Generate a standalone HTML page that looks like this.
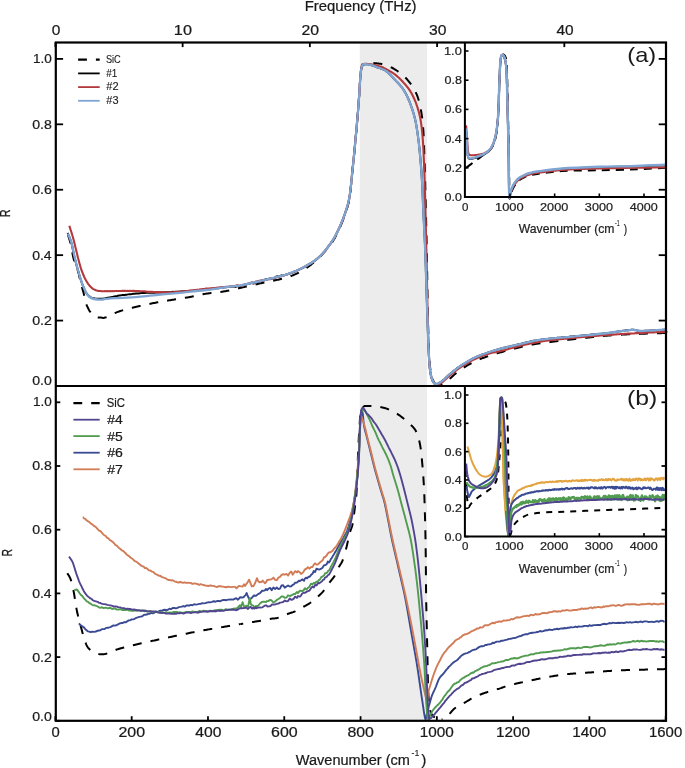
<!DOCTYPE html>
<html><head><meta charset="utf-8"><title>Reflectance</title>
<style>html,body{margin:0;padding:0;background:#fff;} svg{display:block;}</style>
</head><body>
<svg width="685" height="768" viewBox="0 0 685 768">
<rect x="0" y="0" width="685" height="768" fill="#ffffff"/>
<rect x="359.8" y="42.5" width="67.19999999999999" height="343.5" fill="#ececec"/>
<rect x="359.8" y="386.0" width="67.19999999999999" height="334.79999999999995" fill="#ececec"/>
<path d="M68.00,235.00 L68.18,235.58 L68.41,236.30 L68.69,237.15 L69.00,238.10 L69.34,239.14 L69.68,240.25 L70.03,241.41 L70.38,242.60 L70.70,243.81 L71.00,245.00 L71.21,245.93 L71.40,246.90 L71.58,247.90 L71.75,248.92 L71.92,249.97 L72.09,251.04 L72.26,252.12 L72.44,253.22 L72.64,254.32 L72.84,255.42 L73.07,256.52 L73.32,257.62 L73.60,258.70 L73.87,259.65 L74.17,260.63 L74.50,261.62 L74.85,262.63 L75.22,263.66 L75.60,264.68 L75.98,265.70 L76.36,266.71 L76.74,267.70 L77.10,268.68 L77.46,269.62 L77.79,270.53 L78.09,271.40 L78.36,272.23 L78.60,273.00 L78.94,274.27 L79.17,275.35 L79.33,276.29 L79.44,277.14 L79.54,277.98 L79.67,278.87 L79.84,279.85 L80.10,281.00 L80.33,281.87 L80.59,282.80 L80.87,283.79 L81.18,284.81 L81.50,285.87 L81.83,286.94 L82.15,288.01 L82.48,289.07 L82.79,290.12 L83.09,291.13 L83.36,292.09 L83.60,293.00 L83.88,294.15 L84.12,295.26 L84.33,296.33 L84.52,297.37 L84.70,298.37 L84.88,299.33 L85.07,300.26 L85.27,301.15 L85.50,302.00 L85.89,303.20 L86.30,304.31 L86.74,305.33 L87.17,306.28 L87.60,307.17 L88.00,308.00 L88.52,309.08 L88.99,309.99 L89.49,310.82 L90.10,311.70 L90.70,312.49 L91.39,313.31 L92.11,314.13 L92.82,314.87 L93.50,315.50 L94.47,316.27 L95.40,316.81 L96.50,317.20 L97.51,317.41 L98.62,317.53 L99.80,317.58 L101.00,317.60 L101.80,317.69 L102.45,317.84 L103.21,317.91 L104.31,317.78 L106.00,317.30 L106.62,317.07 L107.25,316.81 L107.91,316.51 L108.60,316.18 L109.31,315.83 L110.06,315.45 L110.85,315.05 L111.68,314.63 L112.56,314.19 L113.48,313.75 L114.46,313.30 L115.50,312.84 L116.60,312.38 L117.77,311.92 L119.00,311.47 L120.31,311.03 L121.70,310.60 L122.45,310.38 L123.23,310.16 L124.04,309.93 L124.87,309.70 L125.74,309.47 L126.62,309.23 L127.53,308.99 L128.46,308.75 L129.41,308.51 L130.38,308.27 L131.36,308.03 L132.36,307.78 L133.38,307.54 L134.41,307.29 L135.45,307.04 L136.50,306.80 L137.56,306.55 L138.62,306.31 L139.69,306.06 L140.77,305.82 L141.85,305.58 L142.93,305.34 L144.01,305.10 L145.08,304.87 L146.16,304.64 L147.23,304.41 L148.30,304.18 L149.36,303.96 L150.41,303.74 L151.45,303.52 L152.48,303.31 L153.50,303.10 L154.50,302.90 L155.50,302.70 L156.52,302.50 L157.54,302.31 L158.58,302.12 L159.62,301.93 L160.67,301.74 L161.73,301.56 L162.79,301.37 L163.85,301.19 L164.92,301.01 L165.99,300.84 L167.06,300.66 L168.13,300.49 L169.19,300.32 L170.25,300.15 L171.31,299.98 L172.36,299.82 L173.41,299.65 L174.44,299.49 L175.47,299.33 L176.49,299.17 L177.49,299.02 L178.48,298.86 L179.46,298.71 L180.42,298.56 L181.36,298.41 L182.29,298.26 L183.19,298.11 L184.08,297.97 L184.95,297.82 L185.79,297.68 L186.61,297.54 L187.40,297.40 L188.79,297.15 L190.09,296.90 L191.33,296.66 L192.49,296.43 L193.60,296.21 L194.65,295.99 L195.66,295.77 L196.64,295.56 L197.58,295.36 L198.50,295.16 L199.41,294.96 L200.31,294.77 L201.22,294.58 L202.13,294.40 L203.05,294.22 L204.00,294.04 L204.98,293.87 L206.00,293.70 L207.01,293.54 L207.98,293.41 L208.91,293.29 L209.81,293.19 L210.70,293.10 L211.57,293.02 L212.45,292.94 L213.33,292.87 L214.24,292.79 L215.17,292.70 L216.14,292.60 L217.16,292.49 L218.24,292.36 L219.38,292.20 L220.60,292.03 L221.90,291.82 L223.30,291.58 L224.80,291.30 L225.55,291.15 L226.34,291.00 L227.16,290.83 L228.00,290.66 L228.87,290.48 L229.77,290.29 L230.70,290.10 L231.64,289.89 L232.60,289.68 L233.59,289.47 L234.59,289.25 L235.61,289.02 L236.64,288.79 L237.68,288.56 L238.73,288.32 L239.80,288.08 L240.87,287.84 L241.94,287.60 L243.02,287.35 L244.10,287.10 L245.18,286.85 L246.26,286.61 L247.34,286.36 L248.41,286.11 L249.48,285.87 L250.53,285.62 L251.58,285.38 L252.62,285.14 L253.64,284.91 L254.65,284.67 L255.65,284.45 L256.62,284.22 L257.58,284.00 L258.51,283.79 L259.42,283.58 L260.31,283.38 L261.17,283.19 L262.00,283.00 L263.23,282.73 L264.43,282.47 L265.61,282.22 L266.76,281.98 L267.89,281.74 L268.99,281.52 L270.08,281.30 L271.14,281.09 L272.19,280.88 L273.21,280.68 L274.22,280.47 L275.21,280.27 L276.18,280.08 L277.14,279.88 L278.08,279.68 L279.01,279.47 L279.92,279.27 L280.83,279.06 L281.72,278.84 L282.60,278.62 L283.48,278.40 L284.34,278.16 L285.20,277.92 L286.05,277.66 L286.90,277.40 L287.99,277.04 L289.05,276.69 L290.08,276.32 L291.08,275.96 L292.06,275.59 L293.01,275.22 L293.94,274.83 L294.84,274.45 L295.74,274.05 L296.61,273.65 L297.48,273.23 L298.33,272.81 L299.17,272.38 L300.01,271.93 L300.85,271.47 L301.68,271.00 L302.52,270.52 L303.36,270.02 L304.20,269.50 L305.04,268.97 L305.88,268.42 L306.71,267.86 L307.54,267.28 L308.36,266.69 L309.17,266.09 L309.97,265.48 L310.77,264.85 L311.56,264.22 L312.35,263.58 L313.13,262.93 L313.90,262.27 L314.66,261.60 L315.42,260.93 L316.17,260.25 L316.91,259.57 L317.65,258.88 L318.38,258.19 L319.10,257.50 L319.86,256.76 L320.61,256.01 L321.37,255.24 L322.12,254.47 L322.86,253.68 L323.60,252.88 L324.33,252.08 L325.05,251.27 L325.76,250.46 L326.46,249.64 L327.15,248.82 L327.82,248.01 L328.48,247.19 L329.12,246.38 L329.75,245.58 L330.35,244.78 L330.94,243.98 L331.50,243.20 L332.14,242.27 L332.76,241.36 L333.33,240.45 L333.89,239.55 L334.41,238.66 L334.92,237.76 L335.40,236.87 L335.87,235.98 L336.33,235.08 L336.78,234.18 L337.22,233.27 L337.66,232.35 L338.10,231.41 L338.55,230.46 L339.00,229.50 L339.43,228.58 L339.85,227.65 L340.27,226.71 L340.69,225.76 L341.10,224.81 L341.50,223.84 L341.90,222.87 L342.30,221.89 L342.69,220.91 L343.07,219.93 L343.45,218.94 L343.81,217.95 L344.17,216.96 L344.52,215.97 L344.87,214.99 L345.20,214.00 L345.52,213.04 L345.84,212.11 L346.14,211.20 L346.44,210.32 L346.73,209.44 L347.01,208.56 L347.28,207.68 L347.55,206.78 L347.81,205.86 L348.07,204.90 L348.32,203.90 L348.56,202.86 L348.80,201.75 L349.04,200.58 L349.27,199.33 L349.50,198.00 L349.63,197.20 L349.76,196.36 L349.88,195.50 L350.00,194.60 L350.12,193.68 L350.24,192.74 L350.35,191.77 L350.47,190.79 L350.58,189.78 L350.69,188.76 L350.80,187.73 L350.90,186.68 L351.01,185.63 L351.11,184.56 L351.22,183.49 L351.32,182.42 L351.42,181.35 L351.52,180.27 L351.62,179.20 L351.72,178.13 L351.82,177.07 L351.91,176.02 L352.01,174.98 L352.11,173.95 L352.21,172.93 L352.30,171.94 L352.40,170.96 L352.50,170.00 L352.61,168.95 L352.71,167.93 L352.82,166.94 L352.92,165.96 L353.02,165.00 L353.12,164.05 L353.21,163.12 L353.31,162.20 L353.40,161.28 L353.50,160.36 L353.59,159.44 L353.68,158.52 L353.78,157.60 L353.87,156.67 L353.97,155.72 L354.06,154.76 L354.16,153.78 L354.26,152.79 L354.36,151.77 L354.46,150.72 L354.56,149.65 L354.67,148.54 L354.77,147.40 L354.89,146.22 L355.00,145.00 L355.08,144.15 L355.16,143.28 L355.24,142.39 L355.33,141.48 L355.42,140.55 L355.50,139.61 L355.59,138.64 L355.68,137.67 L355.78,136.68 L355.87,135.68 L355.96,134.66 L356.06,133.64 L356.15,132.61 L356.25,131.57 L356.34,130.52 L356.44,129.46 L356.54,128.41 L356.63,127.34 L356.73,126.28 L356.83,125.21 L356.92,124.15 L357.02,123.08 L357.11,122.02 L357.20,120.96 L357.30,119.91 L357.39,118.86 L357.48,117.82 L357.57,116.78 L357.66,115.75 L357.74,114.74 L357.83,113.73 L357.91,112.74 L357.99,111.76 L358.07,110.80 L358.15,109.85 L358.23,108.91 L358.30,108.00 L358.39,106.88 L358.47,105.76 L358.55,104.63 L358.64,103.50 L358.71,102.38 L358.79,101.25 L358.87,100.12 L358.94,99.00 L359.01,97.89 L359.08,96.78 L359.15,95.68 L359.22,94.58 L359.28,93.50 L359.35,92.43 L359.41,91.38 L359.48,90.33 L359.54,89.31 L359.60,88.30 L359.66,87.30 L359.72,86.33 L359.78,85.38 L359.84,84.46 L359.89,83.55 L359.95,82.67 L360.01,81.82" fill="none" stroke="#000" stroke-width="2.0" stroke-linejoin="round" stroke-dasharray="9 9" stroke-dashoffset="0.00"/>
<path d="M360.01,81.82 L360.07,80.99 L360.13,80.20 L360.18,79.43 L360.24,78.70 L360.30,78.00 L360.45,76.26 L360.57,74.74 L360.67,73.42 L360.77,72.28 L360.86,71.29 L360.96,70.42 L361.08,69.64 L361.21,68.94 L361.37,68.28 L361.56,67.64 L361.80,67.00 L362.40,65.79 L363.07,64.95 L363.87,64.38 L364.83,63.97 L366.00,63.60 L366.86,63.39 L367.80,63.24 L368.83,63.13 L369.92,63.07 L371.07,63.06 L372.26,63.08 L373.47,63.12 L374.70,63.20 L375.61,63.27 L376.56,63.34 L377.54,63.43 L378.53,63.54 L379.55,63.66 L380.58,63.81 L381.61,63.98 L382.65,64.18 L383.67,64.42 L384.70,64.69 L385.70,65.00 L386.61,65.32 L387.52,65.66 L388.43,66.03 L389.34,66.42 L390.25,66.84 L391.16,67.28 L392.06,67.75 L392.97,68.25 L393.88,68.77 L394.78,69.32 L395.69,69.90 L396.60,70.50 L397.38,71.04 L398.18,71.59 L398.97,72.16 L399.78,72.75 L400.58,73.36 L401.38,73.99 L402.18,74.64 L402.98,75.31 L403.76,76.00 L404.54,76.71 L405.30,77.45 L406.05,78.21 L406.79,78.99 L407.50,79.80 L408.12,80.53 L408.73,81.28 L409.34,82.06 L409.95,82.85 L410.55,83.66 L411.14,84.49 L411.72,85.34 L412.29,86.20 L412.85,87.08 L413.40,87.96 L413.93,88.86 L414.44,89.78 L414.94,90.70 L415.42,91.62 L415.87,92.56 L416.30,93.50 L416.68,94.39 L417.05,95.29 L417.39,96.20 L417.72,97.12 L418.03,98.04 L418.32,98.98 L418.60,99.92 L418.87,100.87 L419.13,101.84 L419.37,102.82 L419.61,103.81 L419.84,104.81 L420.06,105.82 L420.27,106.84 L420.49,107.88 L420.69,108.93 L420.90,110.00 L421.07,110.91 L421.23,111.80 L421.39,112.69 L421.54,113.58 L421.68,114.46 L421.82,115.35 L421.95,116.25 L422.07,117.15 L422.19,118.07 L422.31,119.01 L422.42,119.96 L422.52,120.94 L422.63,121.94 L422.73,122.98 L422.83,124.05 L422.93,125.15 L423.02,126.29 L423.11,127.48 L423.21,128.72 L423.30,130.00 L423.36,130.83 L423.41,131.68 L423.47,132.56 L423.52,133.45 L423.57,134.37 L423.62,135.30 L423.67,136.25 L423.71,137.22 L423.76,138.20 L423.80,139.20 L423.84,140.20 L423.89,141.22 L423.93,142.25 L423.97,143.30 L424.01,144.34 L424.04,145.40 L424.08,146.46 L424.12,147.53 L424.15,148.60 L424.19,149.68 L424.23,150.75 L424.26,151.83 L424.29,152.91 L424.33,153.98 L424.36,155.05 L424.40,156.12 L424.43,157.19 L424.46,158.25 L424.50,159.30 L424.53,160.34 L424.57,161.38 L424.60,162.40 L424.63,163.41 L424.67,164.40 L424.70,165.37 L424.73,166.33 L424.76,167.28 L424.79,168.21 L424.82,169.14 L424.84,170.06 L424.87,170.97 L424.90,171.88 L424.92,172.79 L424.95,173.70 L424.97,174.62 L425.00,175.54 L425.02,176.46 L425.05,177.40 L425.08,178.35 L425.10,179.31 L425.13,180.28 L425.15,181.27 L425.18,182.28 L425.20,183.31 L425.23,184.37 L425.26,185.44 L425.28,186.55 L425.31,187.68 L425.34,188.85 L425.37,190.04 L425.40,191.28 L425.43,192.55 L425.47,193.85 L425.50,195.20 L425.52,196.02 L425.54,196.84 L425.56,197.68 L425.58,198.52 L425.61,199.38 L425.63,200.24 L425.65,201.11 L425.67,201.99 L425.69,202.88 L425.72,203.78 L425.74,204.69 L425.76,205.61 L425.79,206.53 L425.81,207.46 L425.83,208.40 L425.86,209.35 L425.88,210.31 L425.91,211.27 L425.93,212.25 L425.96,213.22 L425.98,214.21 L426.01,215.20 L426.03,216.21 L426.06,217.21 L426.08,218.23 L426.11,219.25 L426.13,220.27 L426.16,221.31 L426.18,222.35 L426.21,223.39 L426.23,224.45 L426.26,225.50 L426.28,226.57 L426.31,227.64 L426.33,228.71 L426.36,229.79 L426.38,230.88 L426.41,231.97 L426.43,233.06 L426.46,234.16 L426.49,235.27 L426.51,236.38 L426.54,237.49 L426.56,238.61 L426.58,239.73 L426.61,240.86 L426.63,241.99 L426.66,243.12 L426.68,244.26 L426.71,245.40 L426.73,246.55 L426.75,247.69 L426.78,248.85 L426.80,250.00 L426.82,250.90 L426.84,251.81 L426.85,252.73 L426.87,253.66 L426.89,254.60 L426.91,255.56 L426.92,256.52 L426.94,257.49 L426.96,258.47 L426.97,259.46 L426.99,260.46 L427.01,261.47 L427.02,262.49 L427.04,263.51 L427.06,264.54 L427.08,265.57 L427.09,266.61 L427.11,267.66 L427.12,268.71 L427.14,269.77 L427.16,270.83 L427.17,271.89 L427.19,272.96 L427.21,274.03 L427.22,275.11 L427.24,276.19 L427.26,277.26 L427.27,278.35 L427.29,279.43 L427.31,280.51 L427.32,281.59 L427.34,282.68 L427.35,283.76 L427.37,284.84 L427.39,285.93 L427.40,287.00 L427.42,288.08 L427.44,289.16 L427.45,290.23 L427.47,291.30 L427.49,292.37 L427.50,293.43 L427.52,294.49 L427.54,295.54 L427.55,296.59 L427.57,297.63 L427.59,298.67 L427.60,299.70 L427.62,300.73 L427.64,301.74 L427.66,302.75 L427.67,303.76 L427.69,304.75 L427.71,305.73 L427.72,306.71 L427.74,307.68 L427.76,308.63 L427.78,309.58 L427.80,310.52 L427.81,311.44 L427.83,312.36 L427.85,313.26 L427.87,314.15 L427.89,315.02 L427.91,315.89 L427.92,316.74 L427.94,317.58 L427.96,318.40 L427.98,319.21 L428.00,320.00 L428.03,321.36 L428.07,322.71 L428.10,324.03 L428.14,325.33 L428.17,326.61 L428.20,327.86 L428.24,329.10 L428.27,330.32 L428.31,331.52 L428.34,332.70 L428.38,333.85 L428.41,334.99 L428.45,336.11 L428.48,337.21 L428.52,338.30 L428.55,339.36 L428.59,340.41 L428.63,341.43 L428.66,342.44 L428.70,343.44 L428.74,344.41 L428.77,345.37 L428.81,346.31 L428.85,347.24 L428.89,348.15 L428.93,349.04 L428.96,349.92 L429.00,350.78 L429.04,351.63 L429.08,352.46 L429.12,353.28 L429.16,354.08 L429.20,354.87 L429.25,355.64 L429.29,356.40 L429.33,357.15 L429.37,357.88 L429.41,358.60 L429.46,359.31 L429.50,360.00 L429.62,361.74 L429.73,363.31 L429.85,364.71 L429.97,365.98 L430.09,367.11 L430.22,368.14 L430.34,369.07 L430.47,369.92 L430.60,370.70 L430.74,371.44 L430.88,372.15 L431.03,372.85 L431.18,373.54 L431.34,374.26 L431.50,375.00 L431.82,376.37 L432.16,377.62 L432.51,378.75 L432.88,379.77 L433.26,380.70 L433.66,381.54 L434.07,382.31 L434.50,383.00 L435.28,384.24 L436.04,385.19 L437.03,385.70" fill="none" stroke="#000" stroke-width="2.0" stroke-linejoin="round" stroke-dasharray="9 9" stroke-dashoffset="7.92"/>
<path d="M437.03,385.70 L438.50,385.60 L439.14,385.40 L439.87,385.09 L440.67,384.70 L441.53,384.23 L442.43,383.70 L443.36,383.12 L444.30,382.51 L445.25,381.88 L446.19,381.24 L447.10,380.60 L447.98,379.99 L448.80,379.40 L449.65,378.77 L450.48,378.11 L451.29,377.43 L452.08,376.73 L452.86,376.03 L453.63,375.33 L454.40,374.63 L455.16,373.94 L455.93,373.27 L456.71,372.62 L457.50,372.00 L458.38,371.34 L459.26,370.71 L460.14,370.09 L461.02,369.48 L461.90,368.89 L462.78,368.31 L463.66,367.74 L464.54,367.19 L465.42,366.64 L466.30,366.10 L467.27,365.51 L468.24,364.94 L469.20,364.37 L470.17,363.83 L471.13,363.29 L472.10,362.77 L473.06,362.26 L474.03,361.77 L475.00,361.30 L475.97,360.84 L476.95,360.41 L477.93,359.99 L478.91,359.58 L479.89,359.19 L480.87,358.80 L481.85,358.43 L482.83,358.06 L483.80,357.70 L484.78,357.34 L485.78,356.99 L486.79,356.65 L487.79,356.31 L488.79,355.99 L489.77,355.67 L490.72,355.37 L491.63,355.08 L492.50,354.80 L493.54,354.46 L494.29,354.20 L494.98,353.97 L495.84,353.70 L497.10,353.33 L499.00,352.80 L499.69,352.61 L500.44,352.40 L501.24,352.17 L502.10,351.93 L503.00,351.68 L503.95,351.41 L504.94,351.14 L505.96,350.85 L507.00,350.56 L508.07,350.27 L509.16,349.97 L510.26,349.67 L511.37,349.37 L512.49,349.07 L513.60,348.78 L514.71,348.49 L515.81,348.21 L516.89,347.94 L517.95,347.68 L518.99,347.43 L520.00,347.20 L520.94,346.98 L521.79,346.78 L522.57,346.59 L523.28,346.41 L523.95,346.24 L524.58,346.07 L525.20,345.91 L525.82,345.76 L526.45,345.61 L527.12,345.46 L527.82,345.30 L528.59,345.15 L529.43,344.99 L530.37,344.82 L531.41,344.64 L532.56,344.45 L533.86,344.26 L535.31,344.04 L536.92,343.81 L538.71,343.57 L540.70,343.30 L541.37,343.21 L542.06,343.12 L542.77,343.03 L543.50,342.93 L544.26,342.83 L545.03,342.73 L545.82,342.63 L546.63,342.52 L547.47,342.42 L548.31,342.31 L549.18,342.20 L550.06,342.08 L550.96,341.97 L551.88,341.85 L552.81,341.73 L553.75,341.61 L554.71,341.49 L555.68,341.37 L556.66,341.25 L557.66,341.12 L558.67,341.00 L559.69,340.87 L560.72,340.74 L561.76,340.61 L562.81,340.48 L563.86,340.35 L564.93,340.22 L566.00,340.09 L567.09,339.96 L568.17,339.83 L569.27,339.70 L570.37,339.57 L571.47,339.43 L572.58,339.30 L573.69,339.17 L574.81,339.04 L575.93,338.91 L577.05,338.78 L578.17,338.65 L579.29,338.52 L580.41,338.39 L581.54,338.27 L582.66,338.14 L583.78,338.01 L584.90,337.89 L586.02,337.76 L587.13,337.64 L588.24,337.52 L589.34,337.40 L590.45,337.28 L591.54,337.17 L592.63,337.05 L593.72,336.94 L594.79,336.83 L595.86,336.72 L596.92,336.61 L597.98,336.51 L599.02,336.41 L600.05,336.31 L601.07,336.21 L602.09,336.11 L603.09,336.02 L604.08,335.93 L605.05,335.84 L606.02,335.76 L606.97,335.68 L607.90,335.60 L609.00,335.51 L610.10,335.42 L611.22,335.34 L612.34,335.26 L613.48,335.18 L614.62,335.10 L615.77,335.02 L616.92,334.95 L618.08,334.88 L619.24,334.81 L620.41,334.74 L621.58,334.67 L622.76,334.61 L623.93,334.55 L625.10,334.49 L626.28,334.43 L627.45,334.37 L628.63,334.31 L629.80,334.26 L630.96,334.21 L632.13,334.16 L633.29,334.11 L634.44,334.06 L635.59,334.01 L636.73,333.97 L637.86,333.92 L638.98,333.88 L640.10,333.84 L641.20,333.80 L642.30,333.76 L643.38,333.72 L644.45,333.69 L645.51,333.65 L646.55,333.61 L647.58,333.58 L648.59,333.55 L649.59,333.52 L650.57,333.49 L651.53,333.45 L652.48,333.43 L653.40,333.40 L654.31,333.37 L655.20,333.34 L656.06,333.31 L656.90,333.29 L657.72,333.26 L658.52,333.24 L659.29,333.21 L660.03,333.19 L660.75,333.16 L661.45,333.14 L662.11,333.12 L662.75,333.09 L663.36,333.07 L663.94,333.05 L664.48,333.02 L665.00,333.00" fill="none" stroke="#000" stroke-width="2.0" stroke-linejoin="round" stroke-dasharray="9 9" stroke-dashoffset="3.42"/>
<path d="M67.60,233.00 L67.89,233.71 L68.29,234.63 L68.76,235.71 L69.27,236.94 L69.82,238.26 L70.35,239.66 L70.86,241.08 L71.30,242.50 L71.59,243.56 L71.86,244.67 L72.13,245.83 L72.38,247.03 L72.63,248.26 L72.87,249.50 L73.11,250.74 L73.35,251.97 L73.60,253.18 L73.85,254.36 L74.10,255.50 L74.42,256.85 L74.74,258.19 L75.06,259.50 L75.38,260.80 L75.71,262.07 L76.03,263.33 L76.35,264.57 L76.68,265.80 L77.00,267.00 L77.36,268.32 L77.71,269.61 L78.06,270.86 L78.41,272.09 L78.77,273.32 L79.13,274.54 L79.51,275.76 L79.90,277.00 L80.31,278.27 L80.73,279.57 L81.16,280.88 L81.61,282.19 L82.05,283.47 L82.50,284.71 L82.95,285.89 L83.40,287.00 L83.99,288.38 L84.57,289.69 L85.15,290.91 L85.74,292.06 L86.36,293.11 L87.00,293.96 L87.99,295.12 L89.02,296.16 L90.11,296.87 L91.30,297.60 L92.62,298.02 L94.04,298.29 L95.52,298.63 L97.00,298.86 L98.15,298.84 L99.30,298.78 L100.46,298.77 L101.69,298.81 L103.00,298.68 L104.15,298.40 L105.32,298.21 L106.54,297.96 L107.83,297.71 L109.21,297.60 L110.70,297.24 L111.72,297.10 L112.71,296.88 L113.72,296.59 L114.76,296.46 L115.88,296.12 L117.10,295.95 L118.46,295.61 L119.98,295.40 L121.70,295.13 L122.65,295.01 L123.65,295.03 L124.72,294.91 L125.83,294.67 L126.99,294.63 L128.19,294.38 L129.43,294.25 L130.69,294.21 L131.97,294.06 L133.27,293.81 L134.58,293.83 L135.90,293.59 L137.21,293.44 L138.52,293.43 L139.82,293.26 L141.11,293.13 L142.37,292.98 L143.60,292.88 L144.82,292.91 L146.04,292.80 L147.27,292.80 L148.49,292.73 L149.72,292.69 L150.95,292.76 L152.18,292.66 L153.41,292.63 L154.64,292.67 L155.86,292.51 L157.08,292.45 L158.30,292.57 L159.52,292.57 L160.73,292.43 L161.93,292.35 L163.13,292.42 L164.32,292.45 L165.50,292.27 L166.74,292.33 L167.98,292.30 L169.21,292.19 L170.43,292.08 L171.65,291.94 L172.86,291.84 L174.07,291.97 L175.27,291.81 L176.47,291.81 L177.66,291.67 L178.86,291.70 L180.05,291.62 L181.24,291.48 L182.43,291.36 L183.62,291.38 L184.81,291.20 L186.00,291.12 L187.27,291.10 L188.53,291.09 L189.80,290.97 L191.06,290.80 L192.33,290.81 L193.59,290.59 L194.85,290.41 L196.11,290.34 L197.36,290.27 L198.61,290.10 L199.86,289.99 L201.10,289.92 L202.33,289.86 L203.56,289.66 L204.78,289.57 L206.00,289.57 L207.30,289.49 L208.60,289.30 L209.90,289.14 L211.20,288.97 L212.50,288.72 L213.79,288.51 L215.08,288.34 L216.36,288.37 L217.62,288.22 L218.87,288.13 L220.10,287.80 L221.31,287.72 L222.50,287.57 L223.66,287.48 L224.80,287.28 L226.15,287.25 L227.42,286.97 L228.63,286.91 L229.78,286.87 L230.91,286.82 L232.03,286.70 L233.16,286.58 L234.33,286.47 L235.55,287.06 L236.83,286.09 L238.21,286.15 L239.70,286.30 L240.70,286.20 L241.72,285.33 L242.78,285.49 L243.86,285.49 L244.97,284.87 L246.11,284.60 L247.26,283.96 L248.43,283.89 L249.62,283.72 L250.83,282.65 L252.05,283.00 L253.28,283.44 L254.51,283.20 L255.76,282.68 L257.01,281.80 L258.26,281.86 L259.51,281.43 L260.76,280.87 L262.00,281.11 L263.14,279.85 L264.30,280.30 L265.49,279.14 L266.69,279.47 L267.91,279.19 L269.15,278.52 L270.39,278.84 L271.64,278.43 L272.89,278.28 L274.14,278.50 L275.38,277.34 L276.62,276.40 L277.85,276.36 L279.07,276.71 L280.26,275.87 L281.44,275.35 L282.59,275.73 L283.72,275.41 L284.81,275.05 L285.88,274.81 L286.90,274.39 L288.28,273.98 L289.61,273.44 L290.88,273.01 L292.12,272.63 L293.32,272.22 L294.48,271.76 L295.62,271.18 L296.73,270.71 L297.82,270.17 L298.89,269.61 L299.96,269.16 L301.02,268.72 L302.07,268.21 L303.13,267.64 L304.20,267.12 L305.34,266.37 L306.48,265.69 L307.60,265.10 L308.70,264.44 L309.80,263.78 L310.88,263.15 L311.96,262.53 L313.02,261.83 L314.06,261.07 L315.10,260.42 L316.12,259.70 L317.12,258.82 L318.12,257.90 L319.10,257.00 L319.95,256.33 L320.80,255.41 L321.65,254.61 L322.49,253.71 L323.32,252.75 L324.15,251.86 L324.96,250.81 L325.76,249.83 L326.55,248.88 L327.32,247.86 L328.07,246.95 L328.80,245.94 L329.51,244.95 L330.20,243.98 L330.86,243.10 L331.50,242.19 L332.24,241.12 L332.94,240.06 L333.59,239.02 L334.21,237.99 L334.80,236.95 L335.36,235.89 L335.91,234.87 L336.43,233.83 L336.95,232.79 L337.46,231.75 L337.97,230.70 L338.48,229.60 L339.00,228.49 L339.52,227.36 L340.04,226.22 L340.56,225.06 L341.07,223.88 L341.57,222.70 L342.06,221.50 L342.54,220.29 L343.01,219.08 L343.48,217.86 L343.93,216.65 L344.36,215.43 L344.79,214.21 L345.20,213.00 L345.60,211.82 L345.98,210.68 L346.35,209.57 L346.71,208.47 L347.05,207.38 L347.39,206.28 L347.71,205.15 L348.03,203.98 L348.34,202.75 L348.64,201.45 L348.93,200.07 L349.22,198.59 L349.50,197.00 L349.66,196.00 L349.82,194.95 L349.98,193.86 L350.13,192.73 L350.28,191.57 L350.43,190.38 L350.57,189.16 L350.71,187.91 L350.84,186.65 L350.98,185.36 L351.11,184.07 L351.24,182.76 L351.37,181.45 L351.50,180.14 L351.63,178.83 L351.75,177.52 L351.88,176.23 L352.00,174.94 L352.13,173.67 L352.25,172.42 L352.38,171.20 L352.50,170.00 L352.63,168.78 L352.75,167.59 L352.88,166.42 L353.00,165.28 L353.11,164.15 L353.23,163.04 L353.34,161.94 L353.45,160.84 L353.56,159.74 L353.68,158.64 L353.79,157.53 L353.90,156.40 L354.01,155.26 L354.13,154.09 L354.24,152.90 L354.36,151.67 L354.48,150.41 L354.61,149.10 L354.73,147.75 L354.86,146.35 L355.00,144.90 L355.10,143.88 L355.19,142.83 L355.29,141.75 L355.40,140.64 L355.50,139.50 L355.61,138.35 L355.72,137.17 L355.83,135.97 L355.94,134.76 L356.05,133.53 L356.16,132.29 L356.28,131.04 L356.39,129.77 L356.51,128.50 L356.62,127.23 L356.74,125.95 L356.85,124.67 L356.97,123.39 L357.08,122.11 L357.19,120.84 L357.30,119.57 L357.41,118.31 L357.52,117.07 L357.63,115.83 L357.73,114.61 L357.83,113.41 L357.93,112.22 L358.03,111.06 L358.12,109.91 L358.21,108.79 L358.30,107.70 L358.41,106.30 L358.51,104.90 L358.62,103.50 L358.72,102.09 L358.81,100.69 L358.91,99.30 L359.00,97.91 L359.09,96.53 L359.18,95.17 L359.26,93.82 L359.34,92.49 L359.43,91.18 L359.50,89.89 L359.58,88.63 L359.66,87.40 L359.73,86.20 L359.81,85.03 L359.88,83.90 L359.95,82.81 L360.02,81.75 L360.09,80.74 L360.16,79.78 L360.23,78.86 L360.30,78.00 L360.49,75.72 L360.65,73.86 L360.80,72.34 L360.94,71.10 L361.08,70.07 L361.23,69.17 L361.40,68.34 L361.60,67.50 L362.11,65.72 L362.71,64.78 L363.80,64.28 L364.82,64.15 L366.09,64.07 L367.49,64.20 L368.92,64.58 L370.30,64.76 L371.58,65.24 L372.83,65.68 L374.10,66.02 L375.44,66.55 L376.90,67.23 L378.04,67.57 L379.26,67.90 L380.52,68.45 L381.82,68.85 L383.13,69.45 L384.43,69.96 L385.70,70.76 L386.57,71.46 L387.44,72.07 L388.31,72.84 L389.18,73.74 L390.05,74.66 L390.92,75.57 L391.79,76.37 L392.66,77.33 L393.53,78.30 L394.40,79.21 L395.20,80.07 L396.03,80.86 L396.85,81.68 L397.69,82.55 L398.52,83.43 L399.35,84.41 L400.17,85.35 L400.96,86.30 L401.74,87.23 L402.49,88.23 L403.20,89.26 L403.83,90.28 L404.43,91.27 L405.01,92.26 L405.57,93.21 L406.12,94.21 L406.66,95.29 L407.18,96.35 L407.69,97.46 L408.20,98.58 L408.70,99.74 L409.20,100.95 L409.70,102.20 L410.10,103.23 L410.50,104.29 L410.90,105.37 L411.30,106.48 L411.69,107.60 L412.08,108.75 L412.46,109.92 L412.84,111.11 L413.21,112.31 L413.57,113.53 L413.92,114.76 L414.26,116.01 L414.58,117.26 L414.90,118.53 L415.20,119.80 L415.45,120.93 L415.70,122.09 L415.93,123.25 L416.15,124.43 L416.37,125.62 L416.57,126.83 L416.77,128.04 L416.96,129.27 L417.15,130.50 L417.33,131.74 L417.51,132.98 L417.68,134.23 L417.85,135.48 L418.01,136.74 L418.18,137.99 L418.34,139.25 L418.50,140.50 L418.65,141.69 L418.80,142.88 L418.94,144.08 L419.08,145.29 L419.21,146.50 L419.34,147.71 L419.47,148.93 L419.59,150.15 L419.71,151.38 L419.83,152.60 L419.95,153.83 L420.06,155.06 L420.17,156.28 L420.28,157.51 L420.39,158.74 L420.49,159.96 L420.60,161.18 L420.70,162.40 L420.80,163.61 L420.90,164.81 L421.00,166.01 L421.09,167.19 L421.18,168.38 L421.27,169.56 L421.35,170.74 L421.44,171.92 L421.52,173.11 L421.60,174.31 L421.68,175.51 L421.76,176.72 L421.83,177.94 L421.91,179.18 L421.98,180.43 L422.05,181.70 L422.13,182.99 L422.20,184.30 L422.26,185.43 L422.32,186.54 L422.37,187.65 L422.42,188.75 L422.47,189.85 L422.52,190.95 L422.57,192.06 L422.61,193.17 L422.66,194.30 L422.70,195.44 L422.75,196.60 L422.79,197.79 L422.84,199.00 L422.89,200.23 L422.94,201.50 L422.99,202.81 L423.05,204.16 L423.10,205.54 L423.17,206.98 L423.23,208.46 L423.30,210.00 L423.35,211.00 L423.39,212.03 L423.44,213.07 L423.49,214.12 L423.55,215.19 L423.60,216.28 L423.66,217.38 L423.71,218.50 L423.77,219.63 L423.83,220.78 L423.89,221.94 L423.94,223.11 L424.00,224.30 L424.07,225.50 L424.13,226.71 L424.19,227.93 L424.25,229.16 L424.31,230.40 L424.37,231.66 L424.44,232.92 L424.50,234.19 L424.56,235.47 L424.62,236.76 L424.68,238.05 L424.74,239.36 L424.80,240.67 L424.86,241.99 L424.92,243.31 L424.98,244.64 L425.04,245.97 L425.09,247.31 L425.15,248.65 L425.20,250.00 L425.24,251.12 L425.29,252.25 L425.33,253.39 L425.37,254.55 L425.41,255.71 L425.46,256.89 L425.50,258.08 L425.54,259.27 L425.58,260.48 L425.62,261.69 L425.66,262.91 L425.70,264.13 L425.74,265.37 L425.78,266.60 L425.82,267.85 L425.86,269.10 L425.90,270.35 L425.94,271.60 L425.98,272.86 L426.02,274.12 L426.06,275.39 L426.10,276.65 L426.14,277.92 L426.17,279.18 L426.21,280.45 L426.25,281.71 L426.29,282.98 L426.33,284.24 L426.37,285.50 L426.41,286.75 L426.45,288.00 L426.48,289.25 L426.52,290.49 L426.56,291.73 L426.60,292.96 L426.64,294.18 L426.68,295.40 L426.72,296.61 L426.76,297.81 L426.80,299.00 L426.84,300.26 L426.88,301.52 L426.93,302.79 L426.97,304.07 L427.01,305.36 L427.05,306.65 L427.09,307.95 L427.14,309.25 L427.18,310.55 L427.22,311.86 L427.26,313.16 L427.31,314.46 L427.35,315.77 L427.39,317.07 L427.43,318.37 L427.47,319.66 L427.52,320.95 L427.56,322.23 L427.60,323.50 L427.64,324.77 L427.68,326.02 L427.73,327.27 L427.77,328.50 L427.81,329.72 L427.85,330.93 L427.89,332.13 L427.94,333.31 L427.98,334.47 L428.02,335.62 L428.06,336.75 L428.11,337.86 L428.15,338.94 L428.19,340.01 L428.23,341.06 L428.27,342.08 L428.32,343.08 L428.36,344.05 L428.40,345.00 L428.48,346.74 L428.55,348.41 L428.63,350.02 L428.70,351.56 L428.77,353.05 L428.84,354.48 L428.91,355.85 L428.98,357.17 L429.05,358.44 L429.12,359.67 L429.20,360.85 L429.27,361.99 L429.35,363.10 L429.43,364.17 L429.52,365.21 L429.60,366.21 L429.69,367.19 L429.79,368.15 L429.89,369.08 L430.00,370.00 L430.25,371.90 L430.52,373.60 L430.81,375.10 L431.11,376.43 L431.42,377.62 L431.75,378.68 L432.09,379.63 L432.44,380.49 L432.80,381.29 L433.90,383.04 L435.12,383.80 L436.60,383.99 L437.69,383.81 L438.92,383.21 L440.22,382.49 L441.53,381.55 L442.80,380.55 L443.78,379.84 L444.71,379.02 L445.64,378.01 L446.61,376.98 L447.65,376.02 L448.80,375.00 L449.65,374.29 L450.55,373.60 L451.50,372.77 L452.48,371.98 L453.48,371.04 L454.49,370.28 L455.51,369.55 L456.51,368.67 L457.50,367.90 L458.60,367.24 L459.70,366.55 L460.80,365.67 L461.90,365.02 L463.00,364.24 L464.10,363.66 L465.20,363.00 L466.30,362.26 L467.39,361.58 L468.48,361.04 L469.57,360.39 L470.65,359.82 L471.73,359.16 L472.82,358.55 L473.91,358.12 L475.00,357.56 L476.25,356.94 L477.51,356.40 L478.77,355.93 L480.03,355.46 L481.29,355.03 L482.55,354.48 L483.80,354.07 L485.06,353.59 L486.33,353.17 L487.60,352.73 L488.86,352.30 L490.10,351.90 L491.32,351.51 L492.50,351.07 L493.82,350.61 L495.10,350.24 L496.34,349.90 L497.57,349.47 L498.78,349.11 L500.00,348.72 L501.11,348.54 L502.07,348.39 L503.02,348.07 L504.10,347.75 L505.45,347.43 L507.20,347.06 L508.10,346.83 L509.10,346.73 L510.17,346.32 L511.30,346.05 L512.50,345.72 L513.73,345.52 L515.01,345.26 L516.30,344.84 L517.61,344.47 L518.93,344.23 L520.23,343.96 L521.52,343.75 L522.78,343.30 L524.00,343.00 L525.16,342.74 L526.24,342.49 L527.28,342.25 L528.29,342.11 L529.28,341.87 L530.28,341.55 L531.30,341.28 L532.37,341.06 L533.49,340.80 L534.70,340.68 L536.01,340.39 L537.43,340.18 L538.99,340.01 L540.70,339.72 L541.62,339.53 L542.58,339.52 L543.58,339.44 L544.61,339.21 L545.68,339.10 L546.78,339.07 L547.91,338.87 L549.07,338.67 L550.25,338.49 L551.45,338.54 L552.68,338.44 L553.92,338.24 L555.17,338.12 L556.44,338.00 L557.72,337.83 L559.01,337.84 L560.31,337.69 L561.61,337.47 L562.91,337.27 L564.21,337.22 L565.50,337.10 L566.80,337.07 L568.08,336.96 L569.35,336.82 L570.61,336.60 L571.86,336.45 L573.09,336.36 L574.30,336.23 L575.51,336.24 L576.72,336.08 L577.95,335.98 L579.19,335.94 L580.43,335.69 L581.68,335.59 L582.94,335.39 L584.19,335.38 L585.45,335.13 L586.71,335.15 L587.97,335.08 L589.23,334.97 L590.48,334.70 L591.73,334.57 L592.97,334.55 L594.21,334.33 L595.43,334.26 L596.65,334.15 L597.85,334.14 L599.04,333.98 L600.21,333.90 L601.37,333.68 L602.51,333.64 L603.63,333.46 L604.73,333.44 L605.81,333.17 L606.87,333.17 L607.90,332.95 L609.39,332.82 L610.87,332.64 L612.32,332.37 L613.74,332.29 L615.15,332.01 L616.52,331.78 L617.87,331.52 L619.20,331.35 L620.49,331.19 L621.74,331.06 L622.97,330.81 L624.16,330.69 L625.31,330.41 L626.43,330.28 L627.51,330.16 L628.55,330.15 L629.54,330.05 L630.49,329.93 L631.40,329.72 L633.21,329.71 L634.55,329.88 L635.58,330.00 L636.45,330.29 L637.32,330.54 L638.35,330.67 L639.69,331.02 L641.50,331.08 L642.45,330.95 L643.53,330.97 L644.71,330.87 L645.98,330.81 L647.33,330.78 L648.73,330.66 L650.18,330.57 L651.66,330.49 L653.14,330.45 L654.62,330.28 L656.08,330.15 L657.49,330.15 L658.86,330.00 L660.15,330.02 L661.36,329.89 L662.46,329.83 L663.45,329.68 L664.30,329.71 L665.00,329.60" fill="none" stroke="#000" stroke-width="2.0" stroke-linejoin="round"/>
<path d="M69.30,225.70 L69.52,226.38 L69.80,227.26 L70.14,228.30 L70.51,229.47 L70.92,230.73 L71.34,232.05 L71.76,233.39 L72.17,234.72 L72.55,236.00 L72.90,237.20 L73.25,238.48 L73.59,239.76 L73.92,241.04 L74.24,242.32 L74.56,243.60 L74.87,244.87 L75.18,246.15 L75.49,247.43 L75.80,248.70 L76.11,249.98 L76.43,251.27 L76.74,252.56 L77.05,253.85 L77.35,255.13 L77.66,256.41 L77.97,257.66 L78.29,258.90 L78.60,260.10 L78.95,261.43 L79.30,262.73 L79.65,264.01 L80.00,265.27 L80.36,266.51 L80.72,267.73 L81.10,268.93 L81.50,270.10 L81.98,271.43 L82.48,272.74 L82.99,274.03 L83.52,275.28 L84.05,276.49 L84.58,277.63 L85.10,278.70 L85.81,280.06 L86.51,281.26 L87.21,282.43 L87.94,283.53 L88.70,284.57 L89.49,285.53 L90.30,286.43 L91.15,287.29 L92.04,288.13 L93.00,288.84 L93.95,289.32 L94.88,289.81 L95.90,290.24 L97.13,290.62 L98.70,290.96 L99.60,291.02 L100.54,290.99 L101.53,291.18 L102.57,291.18 L103.69,291.20 L104.88,291.15 L106.17,291.18 L107.57,291.17 L109.07,291.25 L110.70,291.13 L111.67,291.19 L112.70,291.11 L113.78,291.19 L114.90,291.06 L116.07,291.05 L117.27,291.04 L118.50,291.07 L119.75,290.94 L121.03,290.96 L122.32,290.90 L123.63,290.88 L124.93,290.89 L126.24,290.99 L127.54,290.91 L128.84,290.98 L130.11,290.84 L131.37,290.96 L132.60,290.89 L133.82,290.86 L135.03,291.00 L136.25,291.11 L137.47,291.00 L138.68,291.06 L139.90,291.24 L141.12,291.25 L142.33,291.29 L143.55,291.31 L144.77,291.38 L145.98,291.57 L147.20,291.76 L148.42,291.87 L149.63,291.84 L150.85,291.78 L152.07,291.85 L153.28,292.01 L154.50,292.08 L155.71,292.09 L156.89,292.03 L158.06,292.10 L159.22,292.13 L160.37,292.20 L161.51,292.16 L162.66,292.31 L163.81,292.36 L164.97,292.24 L166.14,292.23 L167.32,292.35 L168.53,292.26 L169.76,292.35 L171.02,292.27 L172.30,292.25 L173.63,292.21 L174.99,292.04 L176.40,291.94 L177.49,291.86 L178.63,291.85 L179.81,291.78 L181.01,291.56 L182.25,291.56 L183.51,291.37 L184.80,291.18 L186.10,291.06 L187.41,291.03 L188.73,290.82 L190.06,290.66 L191.39,290.56 L192.72,290.42 L194.04,290.22 L195.35,289.98 L196.65,289.83 L197.92,289.74 L199.18,289.58 L200.41,289.38 L201.60,289.18 L202.76,289.03 L203.89,288.97 L204.97,288.83 L206.00,288.61 L207.58,288.56 L209.08,288.48 L210.51,288.34 L211.89,288.23 L213.21,288.12 L214.48,287.93 L215.72,287.86 L216.91,287.68 L218.08,287.50 L219.22,287.43 L220.35,287.33 L221.46,287.37 L222.57,287.26 L223.68,287.13 L224.80,287.03 L226.15,286.82 L227.42,286.78 L228.63,286.75 L229.78,286.63 L230.91,286.52 L232.03,286.47 L233.16,286.38 L234.33,286.35 L235.55,285.79 L236.83,285.40 L238.21,285.41 L239.70,285.72 L240.70,285.79 L241.72,285.54 L242.78,285.67 L243.86,284.83 L244.97,283.99 L246.11,284.14 L247.26,283.95 L248.43,283.37 L249.62,283.62 L250.83,283.08 L252.05,282.59 L253.28,282.35 L254.51,282.85 L255.76,281.61 L257.01,281.47 L258.26,281.12 L259.51,280.71 L260.76,280.66 L262.00,280.18 L263.14,280.73 L264.30,280.18 L265.49,280.07 L266.69,279.17 L267.91,279.09 L269.15,279.04 L270.39,279.13 L271.64,278.20 L272.89,277.99 L274.14,278.21 L275.38,278.04 L276.62,277.02 L277.85,276.90 L279.07,276.93 L280.26,276.26 L281.44,276.19 L282.59,275.72 L283.72,275.47 L284.81,275.09 L285.88,274.77 L286.90,274.38 L288.28,273.99 L289.61,273.47 L290.88,273.03 L292.12,272.55 L293.32,272.06 L294.48,271.55 L295.62,271.09 L296.73,270.67 L297.82,270.14 L298.89,269.58 L299.96,269.21 L301.02,268.62 L302.07,268.20 L303.13,267.61 L304.20,266.99 L305.34,266.46 L306.48,265.87 L307.60,265.13 L308.70,264.42 L309.80,263.86 L310.88,263.27 L311.96,262.56 L313.02,261.89 L314.06,261.11 L315.10,260.39 L316.12,259.56 L317.12,258.77 L318.12,257.94 L319.10,257.07 L319.95,256.28 L320.80,255.51 L321.65,254.56 L322.49,253.65 L323.32,252.73 L324.15,251.87 L324.96,250.88 L325.76,249.84 L326.55,248.93 L327.32,247.97 L328.07,246.98 L328.80,245.96 L329.51,245.01 L330.20,244.03 L330.86,243.07 L331.50,242.22 L332.24,241.15 L332.94,240.03 L333.59,239.02 L334.21,237.93 L334.80,236.91 L335.36,235.87 L335.91,234.85 L336.43,233.83 L336.95,232.81 L337.46,231.75 L337.97,230.68 L338.48,229.60 L339.00,228.49 L339.52,227.38 L340.04,226.22 L340.56,225.05 L341.07,223.88 L341.57,222.69 L342.06,221.49 L342.54,220.29 L343.01,219.08 L343.48,217.87 L343.93,216.65 L344.36,215.43 L344.79,214.21 L345.20,213.00 L345.60,211.82 L345.98,210.68 L346.35,209.57 L346.71,208.47 L347.05,207.38 L347.39,206.28 L347.71,205.15 L348.03,203.98 L348.34,202.75 L348.64,201.45 L348.93,200.07 L349.22,198.59 L349.50,197.00 L349.66,196.00 L349.82,194.95 L349.98,193.86 L350.13,192.73 L350.28,191.57 L350.43,190.38 L350.57,189.16 L350.71,187.91 L350.84,186.65 L350.98,185.36 L351.11,184.07 L351.24,182.76 L351.37,181.45 L351.50,180.14 L351.63,178.83 L351.75,177.52 L351.88,176.23 L352.00,174.94 L352.13,173.67 L352.25,172.42 L352.38,171.20 L352.50,170.00 L352.63,168.78 L352.75,167.59 L352.88,166.42 L353.00,165.28 L353.11,164.15 L353.23,163.04 L353.34,161.94 L353.45,160.84 L353.56,159.74 L353.68,158.64 L353.79,157.53 L353.90,156.40 L354.01,155.26 L354.13,154.09 L354.24,152.90 L354.36,151.67 L354.48,150.41 L354.61,149.10 L354.73,147.75 L354.86,146.35 L355.00,144.90 L355.10,143.88 L355.19,142.83 L355.29,141.75 L355.40,140.64 L355.50,139.50 L355.61,138.35 L355.72,137.17 L355.83,135.97 L355.94,134.76 L356.05,133.53 L356.16,132.29 L356.28,131.04 L356.39,129.77 L356.51,128.50 L356.62,127.23 L356.74,125.95 L356.85,124.67 L356.97,123.39 L357.08,122.11 L357.19,120.84 L357.30,119.57 L357.41,118.31 L357.52,117.07 L357.63,115.83 L357.73,114.61 L357.83,113.41 L357.93,112.22 L358.03,111.06 L358.12,109.91 L358.21,108.79 L358.30,107.70 L358.41,106.30 L358.51,104.90 L358.62,103.50 L358.72,102.09 L358.81,100.69 L358.91,99.30 L359.00,97.91 L359.09,96.53 L359.18,95.17 L359.26,93.82 L359.34,92.49 L359.43,91.18 L359.50,89.89 L359.58,88.63 L359.66,87.40 L359.73,86.20 L359.81,85.03 L359.88,83.90 L359.95,82.81 L360.02,81.75 L360.09,80.74 L360.16,79.78 L360.23,78.86 L360.30,78.00 L360.49,75.72 L360.65,73.86 L360.80,72.35 L360.94,71.12 L361.08,70.09 L361.23,69.19 L361.40,68.35 L361.60,67.50 L361.78,65.57 L362.06,64.43 L363.80,64.00 L364.62,63.87 L365.62,63.88 L366.76,63.91 L368.01,64.08 L369.36,64.25 L370.77,64.33 L372.22,64.58 L373.68,64.88 L375.12,65.13 L376.53,65.46 L377.86,65.78 L379.10,66.16 L380.28,66.47 L381.43,66.85 L382.58,67.24 L383.71,67.88 L384.82,68.42 L385.92,68.89 L387.00,69.55 L388.07,70.16 L389.12,70.62 L390.16,71.35 L391.19,71.94 L392.20,72.56 L393.20,73.23 L394.18,73.96 L395.15,74.64 L396.11,75.38 L397.05,76.17 L397.97,77.01 L398.89,77.81 L399.78,78.64 L400.66,79.60 L401.52,80.43 L402.37,81.31 L403.20,82.21 L404.01,83.15 L404.81,83.95 L405.59,84.84 L406.35,85.82 L407.09,86.76 L407.82,87.71 L408.54,88.64 L409.24,89.61 L409.93,90.62 L410.60,91.74 L411.26,92.86 L411.90,94.01 L412.41,94.98 L412.91,95.96 L413.40,96.99 L413.89,98.06 L414.37,99.12 L414.84,100.22 L415.30,101.34 L415.75,102.48 L416.18,103.63 L416.61,104.80 L417.02,105.98 L417.41,107.17 L417.79,108.38 L418.15,109.59 L418.50,110.80 L418.81,111.93 L419.10,113.04 L419.37,114.14 L419.63,115.24 L419.87,116.33 L420.11,117.44 L420.33,118.56 L420.54,119.71 L420.74,120.88 L420.93,122.09 L421.12,123.35 L421.30,124.65 L421.48,126.01 L421.66,127.43 L421.83,128.93 L422.00,130.50 L422.10,131.50 L422.20,132.51 L422.30,133.54 L422.40,134.58 L422.49,135.63 L422.58,136.71 L422.66,137.80 L422.75,138.90 L422.83,140.02 L422.91,141.17 L422.98,142.33 L423.06,143.51 L423.13,144.71 L423.20,145.93 L423.27,147.17 L423.34,148.43 L423.41,149.72 L423.48,151.03 L423.54,152.36 L423.61,153.72 L423.68,155.10 L423.74,156.51 L423.81,157.94 L423.87,159.40 L423.93,160.89 L424.00,162.40 L424.04,163.43 L424.09,164.48 L424.13,165.54 L424.17,166.62 L424.21,167.72 L424.25,168.83 L424.29,169.96 L424.33,171.11 L424.37,172.26 L424.41,173.43 L424.44,174.62 L424.48,175.81 L424.52,177.01 L424.56,178.23 L424.59,179.46 L424.63,180.69 L424.66,181.93 L424.70,183.18 L424.73,184.44 L424.77,185.70 L424.80,186.97 L424.84,188.24 L424.87,189.52 L424.90,190.80 L424.94,192.09 L424.97,193.37 L425.00,194.66 L425.04,195.95 L425.07,197.24 L425.10,198.53 L425.14,199.82 L425.17,201.10 L425.20,202.39 L425.23,203.67 L425.27,204.94 L425.30,206.22 L425.33,207.48 L425.37,208.75 L425.40,210.00 L425.43,211.19 L425.46,212.37 L425.49,213.56 L425.53,214.74 L425.56,215.92 L425.59,217.10 L425.62,218.27 L425.65,219.45 L425.68,220.63 L425.71,221.80 L425.74,222.98 L425.77,224.16 L425.80,225.33 L425.82,226.51 L425.85,227.69 L425.88,228.87 L425.91,230.06 L425.94,231.24 L425.97,232.43 L426.00,233.63 L426.03,234.82 L426.06,236.02 L426.08,237.23 L426.11,238.44 L426.14,239.65 L426.17,240.87 L426.20,242.09 L426.23,243.32 L426.25,244.56 L426.28,245.80 L426.31,247.05 L426.34,248.31 L426.37,249.58 L426.40,250.85 L426.43,252.13 L426.45,253.42 L426.48,254.71 L426.51,256.02 L426.54,257.34 L426.57,258.66 L426.60,260.00 L426.62,261.11 L426.65,262.23 L426.67,263.37 L426.70,264.52 L426.72,265.69 L426.74,266.86 L426.77,268.05 L426.79,269.25 L426.81,270.46 L426.84,271.68 L426.86,272.91 L426.88,274.14 L426.91,275.39 L426.93,276.64 L426.95,277.89 L426.98,279.16 L427.00,280.42 L427.02,281.69 L427.05,282.96 L427.07,284.24 L427.09,285.52 L427.12,286.79 L427.14,288.07 L427.16,289.35 L427.19,290.62 L427.21,291.90 L427.23,293.17 L427.26,294.44 L427.28,295.70 L427.31,296.96 L427.33,298.21 L427.35,299.46 L427.38,300.70 L427.40,301.93 L427.43,303.15 L427.45,304.37 L427.47,305.57 L427.50,306.77 L427.52,307.95 L427.55,309.12 L427.57,310.28 L427.60,311.42 L427.62,312.55 L427.65,313.67 L427.67,314.76 L427.70,315.85 L427.72,316.91 L427.75,317.96 L427.77,318.99 L427.80,320.00 L427.84,321.51 L427.88,323.00 L427.92,324.47 L427.95,325.93 L427.99,327.38 L428.03,328.80 L428.07,330.21 L428.11,331.60 L428.14,332.97 L428.18,334.33 L428.22,335.67 L428.26,336.99 L428.29,338.29 L428.33,339.57 L428.37,340.83 L428.41,342.07 L428.45,343.30 L428.49,344.50 L428.53,345.68 L428.57,346.85 L428.62,347.99 L428.66,349.11 L428.70,350.21 L428.75,351.29 L428.79,352.35 L428.84,353.38 L428.89,354.40 L428.94,355.39 L428.99,356.36 L429.04,357.30 L429.09,358.23 L429.14,359.12 L429.20,360.00 L429.33,361.95 L429.47,363.72 L429.60,365.34 L429.74,366.81 L429.89,368.16 L430.03,369.39 L430.19,370.53 L430.35,371.59 L430.52,372.57 L430.69,373.51 L430.88,374.40 L431.07,375.27 L431.28,376.13 L431.50,377.00 L431.97,378.64 L432.49,380.08 L433.04,381.33 L433.63,382.40 L434.23,383.22 L434.86,384.00 L435.50,384.45 L436.60,384.96 L437.73,384.94 L438.99,384.43 L440.50,383.59 L441.28,382.97 L442.11,382.31 L443.01,381.64 L443.94,380.73 L444.90,379.98 L445.88,379.04 L446.87,378.15 L447.84,377.27 L448.80,376.53 L449.75,375.67 L450.70,374.84 L451.67,374.02 L452.63,373.22 L453.60,372.52 L454.58,371.82 L455.55,370.90 L456.53,370.19 L457.50,369.46 L458.60,368.67 L459.70,367.92 L460.80,367.13 L461.90,366.47 L463.00,365.75 L464.10,365.02 L465.20,364.35 L466.30,363.86 L467.39,363.21 L468.48,362.63 L469.57,361.98 L470.65,361.34 L471.73,360.63 L472.82,360.00 L473.91,359.61 L475.00,359.06 L476.25,358.49 L477.51,357.83 L478.77,357.42 L480.03,356.91 L481.29,356.34 L482.55,355.87 L483.80,355.57 L485.07,355.09 L486.36,354.50 L487.65,354.01 L488.93,353.71 L490.18,353.25 L491.37,352.90 L492.50,352.52 L493.38,352.31 L493.57,352.42 L493.97,352.46 L495.48,352.18 L499.00,351.40 L499.71,351.29 L500.45,351.06 L501.23,350.84 L502.04,350.70 L502.89,350.41 L503.77,350.30 L504.68,350.09 L505.62,349.83 L506.60,349.61 L507.61,349.18 L508.64,348.90 L509.71,348.60 L510.80,348.23 L511.92,348.06 L513.07,347.62 L514.25,347.46 L515.45,347.12 L516.67,346.85 L517.92,346.35 L519.20,346.14 L520.49,345.86 L521.81,345.51 L523.16,345.13 L524.52,344.81 L525.90,344.45 L527.30,344.20 L528.72,343.86 L530.16,343.53 L531.62,343.20 L533.10,342.94 L534.59,342.66 L536.09,342.46 L537.62,342.18 L539.15,341.83 L540.70,341.64 L541.68,341.41 L542.68,341.29 L543.71,341.16 L544.75,341.07 L545.80,340.80 L546.88,340.64 L547.97,340.50 L549.08,340.45 L550.20,340.24 L551.34,340.17 L552.49,340.12 L553.66,339.91 L554.83,339.71 L556.02,339.64 L557.22,339.48 L558.43,339.35 L559.66,339.16 L560.89,339.12 L562.12,338.95 L563.37,338.95 L564.63,338.75 L565.89,338.65 L567.15,338.58 L568.42,338.48 L569.70,338.17 L570.98,338.18 L572.26,337.93 L573.55,337.94 L574.84,337.83 L576.13,337.61 L577.42,337.56 L578.71,337.43 L580.00,337.29 L581.28,337.20 L582.57,337.06 L583.85,336.99 L585.13,336.90 L586.41,336.65 L587.68,336.64 L588.94,336.57 L590.20,336.51 L591.45,336.35 L592.70,336.24 L593.93,336.05 L595.16,335.93 L596.38,335.98 L597.59,335.75 L598.79,335.79 L599.97,335.57 L601.15,335.49 L602.31,335.46 L603.46,335.26 L604.59,335.22 L605.71,335.22 L606.81,335.08 L607.90,334.93 L609.28,334.78 L610.67,334.85 L612.07,334.62 L613.48,334.60 L614.89,334.52 L616.31,334.35 L617.74,334.29 L619.17,334.24 L620.59,334.06 L622.02,333.95 L623.45,334.00 L624.88,333.81 L626.30,333.75 L627.72,333.67 L629.13,333.66 L630.54,333.62 L631.93,333.53 L633.32,333.43 L634.69,333.33 L636.06,333.16 L637.40,333.16 L638.74,333.08 L640.05,333.08 L641.35,332.96 L642.63,332.83 L643.89,332.80 L645.13,332.85 L646.34,332.75 L647.53,332.72 L648.70,332.54 L649.84,332.49 L650.95,332.44 L652.03,332.44 L653.08,332.33 L654.10,332.44 L655.08,332.31 L656.03,332.17 L656.94,332.15 L657.82,332.17 L658.66,332.17 L659.46,332.18 L660.21,332.01 L660.93,332.12 L661.60,332.10 L666.66,331.75 L665.00,331.80" fill="none" stroke="#b4393c" stroke-width="2.1" stroke-linejoin="round"/>
<path d="M67.90,233.60 C68.50,235.15 70.43,239.20 71.50,242.90 C72.57,246.60 73.35,251.73 74.30,255.80 C75.25,259.87 76.23,263.72 77.20,267.30 C78.17,270.88 79.03,273.97 80.10,277.30 C81.17,280.63 82.42,284.43 83.60,287.30 C84.78,290.17 85.88,292.70 87.20,294.50 C88.52,296.30 89.83,297.27 91.50,298.10 C93.17,298.93 95.28,299.27 97.20,299.50 C99.12,299.73 100.75,299.70 103.00,299.50 C105.25,299.30 107.58,298.57 110.70,298.30 C113.82,298.03 116.22,298.23 121.70,297.90 C127.18,297.57 136.30,296.92 143.60,296.30 C150.90,295.68 158.43,294.88 165.50,294.20 C172.57,293.52 179.25,292.90 186.00,292.20 C192.75,291.50 199.53,290.82 206.00,290.00 C212.47,289.18 219.18,288.03 224.80,287.30 C230.42,286.57 233.50,286.72 239.70,285.60 C245.90,284.48 254.13,282.47 262.00,280.60 C269.87,278.73 279.87,276.67 286.90,274.40 C293.93,272.13 298.83,269.88 304.20,267.00 C309.57,264.12 314.55,261.23 319.10,257.10 C323.65,252.97 328.18,246.97 331.50,242.20 C334.82,237.43 336.72,233.37 339.00,228.50 C341.28,223.63 343.45,218.25 345.20,213.00 C346.95,207.75 348.28,204.17 349.50,197.00 C350.72,189.83 351.58,178.68 352.50,170.00 C353.42,161.32 354.03,155.28 355.00,144.90 C355.97,134.52 357.42,118.85 358.30,107.70 C359.18,96.55 359.75,84.70 360.30,78.00 C360.85,71.30 361.02,69.80 361.60,67.50 C362.18,65.20 362.35,64.65 363.80,64.20 C365.25,63.75 368.12,64.30 370.30,64.80 C372.48,65.30 374.33,66.20 376.90,67.20 C379.47,68.20 382.78,68.80 385.70,70.80 C388.62,72.80 391.48,76.12 394.40,79.20 C397.32,82.28 400.65,85.47 403.20,89.30 C405.75,93.13 407.70,97.12 409.70,102.20 C411.70,107.28 413.73,113.42 415.20,119.80 C416.67,126.18 417.58,133.40 418.50,140.50 C419.42,147.60 420.08,155.10 420.70,162.40 C421.32,169.70 421.77,176.37 422.20,184.30 C422.63,192.23 422.80,199.05 423.30,210.00 C423.80,220.95 424.62,235.17 425.20,250.00 C425.78,264.83 426.27,283.17 426.80,299.00 C427.33,314.83 427.87,333.17 428.40,345.00 C428.93,356.83 429.27,363.95 430.00,370.00 C430.73,376.05 431.70,378.97 432.80,381.30 C433.90,383.63 434.93,384.12 436.60,384.00 C438.27,383.88 440.77,382.10 442.80,380.60 C444.83,379.10 446.35,377.10 448.80,375.00 C451.25,372.90 454.58,370.12 457.50,368.00 C460.42,365.88 463.38,364.05 466.30,362.30 C469.22,360.55 472.08,358.88 475.00,357.50 C477.92,356.12 480.88,355.08 483.80,354.00 C486.72,352.92 489.80,351.87 492.50,351.00 C495.20,350.13 497.55,349.45 500.00,348.80 C502.45,348.15 503.20,348.05 507.20,347.10 C511.20,346.15 518.42,344.33 524.00,343.10 C529.58,341.87 532.32,340.83 540.70,339.70 C549.08,338.57 563.10,337.42 574.30,336.30 C585.50,335.18 598.38,334.08 607.90,333.00 C617.42,331.92 625.80,330.13 631.40,329.80 C637.00,329.47 635.90,331.03 641.50,331.00 C647.10,330.97 661.08,329.83 665.00,329.60" fill="none" stroke="#7fa5d3" stroke-width="2.3" stroke-linejoin="round" stroke-linecap="butt"/>
<path d="M66.40,571.90 L66.73,572.43 L67.18,573.09 L67.72,573.87 L68.31,574.77 L68.92,575.76 L69.53,576.84 L70.10,577.99 L70.60,579.20 L70.90,580.04 L71.18,580.91 L71.45,581.81 L71.71,582.75 L71.97,583.73 L72.22,584.74 L72.46,585.79 L72.71,586.88 L72.95,588.02 L73.20,589.20 L73.45,590.42 L73.70,591.70 L73.87,592.59 L74.04,593.52 L74.20,594.48 L74.37,595.48 L74.53,596.50 L74.69,597.55 L74.85,598.61 L75.02,599.70 L75.18,600.79 L75.35,601.89 L75.51,602.99 L75.69,604.09 L75.86,605.18 L76.04,606.26 L76.22,607.33 L76.41,608.38 L76.60,609.40 L76.80,610.40 L77.02,611.44 L77.24,612.47 L77.48,613.49 L77.71,614.51 L77.95,615.52 L78.20,616.53 L78.45,617.52 L78.70,618.51 L78.96,619.50 L79.22,620.47 L79.47,621.44 L79.73,622.40 L79.99,623.36 L80.24,624.30 L80.50,625.24 L80.75,626.18 L81.00,627.10 L81.28,628.15 L81.56,629.21 L81.84,630.27 L82.12,631.33 L82.40,632.39 L82.68,633.44 L82.97,634.48 L83.25,635.49 L83.53,636.49 L83.81,637.45 L84.09,638.38 L84.37,639.28 L84.65,640.14 L84.92,640.94 L85.20,641.70 L85.69,642.98 L86.13,644.10 L86.56,645.08 L86.99,645.97 L87.45,646.77 L87.97,647.53 L88.58,648.26 L89.30,649.00 L90.05,649.67 L90.88,650.32 L91.79,650.95 L92.74,651.55 L93.74,652.10 L94.75,652.61 L95.76,653.06 L96.75,653.44 L97.70,653.75 L98.71,654.01 L99.68,654.20 L100.64,654.31 L101.59,654.34 L102.58,654.31 L103.63,654.20 L104.76,654.01 L106.00,653.75 L106.80,653.54 L107.61,653.29 L108.43,652.99 L109.26,652.66 L110.12,652.29 L111.01,651.90 L111.93,651.50 L112.90,651.08 L113.90,650.65 L114.96,650.23 L116.08,649.81 L117.25,649.39 L118.50,649.00 L119.31,648.76 L120.16,648.52 L121.03,648.27 L121.94,648.02 L122.88,647.77 L123.83,647.52 L124.81,647.26 L125.81,647.01 L126.83,646.75 L127.86,646.49 L128.90,646.23 L129.94,645.98 L131.00,645.72 L132.05,645.47 L133.11,645.21 L134.16,644.96 L135.21,644.71 L136.25,644.47 L137.28,644.22 L138.30,643.99 L139.30,643.75 L140.30,643.52 L141.31,643.28 L142.33,643.05 L143.35,642.82 L144.38,642.59 L145.41,642.37 L146.45,642.14 L147.48,641.91 L148.52,641.69 L149.55,641.47 L150.57,641.25 L151.59,641.03 L152.61,640.82 L153.61,640.61 L154.60,640.40 L155.57,640.19 L156.54,639.98 L157.48,639.78 L158.41,639.59 L159.31,639.39 L160.20,639.20 L161.31,638.96 L162.37,638.73 L163.37,638.51 L164.34,638.30 L165.27,638.10 L166.17,637.90 L167.07,637.70 L167.96,637.51 L168.85,637.32 L169.76,637.12 L170.69,636.92 L171.65,636.71 L172.65,636.50 L173.71,636.28 L174.82,636.05 L176.00,635.80 L176.86,635.62 L177.73,635.44 L178.62,635.25 L179.52,635.06 L180.44,634.87 L181.37,634.67 L182.32,634.47 L183.29,634.27 L184.26,634.07 L185.25,633.86 L186.26,633.65 L187.27,633.44 L188.30,633.23 L189.34,633.02 L190.39,632.81 L191.46,632.59 L192.53,632.38 L193.62,632.17 L194.72,631.95 L195.82,631.74 L196.94,631.52 L198.07,631.31 L199.20,631.10 L200.11,630.93 L201.03,630.76 L201.97,630.59 L202.92,630.42 L203.88,630.25 L204.85,630.08 L205.83,629.91 L206.82,629.74 L207.82,629.57 L208.82,629.39 L209.84,629.22 L210.86,629.05 L211.88,628.87 L212.91,628.70 L213.94,628.53 L214.98,628.35 L216.02,628.18 L217.06,628.00 L218.10,627.83 L219.14,627.65 L220.18,627.48 L221.22,627.31 L222.26,627.13 L223.29,626.96 L224.32,626.79 L225.35,626.61 L226.37,626.44 L227.39,626.27 L228.40,626.10 L229.42,625.93 L230.45,625.75 L231.50,625.58 L232.57,625.40 L233.64,625.22 L234.73,625.04 L235.82,624.85 L236.92,624.67 L238.02,624.49 L239.12,624.30 L240.23,624.12" fill="none" stroke="#000" stroke-width="2.0" stroke-linejoin="round" stroke-dasharray="9 9" stroke-dashoffset="16.40"/>
<path d="M240.23,624.12 L241.33,623.93 L242.42,623.75 L243.51,623.57 L244.59,623.39 L245.66,623.21 L246.71,623.04 L247.75,622.86 L248.77,622.69 L249.78,622.53 L250.76,622.36 L251.72,622.20 L252.65,622.04 L253.56,621.89 L254.43,621.74 L255.28,621.60 L256.09,621.46 L256.86,621.33 L257.60,621.20 L259.24,620.91 L260.69,620.65 L261.98,620.41 L263.14,620.20 L264.18,620.00 L265.13,619.81 L266.00,619.64 L266.81,619.48 L267.60,619.33 L268.38,619.18 L269.17,619.04 L270.00,618.90 L271.20,618.72 L272.29,618.60 L273.28,618.51 L274.21,618.43 L275.12,618.34 L276.03,618.22 L276.98,618.05 L278.00,617.80 L278.96,617.51 L279.95,617.15 L280.96,616.76 L281.99,616.33 L283.01,615.89 L284.04,615.44 L285.05,615.00 L286.04,614.58 L287.00,614.20 L288.05,613.81 L289.07,613.46 L290.07,613.12 L291.06,612.79 L292.04,612.46 L293.02,612.11 L294.01,611.72 L295.00,611.30 L295.89,610.88 L296.80,610.43 L297.70,609.96 L298.61,609.47 L299.51,608.97 L300.41,608.46 L301.29,607.96 L302.16,607.47 L303.00,607.00 L303.92,606.50 L304.81,606.03 L305.68,605.57 L306.53,605.11 L307.38,604.63 L308.24,604.13 L309.11,603.59 L310.00,603.00 L310.82,602.42 L311.66,601.80 L312.52,601.15 L313.38,600.47 L314.24,599.78 L315.09,599.07 L315.92,598.37 L316.73,597.68 L317.50,597.00 L318.33,596.26 L319.12,595.54 L319.88,594.83 L320.62,594.11 L321.35,593.38 L322.07,592.63 L322.78,591.84 L323.50,591.00 L324.13,590.21 L324.76,589.37 L325.37,588.50 L325.98,587.61 L326.59,586.71 L327.19,585.81 L327.79,584.91 L328.40,584.04 L329.00,583.20 L329.69,582.29 L330.40,581.41 L331.11,580.55 L331.82,579.69 L332.51,578.84 L333.18,577.98 L333.81,577.10 L334.40,576.20 L334.93,575.27 L335.40,574.33 L335.84,573.38 L336.25,572.42 L336.66,571.45 L337.07,570.47 L337.51,569.49 L338.00,568.50 L338.47,567.64 L338.97,566.81 L339.49,565.99 L340.03,565.16 L340.56,564.32 L341.10,563.43 L341.62,562.50 L342.12,561.49 L342.60,560.40 L342.94,559.52 L343.27,558.61 L343.60,557.65 L343.91,556.67 L344.23,555.65 L344.53,554.61 L344.83,553.54 L345.13,552.46" fill="none" stroke="#000" stroke-width="2.0" stroke-linejoin="round" stroke-dasharray="9 9" stroke-dashoffset="5.99"/>
<path d="M345.13,552.46 L345.42,551.36 L345.72,550.24 L346.01,549.12 L346.30,548.00 L346.55,547.01 L346.80,545.98 L347.04,544.92 L347.28,543.84 L347.52,542.73 L347.76,541.62 L347.99,540.51 L348.23,539.41 L348.46,538.32 L348.69,537.26 L348.92,536.22 L349.15,535.23 L349.37,534.29 L349.60,533.40 L349.95,532.16 L350.30,531.09 L350.65,530.13 L351.00,529.23 L351.34,528.35 L351.67,527.43 L351.99,526.43 L352.30,525.31 L352.60,524.00 L352.76,523.18 L352.92,522.32 L353.07,521.41 L353.22,520.47 L353.36,519.50 L353.50,518.50 L353.64,517.48 L353.78,516.44 L353.91,515.38 L354.04,514.32 L354.17,513.25 L354.30,512.18 L354.42,511.12 L354.55,510.06 L354.67,509.02 L354.80,508.00 L354.92,507.03 L355.05,506.14 L355.17,505.31 L355.28,504.52 L355.40,503.75 L355.51,502.99 L355.63,502.21 L355.74,501.40 L355.85,500.54 L355.96,499.61 L356.07,498.60 L356.17,497.48 L356.28,496.24 L356.39,494.86 L356.49,493.32 L356.60,491.60 L356.64,490.87 L356.68,490.11 L356.72,489.31 L356.76,488.47 L356.81,487.60 L356.85,486.70 L356.89,485.78 L356.93,484.82 L356.97,483.84 L357.01,482.84 L357.05,481.81 L357.09,480.77 L357.13,479.70 L357.17,478.62 L357.21,477.53 L357.25,476.42 L357.29,475.31 L357.33,474.18 L357.37,473.05 L357.41,471.91 L357.44,470.77 L357.48,469.62 L357.52,468.48 L357.56,467.34 L357.60,466.20 L357.64,465.07 L357.68,463.94 L357.71,462.83 L357.75,461.72 L357.79,460.63 L357.83,459.56 L357.87,458.50 L357.90,457.45 L357.94,456.43 L357.98,455.43 L358.02,454.46 L358.05,453.51 L358.09,452.58 L358.13,451.69 L358.16,450.83 L358.20,450.00 L358.26,448.69 L358.32,447.41 L358.38,446.16 L358.44,444.94 L358.50,443.76 L358.55,442.61 L358.61,441.48 L358.67,440.39 L358.73,439.32 L358.78,438.28 L358.84,437.26 L358.90,436.26 L358.95,435.29 L359.01,434.34 L359.06,433.41 L359.12,432.50 L359.17,431.61 L359.23,430.73 L359.28,429.87 L359.34,429.03 L359.39,428.20 L359.44,427.38 L359.50,426.58 L359.55,425.78 L359.60,425.00 L359.69,423.64 L359.77,422.34 L359.84,421.10 L359.91,419.91 L359.98,418.79 L360.05,417.72 L360.12,416.70 L360.19,415.74 L360.27,414.83 L360.35,413.97 L360.45,413.15 L360.55,412.39 L360.67,411.67 L360.80,411.00 L361.37,409.18 L362.06,408.08 L362.79,407.39 L363.50,406.80 L364.45,406.06 L366.20,405.90 L366.92,405.88 L367.75,405.88 L368.68,405.90 L369.68,405.93 L370.75,405.98 L371.87,406.06 L373.01,406.15 L374.16,406.26 L375.30,406.40 L376.24,406.52 L377.22,406.65 L378.22,406.78 L379.25,406.93 L380.29,407.09 L381.34,407.27 L382.40,407.47 L383.46,407.70 L384.52,407.96 L385.56,408.26 L386.60,408.60 L387.54,408.94 L388.48,409.31 L389.43,409.70 L390.37,410.11 L391.31,410.55 L392.25,411.02 L393.19,411.51 L394.13,412.02 L395.07,412.55 L396.02,413.11 L396.96,413.69 L397.90,414.30 L398.72,414.85 L399.55,415.43 L400.40,416.05 L401.26,416.69 L402.12,417.35 L402.98,418.03 L403.83,418.71 L404.67,419.41 L405.50,420.10 L406.30,420.79 L407.08,421.47 L407.82,422.13 L408.53,422.78 L409.20,423.40 L410.07,424.21 L410.89,424.97 L411.66,425.68 L412.37,426.37 L413.05,427.07 L413.69,427.79 L414.30,428.55 L414.88,429.37 L415.45,430.28 L416.00,431.30 L416.38,432.08 L416.74,432.89 L417.09,433.72 L417.42,434.57 L417.74,435.46 L418.04,436.38 L418.33,437.32 L418.61,438.30 L418.88,439.31 L419.14,440.36 L419.39,441.44 L419.63,442.56 L419.87,443.71 L420.10,444.90 L420.26,445.76 L420.41,446.65 L420.55,447.56 L420.69,448.49 L420.82,449.45 L420.94,450.42 L421.07,451.41 L421.18,452.42 L421.30,453.45 L421.41,454.48 L421.51,455.53 L421.62,456.59 L421.72,457.65 L421.82,458.72 L421.92,459.80 L422.01,460.88 L422.11,461.96 L422.21,463.04 L422.30,464.12 L422.40,465.20 L422.49,466.18 L422.57,467.17 L422.66,468.17 L422.74,469.18 L422.83,470.20 L422.91,471.22 L422.99,472.25 L423.07,473.28 L423.14,474.32 L423.22,475.36 L423.29,476.41 L423.37,477.45 L423.44,478.50 L423.51,479.55 L423.57,480.60 L423.64,481.65 L423.70,482.70 L423.77,483.75 L423.83,484.79 L423.89,485.83 L423.94,486.87 L424.00,487.90 L424.05,488.93 L424.10,489.96 L424.15,490.99 L424.20,492.01 L424.24,493.04 L424.28,494.07 L424.32,495.09 L424.36,496.12 L424.39,497.15 L424.43,498.17 L424.46,499.20 L424.49,500.23 L424.53,501.25 L424.56,502.28 L424.59,503.31 L424.62,504.33 L424.65,505.36 L424.68,506.39 L424.71,507.41 L424.74,508.44 L424.77,509.47 L424.80,510.50 L424.83,511.53 L424.86,512.54 L424.89,513.56 L424.92,514.57 L424.95,515.57 L424.98,516.57 L425.01,517.57 L425.04,518.57 L425.07,519.58 L425.10,520.58 L425.12,521.59 L425.15,522.60 L425.18,523.62 L425.20,524.64 L425.23,525.67 L425.26,526.71 L425.28,527.76 L425.31,528.82 L425.33,529.90 L425.35,530.98 L425.38,532.08 L425.40,533.20 L425.42,534.15 L425.44,535.09 L425.46,536.03 L425.47,536.97 L425.49,537.90 L425.51,538.83 L425.52,539.77 L425.54,540.71 L425.55,541.66 L425.57,542.61 L425.58,543.57 L425.60,544.54 L425.61,545.52 L425.63,546.51 L425.64,547.52 L425.66,548.54 L425.67,549.59 L425.68,550.65 L425.70,551.73 L425.71,552.83 L425.73,553.96 L425.74,555.11 L425.76,556.29 L425.77,557.49 L425.78,558.73 L425.80,560.00 L425.81,560.84 L425.82,561.69 L425.83,562.55 L425.84,563.42 L425.85,564.30 L425.85,565.19 L425.86,566.09 L425.87,567.00 L425.88,567.91 L425.88,568.84 L425.89,569.77 L425.90,570.71 L425.91,571.67 L425.91,572.63 L425.92,573.59 L425.93,574.57 L425.93,575.55 L425.94,576.54 L425.95,577.54 L425.96,578.55 L425.96,579.56 L425.97,580.58 L425.98,581.61 L425.99,582.65 L426.00,583.69 L426.01,584.74 L426.02,585.79 L426.03,586.85 L426.04,587.92 L426.05,588.99 L426.06,590.07 L426.08,591.15 L426.09,592.24 L426.10,593.33 L426.12,594.43 L426.13,595.54 L426.15,596.64 L426.16,597.76 L426.18,598.88 L426.20,600.00 L426.22,600.91 L426.23,601.82 L426.25,602.75 L426.26,603.69 L426.28,604.64 L426.30,605.60 L426.32,606.57 L426.34,607.54 L426.36,608.53 L426.38,609.52 L426.40,610.52 L426.42,611.53 L426.44,612.54 L426.46,613.56 L426.48,614.58 L426.51,615.61 L426.53,616.64 L426.55,617.68 L426.58,618.72 L426.60,619.76 L426.62,620.81 L426.65,621.85 L426.67,622.90 L426.69,623.95 L426.72,625.00 L426.74,626.05 L426.77,627.10 L426.79,628.15 L426.82,629.19 L426.84,630.24 L426.87,631.28 L426.89,632.32 L426.91,633.36 L426.94,634.39 L426.96,635.42 L426.99,636.44 L427.01,637.46 L427.03,638.47 L427.06,639.48 L427.08,640.48 L427.10,641.47 L427.13,642.46 L427.15,643.43 L427.17,644.40 L427.19,645.36 L427.22,646.31 L427.24,647.25 L427.26,648.18 L427.28,649.09 L427.30,650.00 L427.32,651.13 L427.35,652.25 L427.37,653.38 L427.40,654.51 L427.42,655.64 L427.44,656.77 L427.46,657.90 L427.49,659.02 L427.51,660.15 L427.53,661.27 L427.55,662.38 L427.57,663.49 L427.59,664.60 L427.61,665.69 L427.63,666.79 L427.66,667.87 L427.68,668.95 L427.70,670.02 L427.72,671.08 L427.74,672.12 L427.76,673.16 L427.78,674.19 L427.80,675.21 L427.82,676.21 L427.84,677.20 L427.86,678.17 L427.89,679.13 L427.91,680.08 L427.93,681.01 L427.95,681.92 L427.97,682.82 L428.00,683.70 L428.02,684.56 L428.05,685.40 L428.07,686.22 L428.09,687.02 L428.12,687.80 L428.15,688.55 L428.17,689.29 L428.20,690.00 L428.27,691.67 L428.34,693.20 L428.41,694.60 L428.48,695.88 L428.55,697.04 L428.63,698.11 L428.70,699.09 L428.78,700.00 L428.86,700.85 L428.94,701.64 L429.03,702.40 L429.12,703.12 L429.21,703.84 L429.30,704.55 L429.40,705.26 L429.50,706.00 L429.71,707.41 L429.92,708.67 L430.13,709.78 L430.36,710.78 L430.61,711.68 L430.88,712.50 L431.17,713.27 L431.50,714.00 L432.19,715.23 L432.96,716.12 L433.86,716.84 L435.00,717.50 L435.97,717.97 L437.12,718.44 L438.36,718.88 L439.60,719.22 L440.74,719.44 L441.70,719.50" fill="none" stroke="#000" stroke-width="2.0" stroke-linejoin="round" stroke-dasharray="9 9" stroke-dashoffset="14.84"/>
<path d="M441.70,719.50 L442.73,719.22 L443.47,718.60 L444.15,717.81 L445.00,717.00 L445.71,716.48 L446.47,715.95 L447.27,715.38 L448.10,714.77 L448.95,714.12 L449.80,713.40 L450.50,712.72 L451.18,711.99 L451.86,711.21 L452.57,710.41 L453.34,709.60 L454.21,708.79 L455.20,708.00 L455.98,707.46 L456.84,706.92 L457.75,706.38 L458.71,705.84 L459.70,705.30 L460.71,704.76 L461.73,704.22 L462.74,703.68 L463.74,703.14 L464.70,702.60 L465.65,702.05 L466.61,701.49 L467.57,700.92 L468.52,700.34 L469.48,699.77 L470.43,699.22 L471.37,698.67 L472.30,698.15 L473.21,697.66 L474.10,697.20 L475.16,696.68 L476.17,696.21 L477.15,695.79 L478.11,695.39 L479.09,695.00 L480.10,694.62 L481.16,694.22 L482.30,693.80 L483.20,693.47 L484.16,693.13 L485.16,692.78 L486.20,692.43 L487.25,692.08 L488.31,691.73 L489.35,691.38 L490.37,691.06 L491.34,690.75 L492.25,690.46 L493.10,690.20 L494.28,689.86 L495.33,689.58 L496.29,689.34 L497.19,689.13 L498.08,688.92 L499.01,688.68 L500.00,688.40 L500.89,688.12 L501.76,687.82 L502.63,687.50 L503.51,687.18 L504.44,686.84 L505.43,686.50 L506.51,686.15 L507.70,685.80 L508.55,685.57 L509.45,685.33 L510.38,685.09 L511.34,684.84 L512.34,684.60 L513.36,684.35 L514.42,684.10 L515.49,683.84 L516.59,683.59 L517.71,683.33 L518.85,683.07 L520.00,682.80 L520.92,682.59 L521.81,682.38 L522.70,682.17 L523.59,681.96 L524.48,681.75 L525.38,681.54 L526.31,681.32 L527.27,681.10 L528.27,680.88 L529.31,680.65 L530.41,680.42 L531.57,680.18 L532.80,679.93 L534.11,679.67 L535.50,679.40 L536.29,679.25 L537.10,679.09 L537.95,678.93 L538.82,678.77 L539.71,678.59 L540.63,678.42 L541.56,678.24 L542.52,678.05 L543.50,677.87 L544.49,677.68 L545.49,677.49 L546.51,677.30 L547.54,677.11 L548.58,676.93 L549.63,676.74 L550.68,676.55 L551.74,676.36 L552.80,676.18 L553.86,676.00 L554.92,675.82 L555.98,675.65 L557.04,675.48 L558.09,675.32 L559.13,675.16 L560.17,675.01 L561.19,674.87 L562.20,674.73 L563.20,674.60 L564.23,674.47 L565.26,674.35 L566.29,674.24 L567.31,674.13 L568.34,674.03 L569.37,673.93 L570.40,673.84 L571.43,673.75 L572.46,673.67 L573.49,673.59 L574.52,673.51 L575.55,673.43 L576.58,673.36 L577.62,673.29 L578.65,673.22 L579.68,673.15 L580.71,673.09 L581.74,673.02 L582.77,672.96 L583.80,672.89 L584.83,672.83 L585.86,672.76 L586.89,672.69 L587.91,672.62 L588.94,672.55 L589.97,672.48 L591.00,672.40 L592.03,672.32 L593.06,672.24 L594.08,672.16 L595.11,672.08 L596.14,672.00 L597.16,671.92 L598.19,671.84 L599.21,671.76 L600.24,671.67 L601.27,671.59 L602.29,671.51 L603.32,671.43 L604.34,671.35 L605.37,671.27 L606.39,671.20 L607.42,671.12 L608.45,671.04 L609.47,670.97 L610.50,670.90 L611.52,670.83 L612.55,670.76 L613.57,670.69 L614.60,670.63 L615.62,670.57 L616.65,670.51 L617.67,670.45 L618.70,670.40 L619.73,670.35 L620.77,670.30 L621.83,670.26 L622.89,670.21 L623.96,670.17 L625.03,670.14 L626.11,670.10 L627.19,670.07 L628.27,670.03 L629.35,670.00 L630.43,669.97 L631.51,669.95 L632.58,669.92 L633.65,669.89 L634.71,669.87 L635.77,669.85 L636.81,669.82 L637.84,669.80 L638.86,669.78 L639.87,669.76 L640.86,669.73 L641.83,669.71 L642.79,669.69 L643.72,669.67 L644.64,669.65 L645.53,669.62 L646.40,669.60 L647.69,669.56 L648.97,669.53 L650.24,669.49 L651.50,669.46 L652.74,669.43 L653.96,669.39 L655.15,669.36 L656.31,669.33 L657.43,669.30 L658.51,669.27 L659.54,669.24 L660.51,669.22 L661.43,669.19 L662.29,669.17 L663.08,669.15 L663.80,669.13 L664.44,669.11 L665.00,669.10" fill="none" stroke="#000" stroke-width="2.0" stroke-linejoin="round" stroke-dasharray="9 9" stroke-dashoffset="8.19"/>
<path d="M78.90,623.30 L79.91,624.54 L81.40,625.65 L83.10,626.89 L84.18,627.62 L85.33,629.24 L86.57,630.20 L87.89,631.40 L89.30,631.59 L90.81,632.19 L92.41,631.63 L94.10,631.90 L95.86,631.50 L97.70,630.73 L99.03,630.50 L100.38,630.27 L101.75,629.31 L103.18,629.16 L104.68,628.94 L106.28,627.84 L108.00,627.81 L109.28,627.33 L110.63,627.08 L112.03,626.13 L113.47,625.38 L114.96,625.66 L116.47,625.27 L118.01,624.42 L119.57,623.50 L121.13,623.06 L122.70,623.01 L124.14,622.18 L125.60,622.31 L127.09,621.42 L128.59,620.39 L130.11,620.24 L131.64,619.36 L133.18,619.36 L134.71,618.81 L136.25,617.82 L137.78,617.37 L139.30,616.93 L140.80,616.57 L142.29,616.31 L143.76,614.86 L145.23,614.70 L146.70,614.57 L148.18,613.87 L149.68,613.75 L151.20,612.85 L152.76,613.26 L154.36,612.56 L156.00,611.69 L157.42,611.90 L158.86,611.24 L160.32,610.76 L161.81,610.73 L163.31,610.06 L164.83,609.79 L166.37,610.18 L167.92,609.75 L169.50,608.69 L171.10,609.12 L172.71,608.05 L174.35,608.00 L176.00,608.31 L177.44,607.79 L178.89,607.13 L180.34,606.89 L181.80,606.61 L183.27,606.04 L184.76,606.66 L186.27,605.43 L187.79,605.45 L189.33,605.53 L190.90,604.91 L192.50,605.22 L194.12,604.20 L195.78,604.64 L197.47,604.34 L199.20,603.83 L200.62,603.83 L202.11,603.16 L203.66,603.32 L205.26,603.11 L206.90,602.59 L208.58,602.30 L210.27,602.34 L211.97,601.83 L213.68,601.25 L215.37,601.72 L217.04,601.07 L218.68,601.07 L220.28,601.22 L221.82,600.41 L223.30,600.00 L224.71,599.92 L226.04,600.26 L227.27,599.91 L228.40,599.62 L231.04,599.45 L233.20,599.65 L234.98,598.69 L236.45,598.26 L237.72,599.75 L238.87,598.74 L240.00,597.22 L242.11,597.51 L243.43,597.37 L244.50,596.11 L245.74,594.81 L246.70,593.04 L247.43,595.12 L248.18,596.94 L249.00,598.82 L250.39,599.01 L252.00,597.70 L253.94,595.45 L256.00,595.84 L258.06,594.12 L260.00,593.16 L261.11,591.98 L262.11,590.71 L263.00,590.88 L265.00,590.31 L265.97,588.91 L267.17,590.13 L268.54,588.53 L270.06,587.92 L271.69,590.14 L273.38,587.57 L275.09,589.08 L276.79,587.55 L278.44,589.10 L280.00,588.63 L281.54,585.44 L283.14,585.32 L284.78,587.77 L286.43,586.56 L288.06,585.51 L289.65,586.45 L291.16,586.39 L292.58,584.96 L293.86,584.44 L295.00,582.75 L297.20,582.48 L298.75,580.80 L299.92,581.01 L301.00,580.42 L302.19,579.34 L304.00,580.84 L304.88,578.62 L305.93,577.72 L307.11,578.29 L308.40,576.77 L309.74,576.74 L311.11,574.87 L312.47,573.82 L313.78,571.00 L315.00,572.06 L316.52,568.69 L318.08,569.25 L319.62,569.51 L321.12,568.71 L322.54,567.80 L323.84,565.38 L325.00,565.25 L326.60,564.43 L327.81,561.50 L328.87,562.50 L330.00,561.14 L330.83,559.12 L331.67,558.05 L332.50,556.63 L333.33,555.21 L334.17,553.97 L335.00,552.36 L335.84,551.12 L336.69,549.65 L337.53,547.89 L338.37,546.47 L339.20,544.73 L340.00,543.51 L340.94,541.76 L341.86,540.58 L342.77,538.98 L343.65,537.69 L344.50,535.89 L345.19,534.57 L345.85,533.43 L346.49,532.06 L347.13,530.58 L347.76,528.92 L348.40,527.00 L348.79,525.70 L349.17,524.30 L349.56,522.81 L349.95,521.25 L350.34,519.62 L350.72,517.95 L351.10,516.24 L351.47,514.50 L351.84,512.75 L352.20,511.00 L352.50,509.52 L352.79,508.02 L353.09,506.48 L353.38,504.93 L353.67,503.35 L353.96,501.75 L354.24,500.14 L354.51,498.52 L354.77,496.89 L355.03,495.26 L355.27,493.63 L355.50,492.00 L355.70,490.50 L355.90,489.00 L356.08,487.49 L356.26,485.99 L356.43,484.47 L356.59,482.95 L356.75,481.42 L356.90,479.88 L357.04,478.33 L357.19,476.77 L357.33,475.20 L357.46,473.61 L357.60,472.00 L357.72,470.50 L357.84,468.99 L357.95,467.47 L358.06,465.95 L358.17,464.41 L358.27,462.87 L358.37,461.31 L358.46,459.74 L358.56,458.16 L358.65,456.56 L358.74,454.95 L358.83,453.32 L358.91,451.67 L359.00,450.00 L359.07,448.50 L359.14,446.95 L359.21,445.35 L359.27,443.71 L359.33,442.05 L359.39,440.38 L359.44,438.70 L359.50,437.02 L359.56,435.37 L359.61,433.73 L359.67,432.13 L359.73,430.57 L359.79,429.07 L359.86,427.64 L359.93,426.28 L360.00,425.00 L360.14,422.85 L360.29,420.77 L360.44,418.81 L360.61,416.98 L360.77,415.30 L360.93,413.80 L361.09,412.50 L361.25,411.43 L361.40,410.22 L362.60,412.56 L362.75,413.51 L362.89,414.78 L363.04,416.25 L363.19,417.87 L363.34,419.57 L363.51,421.29 L363.69,422.98 L363.88,424.57 L364.10,426.00 L364.41,427.66 L364.76,429.22 L365.14,430.71 L365.53,432.16 L365.93,433.59 L366.32,435.03 L366.70,436.50 L367.07,438.00 L367.44,439.50 L367.81,441.00 L368.19,442.50 L368.56,444.00 L368.93,445.50 L369.30,447.00 L369.67,448.50 L370.04,450.00 L370.41,451.51 L370.79,453.01 L371.16,454.51 L371.53,456.01 L371.90,457.50 L372.27,458.99 L372.64,460.49 L373.00,461.98 L373.37,463.47 L373.74,464.95 L374.12,466.43 L374.50,467.90 L374.94,469.55 L375.37,471.14 L375.81,472.72 L376.26,474.35 L376.76,476.09 L377.30,478.00 L377.70,479.41 L378.14,480.94 L378.61,482.54 L379.09,484.20 L379.58,485.87 L380.06,487.53 L380.53,489.14 L380.98,490.67 L381.40,492.10 L381.89,493.72 L382.34,495.13 L382.77,496.44 L383.19,497.74 L383.61,499.12 L384.04,500.67 L384.50,502.50 L384.81,503.82 L385.12,505.23 L385.44,506.72 L385.77,508.28 L386.10,509.89 L386.43,511.54 L386.76,513.23 L387.10,514.93 L387.43,516.63 L387.77,518.33 L388.10,520.00 L388.40,521.53 L388.70,523.07 L389.00,524.63 L389.30,526.20 L389.59,527.78 L389.89,529.37 L390.20,530.96 L390.50,532.57 L390.82,534.17 L391.14,535.78 L391.46,537.39 L391.80,539.00 L392.12,540.49 L392.45,541.98 L392.78,543.48 L393.13,544.99 L393.47,546.50 L393.82,548.01 L394.18,549.53 L394.53,551.04 L394.89,552.56 L395.25,554.07 L395.60,555.58 L395.95,557.09 L396.30,558.60 L396.65,560.10 L396.99,561.58 L397.33,563.06 L397.67,564.53 L398.02,566.00 L398.36,567.47 L398.70,568.95 L399.05,570.43 L399.39,571.93 L399.74,573.44 L400.09,574.97 L400.44,576.52 L400.80,578.10 L401.13,579.57 L401.46,581.01 L401.79,582.44 L402.12,583.87 L402.46,585.31 L402.79,586.76 L403.13,588.24 L403.46,589.75 L403.81,591.30 L404.15,592.90 L404.51,594.56 L404.86,596.29 L405.23,598.10 L405.60,600.00 L405.85,601.32 L406.11,602.68 L406.37,604.09 L406.63,605.53 L406.89,607.01 L407.16,608.51 L407.43,610.05 L407.71,611.61 L407.98,613.19 L408.26,614.78 L408.53,616.39 L408.81,618.02 L409.09,619.64 L409.37,621.27 L409.65,622.91 L409.92,624.53 L410.20,626.15 L410.48,627.76 L410.75,629.36 L411.03,630.94 L411.30,632.50 L411.57,634.05 L411.85,635.59 L412.12,637.14 L412.40,638.69 L412.68,640.24 L412.95,641.78 L413.23,643.33 L413.51,644.88 L413.79,646.42 L414.07,647.97 L414.34,649.52 L414.62,651.06 L414.89,652.61 L415.17,654.16 L415.44,655.71 L415.71,657.25 L415.97,658.80 L416.23,660.35 L416.49,661.90 L416.75,663.45 L417.00,665.00 L417.25,666.56 L417.50,668.15 L417.74,669.75 L417.99,671.37 L418.23,673.00 L418.47,674.64 L418.71,676.28 L418.95,677.92 L419.19,679.56 L419.42,681.19 L419.65,682.81 L419.88,684.41 L420.11,686.00 L420.33,687.57 L420.55,689.11 L420.77,690.62 L420.98,692.09 L421.19,693.53 L421.40,694.94 L421.60,696.29 L421.80,697.60 L422.09,699.54 L422.38,701.48 L422.67,703.41 L422.94,705.32 L423.22,707.18 L423.48,708.97 L423.74,710.69 L423.99,712.30 L424.23,713.80 L424.46,715.16 L424.69,716.37 L424.90,717.41 L425.11,718.26 L425.30,718.96 L425.86,719.08 L426.28,717.53 L426.66,714.85 L427.10,712.50 L427.51,711.03 L427.93,709.50 L428.37,707.90 L428.83,706.27 L429.30,704.60 L429.70,703.16 L430.10,701.67 L430.51,700.16 L430.94,698.64 L431.40,697.14 L431.90,695.70 L432.56,694.06 L433.27,692.47 L434.02,690.91 L434.77,689.34 L435.50,687.70 L436.09,686.23 L436.67,684.66 L437.26,683.08 L437.84,681.54 L438.42,680.12 L439.00,678.90 L440.19,677.03 L441.37,675.64 L442.50,674.82 L443.49,673.38 L444.43,672.51 L445.50,670.81 L446.46,669.67 L447.51,668.59 L448.60,667.08 L449.70,666.11 L451.17,664.69 L452.68,663.08 L454.20,661.89 L455.73,661.01 L457.27,659.96 L458.80,658.42 L459.76,657.55 L460.61,656.37 L461.67,655.45 L463.30,654.36 L464.42,653.85 L465.72,653.43 L467.16,653.06 L468.70,652.25 L470.30,651.58 L471.91,650.40 L473.49,649.91 L475.00,649.54 L476.46,649.13 L477.93,647.83 L479.39,646.90 L480.85,646.31 L482.31,646.23 L483.77,646.11 L485.24,644.85 L486.70,644.97 L488.18,644.43 L489.70,644.24 L491.22,643.91 L492.74,642.70 L494.24,643.01 L495.69,642.04 L497.09,641.65 L498.40,641.65 L500.00,641.44 L501.11,640.82 L502.28,640.81 L504.06,640.35 L507.00,639.57 L508.03,639.25 L509.17,638.85 L510.39,638.70 L511.71,638.46 L513.10,638.17 L514.56,638.05 L516.07,637.54 L517.64,636.94 L519.24,636.28 L520.88,636.10 L522.54,635.20 L524.21,634.66 L525.88,634.12 L527.55,634.26 L529.20,633.32 L530.84,632.94 L532.44,632.69 L533.99,632.58 L535.50,632.36 L537.06,632.00 L538.61,631.70 L540.16,630.99 L541.71,631.46 L543.25,631.10 L544.79,630.50 L546.33,630.23 L547.86,630.21 L549.39,629.53 L550.93,629.86 L552.46,630.00 L553.99,629.27 L555.52,629.18 L557.05,628.75 L558.59,629.26 L560.12,628.57 L561.66,628.32 L563.20,628.51 L564.74,628.00 L566.29,628.37 L567.83,627.72 L569.37,627.69 L570.92,627.24 L572.46,627.36 L574.01,627.11 L575.55,626.55 L577.10,627.21 L578.65,626.36 L580.19,626.59 L581.74,626.59 L583.28,626.23 L584.83,625.91 L586.37,625.89 L587.91,626.34 L589.46,625.18 L591.00,625.87 L592.54,625.49 L594.08,625.17 L595.62,625.16 L597.16,625.01 L598.70,625.04 L600.24,625.04 L601.78,624.39 L603.32,623.99 L604.86,623.81 L606.39,624.23 L607.93,623.66 L609.47,623.02 L611.01,623.38 L612.55,622.78 L614.08,622.84 L615.62,623.07 L617.16,622.94 L618.70,622.75 L620.25,622.97 L621.83,622.68 L623.43,622.97 L625.04,622.78 L626.66,622.12 L628.29,622.57 L629.92,622.12 L631.54,622.68 L633.15,622.35 L634.75,622.07 L636.32,621.76 L637.88,622.43 L639.40,621.94 L640.89,621.50 L642.34,622.28 L643.74,621.47 L645.10,621.40 L646.40,621.34 L648.30,621.93 L650.18,621.83 L652.02,621.67 L653.81,622.07 L655.54,621.54 L657.18,621.13 L658.73,621.88 L660.16,620.94 L661.47,620.72 L662.64,620.84 L663.66,621.62 L664.50,621.10" fill="none" stroke="#394a93" stroke-width="1.9" stroke-linejoin="round"/>
<path d="M82.70,517.30 L83.42,517.46 L84.31,518.69 L85.36,518.92 L86.53,520.28 L87.81,521.13 L89.16,521.84 L90.58,523.41 L92.03,524.09 L93.49,525.64 L94.93,526.45 L96.35,527.59 L97.70,529.07 L98.84,530.49 L100.00,530.80 L101.19,531.86 L102.38,533.32 L103.59,534.75 L104.81,535.48 L106.02,536.35 L107.24,537.99 L108.45,538.19 L109.66,539.98 L110.85,540.54 L112.02,541.38 L113.17,542.34 L114.30,543.51 L115.59,545.17 L116.85,545.68 L118.09,547.12 L119.31,548.29 L120.53,549.09 L121.73,550.29 L122.92,550.85 L124.11,551.81 L125.30,552.96 L126.49,554.46 L127.69,555.22 L128.90,556.04 L130.22,557.35 L131.53,558.25 L132.83,559.05 L134.12,560.56 L135.42,561.46 L136.72,561.87 L138.04,563.13 L139.37,564.02 L140.72,565.36 L142.09,566.13 L143.50,566.47 L144.82,568.11 L146.17,567.94 L147.55,569.05 L148.94,570.34 L150.36,570.44 L151.78,571.60 L153.20,571.87 L154.62,573.38 L156.04,574.32 L157.44,574.81 L158.83,575.85 L160.20,575.81 L161.64,576.88 L163.03,577.41 L164.37,577.96 L165.70,578.35 L167.03,579.33 L168.37,579.99 L169.75,579.88 L171.18,580.50 L172.69,580.18 L174.29,581.31 L176.00,581.71 L177.32,582.41 L178.68,582.49 L180.07,582.02 L181.50,582.29 L182.96,582.86 L184.46,582.27 L185.99,582.92 L187.55,582.77 L189.13,582.84 L190.75,582.92 L192.39,583.97 L194.06,583.42 L195.75,583.67 L197.46,584.04 L199.20,584.85 L200.62,584.08 L202.11,584.62 L203.66,584.96 L205.26,585.58 L206.90,585.73 L208.58,585.98 L210.27,585.44 L211.97,585.73 L213.68,585.85 L215.37,586.69 L217.04,587.03 L218.68,586.19 L220.28,586.28 L221.82,586.48 L223.30,586.62 L224.71,587.04 L226.04,587.30 L227.27,586.97 L228.40,586.65 L231.05,587.11 L233.22,586.91 L235.00,586.85 L236.48,588.24 L237.75,587.00 L238.90,585.93 L240.00,586.08 L242.54,586.66 L244.00,584.31 L245.11,586.02 L246.11,584.34 L247.00,583.13 L248.06,581.49 L249.00,579.71 L249.69,580.95 L250.37,582.82 L251.00,584.50 L251.75,586.42 L252.50,585.92 L253.44,586.17 L254.50,584.22 L255.30,582.73 L256.15,580.40 L257.00,578.14 L258.25,581.31 L259.50,582.26 L262.00,581.79 L262.72,580.52 L265.00,583.29 L266.01,582.26 L267.23,579.95 L268.62,579.70 L270.14,579.58 L271.75,579.14 L273.42,577.63 L275.12,579.83 L276.81,580.12 L278.45,577.57 L280.00,576.94 L281.55,574.86 L283.16,574.26 L284.81,574.67 L286.48,573.94 L288.12,575.64 L289.72,572.73 L291.24,571.49 L292.64,574.69 L293.91,573.04 L295.00,571.13 L297.04,572.50 L297.96,571.06 L300.00,572.42 L301.01,573.96 L302.19,573.15 L303.50,571.82 L304.93,569.30 L306.42,568.75 L307.96,567.16 L309.49,568.63 L311.00,567.07 L312.44,567.15 L313.79,564.67 L315.00,563.35 L316.52,564.62 L317.97,564.46 L319.34,563.03 L320.62,561.83 L321.84,560.90 L322.97,559.73 L324.02,557.10 L325.00,557.18 L326.60,555.48 L327.81,553.40 L328.87,552.52 L330.00,552.30 L331.00,551.87 L332.00,551.18 L333.00,550.29 L334.00,548.74 L335.00,547.80 L336.01,546.56 L337.02,545.19 L338.04,543.43 L339.03,541.85 L340.00,540.28 L340.79,538.87 L341.56,537.38 L342.32,535.89 L343.06,534.32 L343.79,532.67 L344.50,531.00 L345.10,529.61 L345.69,528.17 L346.27,526.68 L346.83,525.25 L347.38,523.82 L347.90,522.43 L348.40,521.10 L349.05,519.36 L349.65,517.73 L350.22,516.15 L350.75,514.58 L351.25,513.00 L351.71,511.51 L352.12,510.13 L352.51,508.70 L352.89,507.05 L353.30,505.00 L353.51,503.81 L353.73,502.53 L353.96,501.17 L354.18,499.74 L354.40,498.25 L354.63,496.70 L354.85,495.09 L355.07,493.43 L355.29,491.73 L355.50,490.00 L355.66,488.63 L355.82,487.20 L355.99,485.73 L356.15,484.21 L356.31,482.67 L356.47,481.10 L356.62,479.52 L356.78,477.92 L356.93,476.32 L357.08,474.72 L357.22,473.13 L357.36,471.55 L357.50,470.00 L357.63,468.46 L357.76,466.92 L357.89,465.38 L358.01,463.85 L358.14,462.31 L358.25,460.77 L358.37,459.23 L358.48,457.69 L358.59,456.15 L358.70,454.62 L358.80,453.08 L358.90,451.54 L359.00,450.00 L359.09,448.45 L359.18,446.86 L359.26,445.26 L359.34,443.65 L359.41,442.03 L359.48,440.43 L359.55,438.83 L359.62,437.26 L359.69,435.71 L359.77,434.21 L359.84,432.75 L359.92,431.34 L360.00,430.00 L360.13,428.09 L360.26,426.18 L360.40,424.30 L360.54,422.49 L360.68,420.80 L360.82,419.27 L360.96,417.93 L361.08,416.82 L361.20,416.05 L362.00,417.91 L362.40,419.12 L362.91,420.67 L363.47,422.45 L364.05,424.34 L364.60,426.25 L364.97,427.63 L365.34,429.08 L365.71,430.58 L366.09,432.11 L366.46,433.66 L366.83,435.19 L367.20,436.70 L367.57,438.19 L367.94,439.68 L368.31,441.16 L368.69,442.65 L369.06,444.13 L369.43,445.61 L369.80,447.10 L370.17,448.59 L370.54,450.07 L370.91,451.56 L371.29,453.04 L371.66,454.53 L372.03,456.01 L372.40,457.50 L372.77,458.99 L373.14,460.48 L373.50,461.97 L373.87,463.46 L374.24,464.95 L374.62,466.43 L375.00,467.90 L375.44,469.55 L375.87,471.14 L376.31,472.72 L376.76,474.35 L377.26,476.09 L377.80,478.00 L378.20,479.41 L378.64,480.94 L379.11,482.54 L379.59,484.20 L380.08,485.87 L380.56,487.53 L381.03,489.14 L381.48,490.67 L381.90,492.10 L382.39,493.72 L382.84,495.13 L383.27,496.44 L383.69,497.74 L384.11,499.12 L384.54,500.67 L385.00,502.50 L385.31,503.82 L385.62,505.23 L385.94,506.72 L386.26,508.28 L386.59,509.89 L386.92,511.54 L387.26,513.23 L387.59,514.93 L387.93,516.63 L388.26,518.33 L388.60,520.00 L388.91,521.53 L389.21,523.07 L389.52,524.63 L389.83,526.20 L390.13,527.78 L390.44,529.37 L390.76,530.96 L391.07,532.57 L391.40,534.17 L391.72,535.78 L392.06,537.39 L392.40,539.00 L392.72,540.49 L393.05,541.98 L393.39,543.48 L393.73,544.99 L394.08,546.50 L394.42,548.01 L394.78,549.53 L395.13,551.04 L395.49,552.56 L395.84,554.07 L396.20,555.58 L396.55,557.09 L396.90,558.60 L397.25,560.10 L397.60,561.58 L397.95,563.06 L398.30,564.53 L398.65,566.00 L399.00,567.47 L399.35,568.95 L399.70,570.43 L400.06,571.93 L400.42,573.44 L400.77,574.97 L401.14,576.52 L401.50,578.10 L401.84,579.57 L402.17,581.01 L402.50,582.44 L402.83,583.87 L403.16,585.31 L403.50,586.76 L403.83,588.24 L404.17,589.75 L404.52,591.30 L404.87,592.90 L405.24,594.56 L405.61,596.29 L406.00,598.10 L406.40,600.00 L406.66,601.25 L406.93,602.54 L407.20,603.87 L407.48,605.22 L407.77,606.60 L408.05,608.01 L408.35,609.44 L408.64,610.90 L408.94,612.38 L409.24,613.87 L409.54,615.38 L409.85,616.91 L410.15,618.44 L410.46,619.99 L410.77,621.55 L411.08,623.11 L411.38,624.68 L411.69,626.25 L412.00,627.82 L412.30,629.38 L412.60,630.94 L412.90,632.50 L413.18,633.95 L413.46,635.44 L413.75,636.97 L414.04,638.54 L414.34,640.13 L414.63,641.75 L414.94,643.38 L415.24,645.03 L415.54,646.68 L415.84,648.33 L416.14,649.97 L416.44,651.61 L416.73,653.22 L417.02,654.82 L417.31,656.39 L417.59,657.92 L417.86,659.41 L418.12,660.86 L418.38,662.26 L418.62,663.60 L418.86,664.88 L419.09,666.10 L419.30,667.24 L419.50,668.30 L420.02,671.04 L420.45,673.23 L420.80,674.98 L421.10,676.42 L421.37,677.67 L421.62,678.85 L421.89,680.09 L422.20,681.50 L422.58,683.28 L422.97,685.06 L423.36,686.81 L423.75,688.51 L424.12,690.13 L424.47,691.63 L424.80,693.00 L425.32,695.11 L425.80,696.92 L426.23,698.39 L426.60,699.50 L427.60,700.72 L427.75,699.25 L427.87,697.70 L427.99,695.86 L428.15,693.96 L428.40,692.20 L428.74,690.62 L429.14,689.07 L429.59,687.52 L430.08,685.91 L430.60,684.20 L431.06,682.67 L431.55,681.06 L432.07,679.41 L432.60,677.74 L433.15,676.09 L433.70,674.50 L434.27,672.93 L434.86,671.34 L435.47,669.78 L436.07,668.27 L436.65,666.87 L437.20,665.60 L438.17,663.60 L439.06,662.00 L440.00,660.30 L440.78,658.72 L441.59,657.05 L442.44,655.48 L443.30,654.19 L444.16,652.67 L445.02,651.81 L445.95,650.90 L447.00,649.33 L447.96,648.12 L448.99,647.02 L450.09,646.03 L451.24,644.97 L452.40,643.74 L453.60,642.70 L454.84,641.07 L456.11,640.06 L457.40,639.20 L458.70,638.86 L459.96,637.54 L461.18,637.04 L462.44,635.62 L463.82,634.84 L465.40,634.25 L466.68,634.10 L468.08,633.45 L469.57,632.69 L471.10,631.43 L472.66,630.91 L474.20,630.14 L475.70,629.45 L477.16,628.37 L478.62,628.67 L480.08,627.28 L481.53,627.60 L482.99,627.07 L484.44,625.37 L485.90,625.29 L487.36,625.30 L488.81,625.07 L490.27,623.99 L491.73,623.27 L493.19,622.76 L494.64,623.29 L496.10,622.09 L497.58,622.11 L498.80,621.33 L500.01,621.52 L501.49,621.82 L503.50,620.45 L506.30,620.66 L507.39,620.12 L508.58,620.32 L509.86,619.86 L511.23,618.96 L512.67,619.43 L514.17,618.67 L515.73,617.71 L517.33,617.28 L518.97,617.54 L520.64,617.20 L522.34,616.66 L524.04,616.09 L525.74,615.98 L527.44,615.63 L529.12,615.96 L530.77,614.66 L532.40,615.20 L533.97,615.11 L535.50,613.97 L537.08,614.64 L538.64,614.21 L540.20,614.20 L541.75,613.22 L543.30,613.03 L544.84,612.85 L546.38,613.41 L547.91,612.77 L549.44,612.25 L550.96,612.11 L552.49,611.74 L554.01,611.26 L555.54,611.12 L557.07,611.87 L558.59,611.09 L560.13,611.68 L561.66,610.71 L563.20,610.48 L564.74,610.61 L566.29,610.06 L567.83,610.09 L569.37,610.68 L570.92,610.50 L572.46,610.25 L574.01,609.86 L575.55,610.04 L577.10,609.95 L578.65,609.32 L580.19,609.33 L581.74,608.36 L583.28,608.99 L584.83,608.56 L586.37,608.77 L587.91,608.52 L589.46,607.90 L591.00,607.41 L592.54,608.32 L594.08,607.27 L595.62,607.45 L597.16,607.16 L598.70,606.92 L600.24,607.31 L601.78,607.50 L603.32,606.47 L604.86,606.72 L606.39,606.15 L607.93,606.28 L609.47,605.95 L611.01,605.50 L612.55,605.32 L614.08,605.24 L615.62,606.00 L617.16,605.45 L618.70,604.95 L620.25,605.67 L621.83,605.78 L623.43,605.02 L625.04,604.48 L626.66,604.42 L628.29,604.22 L629.92,604.46 L631.54,604.11 L633.15,604.21 L634.75,604.20 L636.32,604.54 L637.88,604.93 L639.40,604.76 L640.89,604.28 L642.34,604.20 L643.74,604.29 L645.10,604.08 L646.40,603.98 L648.30,603.58 L650.18,603.77 L652.02,604.64 L653.81,603.64 L655.54,604.01 L657.18,604.19 L658.73,604.50 L660.16,603.71 L661.47,603.70 L662.64,603.66 L663.66,603.85 L664.50,604.00" fill="none" stroke="#d27c57" stroke-width="1.9" stroke-linejoin="round"/>
<path d="M74.30,590.00 L76.80,589.47 L77.63,590.27 L78.54,591.64 L79.62,593.21 L81.00,595.08 L81.97,595.59 L83.07,597.06 L84.27,598.73 L85.52,599.88 L86.80,601.34 L88.07,601.83 L89.30,603.03 L90.67,603.71 L92.02,604.74 L93.38,605.40 L94.76,605.30 L96.19,605.91 L97.70,606.43 L99.18,607.50 L100.60,607.71 L102.07,607.28 L103.71,608.12 L105.65,607.69 L108.00,608.39 L109.26,608.03 L110.63,607.98 L112.10,609.03 L113.65,608.54 L115.27,608.62 L116.94,609.58 L118.65,609.67 L120.38,609.17 L122.13,609.97 L123.86,609.71 L125.58,609.95 L127.26,609.58 L128.90,610.45 L130.49,610.37 L132.06,610.78 L133.60,610.85 L135.14,610.32 L136.68,610.45 L138.22,610.36 L139.77,610.43 L141.34,610.46 L142.94,610.82 L144.57,611.28 L146.25,610.77 L147.97,611.54 L149.75,611.34 L151.11,611.36 L152.43,611.99 L153.72,611.77 L155.00,611.66 L156.28,611.91 L157.56,612.27 L158.87,611.69 L160.21,612.71 L161.61,611.85 L163.06,612.62 L164.59,612.86 L166.20,612.03 L167.91,612.81 L169.73,612.45 L171.68,612.64 L173.77,612.02 L176.00,611.96 L177.20,612.07 L178.47,612.88 L179.82,612.10 L181.23,612.57 L182.70,612.75 L184.23,612.72 L185.81,612.01 L187.44,611.88 L189.10,611.98 L190.80,612.18 L192.53,611.40 L194.29,611.93 L196.06,611.94 L197.85,611.92 L199.64,610.94 L201.44,611.73 L203.24,610.79 L205.03,610.87 L206.81,611.07 L208.57,611.32 L210.31,610.63 L212.01,611.09 L213.69,610.63 L215.33,610.24 L216.92,610.11 L218.46,609.85 L219.95,609.63 L221.38,609.59 L222.74,610.09 L224.04,610.38 L225.25,609.43 L226.39,609.14 L227.44,610.05 L228.40,609.58 L232.55,609.01 L235.01,608.44 L236.29,608.63 L236.87,609.28 L237.28,607.74 L238.00,607.21 L240.00,605.25 L241.00,606.99 L242.60,602.25 L243.43,604.95 L244.50,607.68 L246.26,605.63 L248.00,606.49 L248.55,604.46 L248.96,602.23 L249.31,600.21 L249.70,597.99 L250.08,600.11 L250.42,602.04 L250.86,604.15 L251.50,604.95 L252.82,605.47 L254.44,606.87 L256.00,605.95 L258.06,605.96 L260.00,603.52 L261.84,601.98 L263.50,601.62 L266.00,602.01 L267.05,601.08 L268.32,601.16 L269.78,599.94 L271.38,600.30 L273.08,602.15 L274.83,601.81 L276.60,600.14 L278.34,599.06 L280.00,597.92 L281.50,596.48 L283.10,596.49 L284.74,597.79 L286.41,597.67 L288.06,595.27 L289.67,596.01 L291.20,595.52 L292.62,594.69 L293.90,594.07 L295.00,594.00 L297.04,592.05 L297.96,593.00 L300.00,590.68 L301.01,590.76 L302.19,591.23 L303.50,590.36 L304.93,588.15 L306.42,589.54 L307.96,587.84 L309.49,586.63 L311.00,583.66 L312.44,584.49 L313.79,582.76 L315.00,583.29 L316.36,581.71 L317.65,581.66 L318.89,580.15 L320.06,579.41 L321.17,577.16 L322.22,576.76 L323.21,576.05 L324.14,575.36 L325.00,573.30 L326.32,573.16 L327.36,572.26 L328.24,570.81 L329.08,570.20 L330.00,568.79 L330.83,566.76 L331.67,565.38 L332.50,563.81 L333.33,562.43 L334.17,560.81 L335.00,559.00 L335.63,557.64 L336.26,556.13 L336.90,554.56 L337.53,552.93 L338.16,551.35 L338.79,549.78 L339.40,548.30 L340.00,546.89 L340.79,545.25 L341.56,543.75 L342.32,542.27 L343.06,540.88 L343.79,539.32 L344.50,537.92 L345.19,536.62 L345.85,535.43 L346.49,534.11 L347.13,532.86 L347.76,531.32 L348.40,529.50 L348.79,528.26 L349.17,526.95 L349.56,525.57 L349.95,524.12 L350.34,522.59 L350.72,521.00 L351.10,519.35 L351.47,517.63 L351.84,515.84 L352.20,514.00 L352.45,512.63 L352.71,511.20 L352.96,509.72 L353.21,508.19 L353.46,506.62 L353.70,505.03 L353.94,503.41 L354.18,501.77 L354.42,500.12 L354.64,498.48 L354.87,496.83 L355.09,495.20 L355.30,493.59 L355.50,492.00 L355.70,490.42 L355.89,488.84 L356.08,487.25 L356.26,485.66 L356.43,484.06 L356.60,482.47 L356.77,480.88 L356.93,479.29 L357.09,477.71 L357.24,476.14 L357.38,474.58 L357.53,473.04 L357.67,471.51 L357.80,470.00 L357.94,468.41 L358.07,466.86 L358.19,465.35 L358.31,463.86 L358.42,462.39 L358.53,460.92 L358.63,459.45 L358.73,457.97 L358.83,456.46 L358.92,454.92 L359.02,453.33 L359.11,451.70 L359.20,450.00 L359.27,448.55 L359.34,447.04 L359.41,445.46 L359.47,443.83 L359.53,442.17 L359.59,440.49 L359.65,438.79 L359.71,437.09 L359.76,435.41 L359.82,433.75 L359.88,432.13 L359.94,430.56 L360.00,429.05 L360.06,427.61 L360.13,426.26 L360.20,425.00 L360.32,422.93 L360.43,420.99 L360.54,419.18 L360.66,417.52 L360.78,416.00 L360.92,414.64 L361.08,413.43 L361.27,412.38 L361.50,411.68 L362.94,410.23 L364.60,410.37 L365.40,411.37 L366.21,412.78 L367.00,414.53 L367.70,415.76 L368.46,417.22 L369.10,418.48 L369.80,420.02 L370.40,421.43 L371.04,423.01 L371.70,424.61 L372.40,426.28 L373.15,427.78 L373.95,429.38 L374.75,430.90 L375.50,432.47 L376.17,434.06 L376.80,435.62 L377.42,437.18 L378.10,438.78 L378.85,440.34 L379.64,441.77 L380.45,443.37 L381.25,444.98 L382.04,446.65 L382.83,448.22 L383.62,449.71 L384.40,451.14 L385.18,452.82 L385.95,454.24 L386.73,455.81 L387.50,457.52 L388.13,459.02 L388.76,460.63 L389.40,462.32 L390.01,464.05 L390.60,465.80 L391.06,467.28 L391.50,468.81 L391.92,470.36 L392.34,471.91 L392.76,473.47 L393.20,475.00 L393.66,476.52 L394.13,478.03 L394.61,479.54 L395.08,481.04 L395.55,482.53 L396.00,484.00 L396.52,485.71 L397.02,487.36 L397.51,489.02 L398.00,490.71 L398.50,492.50 L398.90,493.99 L399.28,495.44 L399.66,496.94 L400.07,498.56 L400.54,500.38 L401.10,502.50 L401.42,503.69 L401.76,504.97 L402.12,506.31 L402.51,507.72 L402.90,509.18 L403.31,510.69 L403.73,512.22 L404.15,513.78 L404.57,515.34 L404.99,516.91 L405.40,518.47 L405.80,520.00 L406.17,521.41 L406.55,522.83 L406.93,524.27 L407.32,525.72 L407.71,527.17 L408.10,528.63 L408.49,530.10 L408.87,531.58 L409.24,533.06 L409.60,534.54 L409.95,536.03 L410.28,537.51 L410.60,539.00 L410.90,540.49 L411.19,541.98 L411.46,543.48 L411.72,544.99 L411.97,546.50 L412.22,548.01 L412.45,549.53 L412.69,551.04 L412.91,552.56 L413.14,554.07 L413.36,555.58 L413.58,557.09 L413.80,558.60 L414.02,560.10 L414.24,561.58 L414.45,563.06 L414.65,564.53 L414.85,566.00 L415.05,567.47 L415.25,568.95 L415.44,570.43 L415.63,571.93 L415.83,573.44 L416.02,574.97 L416.21,576.52 L416.40,578.10 L416.58,579.57 L416.75,581.01 L416.92,582.44 L417.08,583.87 L417.25,585.31 L417.41,586.76 L417.57,588.24 L417.74,589.75 L417.91,591.30 L418.08,592.90 L418.25,594.56 L418.43,596.29 L418.61,598.10 L418.80,600.00 L418.93,601.32 L419.06,602.68 L419.20,604.09 L419.34,605.53 L419.48,607.01 L419.63,608.51 L419.77,610.05 L419.92,611.61 L420.07,613.19 L420.22,614.78 L420.37,616.39 L420.52,618.02 L420.67,619.64 L420.81,621.27 L420.96,622.91 L421.11,624.53 L421.25,626.15 L421.39,627.76 L421.53,629.36 L421.67,630.94 L421.80,632.50 L421.93,634.05 L422.06,635.59 L422.19,637.14 L422.32,638.69 L422.45,640.24 L422.58,641.78 L422.70,643.33 L422.83,644.88 L422.95,646.42 L423.08,647.97 L423.20,649.52 L423.32,651.06 L423.44,652.61 L423.55,654.16 L423.67,655.71 L423.78,657.25 L423.89,658.80 L423.99,660.35 L424.10,661.90 L424.20,663.45 L424.30,665.00 L424.40,666.56 L424.49,668.16 L424.58,669.77 L424.66,671.40 L424.74,673.04 L424.82,674.69 L424.90,676.35 L424.98,678.00 L425.05,679.66 L425.12,681.30 L425.19,682.93 L425.26,684.55 L425.33,686.14 L425.40,687.71 L425.47,689.24 L425.54,690.75 L425.61,692.21 L425.68,693.63 L425.75,695.01 L425.82,696.33 L425.90,697.60 L426.04,699.73 L426.18,701.80 L426.32,703.79 L426.47,705.69 L426.61,707.50 L426.76,709.21 L426.90,710.82 L427.03,712.31 L427.16,713.68 L427.29,714.93 L427.40,716.03 L427.50,717.00 L428.20,719.50 L429.80,716.48 L430.56,714.62 L431.50,712.50 L432.38,711.06 L433.42,709.58 L434.60,708.10 L435.63,707.00 L436.77,705.91 L437.93,704.81 L439.00,703.70 L440.25,702.32 L441.40,700.67 L442.50,699.43 L443.49,697.55 L444.43,696.09 L445.50,694.92 L446.46,693.54 L447.51,692.03 L448.60,691.02 L449.70,689.99 L450.80,688.33 L451.92,686.72 L453.06,685.11 L454.20,683.78 L455.73,683.49 L457.27,682.36 L458.80,681.97 L460.04,680.21 L461.27,679.35 L463.30,677.79 L464.28,677.53 L465.42,676.52 L466.67,675.95 L468.01,675.34 L469.40,674.43 L470.83,673.32 L472.26,672.46 L473.66,672.69 L475.00,671.20 L476.46,670.69 L477.93,669.82 L479.39,669.17 L480.85,667.95 L482.31,667.42 L483.77,666.52 L485.24,666.31 L486.70,666.16 L488.16,665.30 L489.63,665.05 L491.09,663.92 L492.56,663.22 L494.02,663.36 L495.48,662.96 L496.94,662.67 L498.40,662.07 L500.08,661.87 L501.77,661.55 L503.46,661.33 L505.15,660.27 L506.81,659.96 L508.43,660.00 L510.00,659.04 L511.70,658.52 L513.25,658.44 L514.76,657.98 L516.32,658.45 L518.03,658.27 L520.00,657.33 L521.27,656.79 L522.55,656.40 L523.86,656.22 L525.22,655.70 L526.64,655.67 L528.16,655.48 L529.78,654.74 L531.53,654.10 L533.43,654.37 L535.50,653.33 L536.74,653.21 L538.04,653.08 L539.41,652.95 L540.83,652.42 L542.31,652.50 L543.83,652.17 L545.38,652.38 L546.97,651.97 L548.58,652.07 L550.21,651.60 L551.86,651.45 L553.51,651.02 L555.16,650.62 L556.80,650.78 L558.44,650.42 L560.05,650.51 L561.64,650.09 L563.20,649.85 L564.74,649.19 L566.29,649.55 L567.83,648.98 L569.37,648.50 L570.92,648.25 L572.46,648.21 L574.01,648.18 L575.55,648.50 L577.10,647.98 L578.65,647.57 L580.19,648.17 L581.74,647.88 L583.28,647.16 L584.83,646.98 L586.37,646.92 L587.91,647.02 L589.46,647.43 L591.00,647.42 L592.56,646.90 L594.14,646.27 L595.75,646.26 L597.38,646.01 L599.01,645.77 L600.65,645.23 L602.29,645.61 L603.93,645.73 L605.55,645.45 L607.16,644.56 L608.74,644.76 L610.29,644.21 L611.81,644.57 L613.29,644.15 L614.73,644.48 L616.11,644.19 L617.44,643.28 L618.70,643.26 L620.58,643.67 L622.22,642.99 L623.69,642.67 L625.02,642.44 L626.29,642.56 L627.53,642.56 L628.80,641.95 L630.16,642.20 L631.67,641.69 L633.36,640.99 L635.30,641.60 L636.58,641.20 L637.99,640.74 L639.51,641.68 L641.13,640.75 L642.83,641.25 L644.59,641.20 L646.38,641.65 L648.20,641.19 L650.03,640.98 L651.84,641.06 L653.62,641.02 L655.35,641.44 L657.01,641.29 L658.58,641.73 L660.05,641.26 L661.39,641.36 L662.59,641.28 L663.64,642.08 L664.50,641.60" fill="none" stroke="#529c50" stroke-width="1.9" stroke-linejoin="round"/>
<path d="M68.90,556.70 L69.58,557.40 L70.54,558.76 L71.64,560.35 L72.70,562.44 L73.20,563.76 L73.70,565.20 L74.21,566.79 L74.72,568.46 L75.24,570.17 L75.76,571.87 L76.28,573.49 L76.80,575.00 L77.38,576.60 L77.93,578.12 L78.49,579.61 L79.05,581.07 L79.65,582.52 L80.29,583.97 L81.00,585.36 L81.65,586.70 L82.32,588.11 L83.01,589.53 L83.73,590.94 L84.51,592.32 L85.34,593.36 L86.25,594.73 L87.25,595.90 L88.28,596.80 L89.32,597.44 L90.41,598.43 L91.57,598.88 L92.84,600.24 L94.26,600.94 L95.87,601.37 L97.70,601.85 L98.87,602.73 L100.13,602.91 L101.47,603.55 L102.89,603.96 L104.36,604.09 L105.89,604.38 L107.45,604.92 L109.04,605.18 L110.65,605.33 L112.26,605.79 L113.86,606.56 L115.44,606.32 L116.99,606.59 L118.50,607.36 L120.00,607.42 L121.51,607.88 L123.03,608.12 L124.56,608.26 L126.10,609.02 L127.63,608.66 L129.16,609.00 L130.67,609.05 L132.17,609.58 L133.66,609.52 L135.11,609.75 L136.54,610.25 L137.94,610.11 L139.30,610.43 L140.96,610.93 L142.54,610.48 L144.06,610.54 L145.54,610.80 L146.98,611.37 L148.42,611.41 L149.86,611.21 L151.32,611.37 L152.82,611.37 L154.37,611.71 L156.00,611.52 L157.34,612.16 L158.57,612.52 L159.73,612.77 L160.85,612.78 L161.98,613.13 L163.15,612.57 L164.41,612.88 L165.80,613.60 L167.35,613.63 L169.10,613.42 L171.11,613.88 L173.39,613.67 L176.00,613.77 L177.07,613.33 L178.21,613.17 L179.41,613.31 L180.67,613.03 L181.99,613.15 L183.36,613.57 L184.78,613.03 L186.24,612.65 L187.75,612.56 L189.29,612.57 L190.86,612.98 L192.46,612.59 L194.09,612.40 L195.74,612.13 L197.41,612.72 L199.09,612.23 L200.78,611.90 L202.47,611.64 L204.17,611.51 L205.87,611.48 L207.56,611.78 L209.23,611.27 L210.90,611.02 L212.55,611.25 L214.17,610.97 L215.78,611.44 L217.35,610.68 L218.89,610.82 L220.39,610.94 L221.85,610.55 L223.26,610.88 L224.63,610.41 L225.95,610.08 L227.20,610.10 L228.40,609.72 L230.51,609.83 L232.56,609.55 L234.54,609.89 L236.45,610.22 L238.30,609.33 L240.08,608.08 L241.80,608.28 L243.45,608.12 L245.04,607.88 L246.57,607.76 L248.03,608.99 L249.44,607.40 L250.78,606.91 L252.07,608.63 L253.29,607.89 L254.45,608.62 L255.56,607.32 L256.61,608.16 L257.60,607.62 L260.80,607.57 L262.19,607.40 L263.13,606.73 L265.00,605.43 L266.19,605.33 L267.51,606.48 L268.94,606.34 L270.45,606.05 L272.02,604.40 L273.64,604.55 L275.26,604.49 L276.88,603.75 L278.47,603.66 L280.00,602.63 L281.55,602.39 L283.16,601.98 L284.81,600.56 L286.48,601.34 L288.12,601.00 L289.72,598.58 L291.24,599.82 L292.64,599.50 L293.91,598.45 L295.00,596.66 L297.04,597.81 L297.96,596.08 L300.00,596.64 L301.01,595.55 L302.19,593.47 L303.50,592.74 L304.93,592.85 L306.42,591.84 L307.96,591.21 L309.49,590.60 L311.00,588.16 L312.44,586.60 L313.79,587.50 L315.00,585.00 L316.52,585.46 L317.97,583.05 L319.34,583.21 L320.62,582.25 L321.84,581.44 L322.97,579.91 L324.02,579.53 L325.00,577.55 L326.60,576.84 L327.81,575.23 L328.87,574.71 L330.00,572.99 L330.71,571.57 L331.43,570.34 L332.14,568.92 L332.86,567.51 L333.57,566.12 L334.29,564.58 L335.00,563.03 L335.56,561.72 L336.12,560.32 L336.69,558.89 L337.25,557.43 L337.81,555.94 L338.37,554.46 L338.92,553.05 L339.47,551.69 L340.00,550.37 L340.79,548.65 L341.56,547.01 L342.32,545.54 L343.06,543.98 L343.79,542.49 L344.50,541.00 L345.19,539.57 L345.85,538.09 L346.49,536.70 L347.13,535.27 L347.76,533.62 L348.40,531.70 L348.79,530.40 L349.18,529.02 L349.57,527.56 L349.96,526.04 L350.35,524.46 L350.74,522.82 L351.11,521.15 L351.49,519.45 L351.85,517.73 L352.20,516.00 L352.48,514.55 L352.76,513.08 L353.04,511.60 L353.30,510.10 L353.57,508.58 L353.83,507.02 L354.08,505.45 L354.33,503.83 L354.58,502.19 L354.82,500.50 L355.06,498.77 L355.30,497.00 L355.48,495.63 L355.66,494.21 L355.84,492.75 L356.02,491.26 L356.19,489.74 L356.37,488.20 L356.54,486.64 L356.71,485.07 L356.88,483.50 L357.04,481.93 L357.20,480.37 L357.35,478.82 L357.50,477.29 L357.64,475.79 L357.77,474.33 L357.90,472.90 L358.04,471.20 L358.18,469.57 L358.30,467.98 L358.41,466.43 L358.52,464.91 L358.62,463.39 L358.71,461.87 L358.80,460.34 L358.88,458.78 L358.96,457.17 L359.04,455.52 L359.12,453.80 L359.20,452.00 L359.26,450.63 L359.31,449.20 L359.36,447.71 L359.40,446.17 L359.45,444.60 L359.49,442.99 L359.53,441.37 L359.57,439.74 L359.60,438.11 L359.64,436.48 L359.68,434.88 L359.72,433.31 L359.76,431.77 L359.80,430.28 L359.85,428.85 L359.89,427.49 L359.95,426.20 L360.00,425.00 L360.11,422.76 L360.23,420.68 L360.35,418.75 L360.47,416.97 L360.60,415.35 L360.74,413.88 L360.90,412.57 L361.06,411.41 L361.25,410.40 L362.27,407.94 L363.50,408.40 L364.40,409.43 L365.38,411.27 L366.50,413.06 L367.51,414.31 L368.64,415.11 L369.77,416.53 L370.80,417.38 L371.96,418.97 L372.99,420.62 L374.00,422.09 L374.97,423.27 L375.91,424.52 L377.00,426.19 L377.77,427.54 L378.61,429.06 L379.50,430.56 L380.39,431.99 L381.25,433.47 L382.09,435.02 L382.91,436.32 L383.74,437.77 L384.57,439.16 L385.40,440.73 L386.10,442.14 L386.80,443.55 L387.50,444.96 L388.20,446.35 L388.90,447.86 L389.60,449.23 L390.30,450.53 L391.00,451.87 L391.70,453.38 L392.40,454.77 L393.08,456.14 L393.75,457.52 L394.41,458.94 L395.06,460.40 L395.70,461.91 L396.32,463.42 L396.92,464.97 L397.50,466.50 L398.04,468.04 L398.56,469.57 L399.05,471.12 L399.53,472.70 L400.01,474.32 L400.50,476.00 L400.93,477.50 L401.37,479.06 L401.81,480.66 L402.25,482.28 L402.68,483.89 L403.10,485.47 L403.50,487.00 L403.95,488.72 L404.37,490.41 L404.78,492.06 L405.19,493.70 L405.59,495.34 L406.00,497.00 L406.41,498.63 L406.81,500.22 L407.21,501.81 L407.62,503.44 L408.05,505.16 L408.50,507.00 L408.86,508.44 L409.22,509.90 L409.60,511.39 L409.99,512.94 L410.38,514.55 L410.78,516.26 L411.19,518.07 L411.60,520.00 L411.88,521.37 L412.17,522.81 L412.47,524.31 L412.77,525.87 L413.08,527.46 L413.38,529.09 L413.69,530.74 L413.99,532.40 L414.28,534.07 L414.56,535.73 L414.84,537.38 L415.10,539.00 L415.33,540.49 L415.56,541.98 L415.77,543.48 L415.99,544.99 L416.19,546.50 L416.39,548.01 L416.59,549.53 L416.78,551.04 L416.97,552.56 L417.16,554.07 L417.34,555.58 L417.52,557.09 L417.70,558.60 L417.87,560.10 L418.04,561.58 L418.20,563.06 L418.36,564.53 L418.51,566.00 L418.66,567.47 L418.81,568.95 L418.96,570.43 L419.10,571.93 L419.25,573.44 L419.40,574.97 L419.55,576.52 L419.70,578.10 L419.84,579.57 L419.98,581.01 L420.12,582.44 L420.25,583.87 L420.39,585.31 L420.53,586.76 L420.66,588.24 L420.80,589.75 L420.94,591.30 L421.08,592.90 L421.23,594.56 L421.38,596.29 L421.54,598.10 L421.70,600.00 L421.81,601.32 L421.93,602.68 L422.05,604.09 L422.17,605.53 L422.29,607.01 L422.42,608.51 L422.55,610.05 L422.68,611.61 L422.81,613.19 L422.94,614.78 L423.07,616.39 L423.20,618.02 L423.33,619.64 L423.46,621.27 L423.59,622.91 L423.72,624.53 L423.84,626.15 L423.96,627.76 L424.08,629.36 L424.19,630.94 L424.30,632.50 L424.41,634.05 L424.51,635.59 L424.61,637.14 L424.71,638.69 L424.81,640.24 L424.91,641.78 L425.01,643.33 L425.10,644.88 L425.19,646.42 L425.29,647.97 L425.38,649.52 L425.46,651.06 L425.55,652.61 L425.64,654.16 L425.72,655.71 L425.80,657.25 L425.89,658.80 L425.97,660.35 L426.05,661.90 L426.12,663.45 L426.20,665.00 L426.27,666.56 L426.35,668.15 L426.41,669.75 L426.48,671.37 L426.54,673.00 L426.60,674.63 L426.66,676.27 L426.72,677.91 L426.77,679.55 L426.83,681.18 L426.88,682.80 L426.94,684.41 L427.00,685.99 L427.05,687.56 L427.11,689.10 L427.17,690.61 L427.23,692.09 L427.29,693.53 L427.36,694.93 L427.43,696.29 L427.50,697.60 L427.61,699.53 L427.73,701.44 L427.85,703.33 L427.98,705.18 L428.11,706.99 L428.24,708.73 L428.38,710.40 L428.51,711.98 L428.64,713.47 L428.78,714.84 L428.91,716.10 L429.04,717.22 L429.17,718.19 L429.30,719.03 L431.00,718.00 L432.18,716.87 L433.70,715.20 L434.68,714.05 L435.79,712.71 L436.96,711.28 L438.10,709.90 L439.23,708.54 L440.39,707.36 L441.50,705.75 L442.50,704.62 L443.56,703.33 L444.46,702.27 L445.50,700.62 L446.46,699.81 L447.51,698.30 L448.60,697.30 L449.70,695.76 L450.80,694.96 L451.92,693.51 L453.06,692.37 L454.20,691.18 L455.73,690.05 L457.27,688.86 L458.80,688.12 L460.04,686.81 L461.27,685.55 L463.30,684.57 L464.28,683.35 L465.42,682.61 L466.67,682.44 L468.01,681.68 L469.40,680.64 L470.83,680.04 L472.26,678.51 L473.66,678.38 L475.00,677.60 L476.46,676.86 L477.93,676.34 L479.39,675.14 L480.85,674.57 L482.31,673.96 L483.77,673.69 L485.24,673.25 L486.70,672.74 L488.16,672.09 L489.63,671.91 L491.09,671.57 L492.56,671.08 L494.02,670.07 L495.48,669.69 L496.94,669.34 L498.40,668.96 L500.08,668.78 L501.77,668.07 L503.46,667.96 L505.15,667.35 L506.81,666.95 L508.43,666.83 L510.00,666.68 L511.70,665.68 L513.25,665.38 L514.76,665.55 L516.32,664.62 L518.03,664.03 L520.00,663.71 L521.27,663.95 L522.55,663.63 L523.86,663.48 L525.22,662.83 L526.64,662.09 L528.16,661.93 L529.78,661.94 L531.53,661.36 L533.43,660.77 L535.50,660.57 L536.74,660.45 L538.04,660.15 L539.41,659.99 L540.83,659.52 L542.31,659.17 L543.83,659.53 L545.38,659.31 L546.97,658.82 L548.58,658.30 L550.21,658.18 L551.86,658.16 L553.51,658.22 L555.16,657.68 L556.80,657.82 L558.44,657.28 L560.05,656.75 L561.64,656.86 L563.20,656.69 L564.74,656.50 L566.29,656.42 L567.83,655.68 L569.37,655.79 L570.92,655.95 L572.46,655.28 L574.01,654.99 L575.55,654.94 L577.10,654.88 L578.65,654.86 L580.19,654.63 L581.74,654.73 L583.28,654.24 L584.83,654.21 L586.37,654.34 L587.91,654.13 L589.46,654.32 L591.00,654.19 L592.56,653.51 L594.14,653.38 L595.75,653.41 L597.38,653.30 L599.01,653.03 L600.65,653.30 L602.29,652.67 L603.93,652.73 L605.55,652.34 L607.16,652.81 L608.74,652.52 L610.29,652.70 L611.81,651.93 L613.29,652.21 L614.73,652.04 L616.11,651.48 L617.44,651.94 L618.70,651.93 L620.58,651.10 L622.22,651.53 L623.69,651.25 L625.02,650.89 L626.29,650.62 L627.53,650.19 L628.80,649.81 L630.16,649.95 L631.67,650.14 L633.36,649.51 L635.30,649.56 L636.58,649.37 L637.99,649.64 L639.51,649.85 L641.13,649.79 L642.83,649.28 L644.59,649.32 L646.38,648.97 L648.20,649.36 L650.03,649.66 L651.84,649.68 L653.62,649.06 L655.35,649.30 L657.01,649.04 L658.58,649.30 L660.05,649.72 L661.39,649.26 L662.59,649.67 L663.64,649.80 L664.50,649.40" fill="none" stroke="#51458f" stroke-width="1.9" stroke-linejoin="round"/>
<rect x="465" y="43.5" width="201" height="153.5" fill="#fff"/>
<rect x="465" y="387" width="201" height="149.5" fill="#fff"/>
<path d="M466.00,167.90 C467.38,166.87 471.63,163.68 474.30,161.70 C476.97,159.72 479.38,157.95 482.00,156.00 C484.62,154.05 487.78,152.83 490.00,150.00 C492.22,147.17 493.97,144.33 495.30,139.00 C496.63,133.67 497.33,127.00 498.00,118.00 C498.67,109.00 498.88,94.67 499.30,85.00 C499.72,75.33 500.05,65.00 500.50,60.00 C500.95,55.00 501.25,55.67 502.00,55.00 C502.75,54.33 504.20,54.17 505.00,56.00 C505.80,57.83 506.33,57.67 506.80,66.00 C507.27,74.33 507.47,92.00 507.80,106.00 C508.13,120.00 508.50,135.08 508.80,150.00 C509.10,164.92 509.23,188.33 509.60,195.50 C509.97,202.67 510.35,194.33 511.00,193.00 C511.65,191.67 512.58,189.17 513.50,187.50 C514.42,185.83 515.48,184.25 516.50,183.00 C517.52,181.75 518.22,181.00 519.60,180.00 C520.98,179.00 523.07,177.78 524.80,177.00 C526.53,176.22 527.93,175.80 530.00,175.30 C532.07,174.80 531.87,174.72 537.20,174.00 C542.53,173.28 551.65,171.62 562.00,171.00 C572.35,170.38 586.88,170.58 599.30,170.30 C611.72,170.02 625.38,169.72 636.50,169.30 C647.62,168.88 661.08,168.05 666.00,167.80" fill="none" stroke="#000" stroke-width="2.0" stroke-linejoin="round" stroke-linecap="butt" stroke-dasharray="8 6"/>
<path d="M465.90,129.00 C466.05,130.92 466.50,136.08 466.80,140.50 C467.10,144.92 467.18,152.43 467.70,155.50 C468.22,158.57 468.62,158.52 469.90,158.90 C471.18,159.28 473.02,158.55 475.40,157.80 C477.78,157.05 481.62,155.88 484.20,154.40 C486.78,152.92 489.05,151.67 490.90,148.90 C492.75,146.13 494.12,142.97 495.30,137.80 C496.48,132.63 497.33,126.75 498.00,117.90 C498.67,109.05 498.92,93.93 499.30,84.70 C499.68,75.47 499.93,67.28 500.30,62.50 C500.67,57.72 500.85,56.90 501.50,56.00 C502.15,55.10 503.38,54.88 504.20,57.10 C505.02,59.32 505.85,61.00 506.40,69.30 C506.95,77.60 507.13,93.27 507.50,106.90 C507.87,120.53 508.32,136.25 508.60,151.10 C508.88,165.95 508.83,189.27 509.20,196.00 C509.57,202.73 510.17,193.17 510.80,191.50 C511.43,189.83 512.13,187.67 513.00,186.00 C513.87,184.33 514.90,182.82 516.00,181.50 C517.10,180.18 518.13,179.13 519.60,178.10 C521.07,177.07 523.07,176.07 524.80,175.30 C526.53,174.53 527.93,174.05 530.00,173.50 C532.07,172.95 531.87,172.75 537.20,172.00 C542.53,171.25 551.65,169.78 562.00,169.00 C572.35,168.22 586.88,167.72 599.30,167.30 C611.72,166.88 625.38,166.83 636.50,166.50 C647.62,166.17 661.08,165.50 666.00,165.30" fill="none" stroke="#000" stroke-width="2.0" stroke-linejoin="round" stroke-linecap="butt"/>
<path d="M466.10,125.20 C466.28,127.67 466.85,135.53 467.20,140.00 C467.55,144.47 467.75,149.50 468.20,152.00 C468.65,154.50 468.70,154.50 469.90,155.00 C471.10,155.50 473.02,155.28 475.40,155.00 C477.78,154.72 481.62,154.40 484.20,153.30 C486.78,152.20 489.05,151.07 490.90,148.40 C492.75,145.73 494.12,142.47 495.30,137.30 C496.48,132.13 497.33,126.25 498.00,117.40 C498.67,108.55 498.92,93.43 499.30,84.20 C499.68,74.97 499.93,66.78 500.30,62.00 C500.67,57.22 500.85,56.40 501.50,55.50 C502.15,54.60 503.38,54.38 504.20,56.60 C505.02,58.82 505.85,60.50 506.40,68.80 C506.95,77.10 507.13,92.77 507.50,106.40 C507.87,120.03 508.32,135.75 508.60,150.60 C508.88,165.45 508.83,188.60 509.20,195.50 C509.57,202.40 510.17,193.42 510.80,192.00 C511.43,190.58 512.13,188.58 513.00,187.00 C513.87,185.42 514.90,183.83 516.00,182.50 C517.10,181.17 518.13,180.03 519.60,179.00 C521.07,177.97 523.07,177.05 524.80,176.30 C526.53,175.55 527.93,175.05 530.00,174.50 C532.07,173.95 531.87,173.75 537.20,173.00 C542.53,172.25 551.65,170.73 562.00,170.00 C572.35,169.27 586.88,168.97 599.30,168.60 C611.72,168.23 625.38,168.02 636.50,167.80 C647.62,167.58 661.08,167.38 666.00,167.30" fill="none" stroke="#b4393c" stroke-width="2.0" stroke-linejoin="round" stroke-linecap="butt"/>
<path d="M465.90,128.50 C466.05,130.42 466.50,135.58 466.80,140.00 C467.10,144.42 467.18,151.93 467.70,155.00 C468.22,158.07 468.62,158.02 469.90,158.40 C471.18,158.78 473.02,158.05 475.40,157.30 C477.78,156.55 481.62,155.38 484.20,153.90 C486.78,152.42 489.05,151.17 490.90,148.40 C492.75,145.63 494.12,142.47 495.30,137.30 C496.48,132.13 497.33,126.25 498.00,117.40 C498.67,108.55 498.92,93.43 499.30,84.20 C499.68,74.97 499.93,66.78 500.30,62.00 C500.67,57.22 500.85,56.40 501.50,55.50 C502.15,54.60 503.38,54.38 504.20,56.60 C505.02,58.82 505.85,60.50 506.40,68.80 C506.95,77.10 507.13,92.77 507.50,106.40 C507.87,120.03 508.32,135.75 508.60,150.60 C508.88,165.45 508.83,188.77 509.20,195.50 C509.57,202.23 510.17,192.67 510.80,191.00 C511.43,189.33 512.13,187.17 513.00,185.50 C513.87,183.83 514.90,182.32 516.00,181.00 C517.10,179.68 518.13,178.63 519.60,177.60 C521.07,176.57 523.07,175.57 524.80,174.80 C526.53,174.03 527.93,173.55 530.00,173.00 C532.07,172.45 531.87,172.25 537.20,171.50 C542.53,170.75 551.65,169.28 562.00,168.50 C572.35,167.72 586.88,167.22 599.30,166.80 C611.72,166.38 625.38,166.33 636.50,166.00 C647.62,165.67 661.08,165.00 666.00,164.80" fill="none" stroke="#7fa5d3" stroke-width="2.4" stroke-linejoin="round" stroke-linecap="butt"/>
<path d="M465.50,471.00 C465.63,473.33 466.02,480.33 466.30,485.00 C466.58,489.67 466.83,495.33 467.20,499.00 C467.57,502.67 467.85,506.23 468.50,507.00 C469.15,507.77 469.42,505.27 471.10,503.60 C472.78,501.93 476.12,498.93 478.60,497.00 C481.08,495.07 483.53,493.85 486.00,492.00 C488.47,490.15 491.52,488.37 493.40,485.90 C495.28,483.43 496.32,481.52 497.30,477.20 C498.28,472.88 498.72,466.20 499.30,460.00 C499.88,453.80 500.35,446.67 500.80,440.00 C501.25,433.33 501.63,425.67 502.00,420.00 C502.37,414.33 502.62,409.08 503.00,406.00 C503.38,402.92 503.83,401.92 504.30,401.50 C504.77,401.08 505.37,401.75 505.80,403.50 C506.23,405.25 506.60,408.42 506.90,412.00 C507.20,415.58 507.40,419.50 507.60,425.00 C507.80,430.50 507.97,437.50 508.10,445.00 C508.23,452.50 508.32,460.83 508.40,470.00 C508.48,479.17 508.52,490.83 508.60,500.00 C508.68,509.17 508.75,519.50 508.90,525.00 C509.05,530.50 509.22,531.42 509.50,533.00 C509.78,534.58 510.13,535.33 510.60,534.50 C511.07,533.67 511.57,529.83 512.30,528.00 C513.03,526.17 514.03,524.75 515.00,523.50 C515.97,522.25 516.55,521.70 518.10,520.50 C519.65,519.30 522.32,517.35 524.30,516.30 C526.28,515.25 527.07,514.82 530.00,514.20 C532.93,513.58 536.27,513.02 541.90,512.60 C547.53,512.18 556.50,512.00 563.80,511.70 C571.10,511.40 578.40,511.10 585.70,510.80 C593.00,510.50 600.30,510.15 607.60,509.90 C614.90,509.65 620.02,509.67 629.50,509.30 C638.98,508.93 658.67,507.97 664.50,507.70" fill="none" stroke="#000" stroke-width="2.0" stroke-linejoin="round" stroke-linecap="butt" stroke-dasharray="6 6"/>
<path d="M467.50,446.50 L467.59,446.81 L467.69,447.19 L467.83,447.66 L468.00,448.26 L468.22,449.03 L468.50,450.00 L468.62,450.43 L468.76,450.92 L468.91,451.45 L469.06,452.02 L469.23,452.63 L469.40,453.25 L469.58,453.90 L469.77,454.56 L469.95,455.23 L470.14,455.89 L470.33,456.55 L470.52,457.20 L470.71,457.82 L470.89,458.42 L471.07,458.98 L471.25,459.50 L471.50,460.21 L471.75,460.89 L472.01,461.55 L472.26,462.17 L472.51,462.78 L472.77,463.36 L473.02,463.92 L473.27,464.46 L473.52,464.99 L473.76,465.50 L474.00,466.00 L474.32,466.65 L474.62,467.25 L474.92,467.82 L475.22,468.35 L475.51,468.86 L475.82,469.37 L476.15,469.88 L476.50,470.40 L476.86,470.94 L477.24,471.49 L477.62,472.05 L478.01,472.59 L478.42,473.12 L478.86,473.62 L479.32,474.09 L479.80,474.50 L480.33,474.88 L480.90,475.23 L481.50,475.55 L482.12,475.84 L482.75,476.10 L483.36,476.31 L483.95,476.48 L484.50,476.60 L485.18,476.68 L485.81,476.67 L486.42,476.59 L487.01,476.44 L487.60,476.24 L488.20,476.00 L488.73,475.77 L489.27,475.53 L489.80,475.25 L490.33,474.92 L490.85,474.52 L491.34,474.06 L491.80,473.50 L492.10,473.05 L492.39,472.56 L492.67,472.04 L492.94,471.47 L493.20,470.88 L493.45,470.25 L493.70,469.59 L493.93,468.92 L494.17,468.22 L494.40,467.50 L494.56,466.98 L494.72,466.46 L494.88,465.93 L495.03,465.38 L495.18,464.83 L495.33,464.27 L495.47,463.69 L495.61,463.09 L495.75,462.47 L495.88,461.83 L496.02,461.16 L496.15,460.47 L496.27,459.75 L496.40,459.00 L496.48,458.48 L496.56,457.95 L496.64,457.41 L496.72,456.85 L496.80,456.28 L496.88,455.70 L496.96,455.11 L497.03,454.51 L497.10,453.90 L497.18,453.28 L497.25,452.65 L497.32,452.02 L497.39,451.37 L497.46,450.72 L497.52,450.06 L497.59,449.40 L497.65,448.73 L497.72,448.05 L497.78,447.37 L497.84,446.69 L497.90,446.00 L497.95,445.44 L497.99,444.87 L498.04,444.30 L498.08,443.71 L498.13,443.13 L498.17,442.53 L498.21,441.93 L498.25,441.33 L498.29,440.72 L498.33,440.11 L498.37,439.49 L498.41,438.87 L498.45,438.25 L498.49,437.62 L498.52,436.99 L498.56,436.36 L498.60,435.73 L498.63,435.10 L498.67,434.46 L498.70,433.82 L498.73,433.18 L498.77,432.55 L498.80,431.91 L498.83,431.27 L498.87,430.64 L498.90,430.00 L498.93,429.41 L498.96,428.80 L498.99,428.20 L499.02,427.58 L499.04,426.96 L499.07,426.33 L499.10,425.70 L499.12,425.07 L499.15,424.43 L499.18,423.80 L499.20,423.16 L499.23,422.52 L499.25,421.89 L499.27,421.25 L499.30,420.62 L499.32,419.99 L499.35,419.36 L499.37,418.74 L499.39,418.13 L499.42,417.52 L499.44,416.92 L499.46,416.33 L499.48,415.75 L499.51,415.17 L499.53,414.61 L499.55,414.06 L499.58,413.52 L499.60,413.00 L499.63,412.28 L499.66,411.56 L499.69,410.84 L499.72,410.14 L499.75,409.44 L499.78,408.75 L499.81,408.07 L499.84,407.41 L499.87,406.76 L499.90,406.12 L499.93,405.51 L499.96,404.91 L499.99,404.34 L500.02,403.78 L500.05,403.25 L500.08,402.74 L500.11,402.26 L500.14,401.81 L500.17,401.39 L500.20,401.00 L500.33,399.74 L500.47,398.91 L500.62,398.41 L500.76,398.14 L500.90,398.00 L501.14,397.63 L501.38,397.81 L501.60,400.00 L501.62,400.35 L501.64,400.73 L501.65,401.14 L501.67,401.58 L501.69,402.05 L501.70,402.54 L501.72,403.06 L501.74,403.60 L501.75,404.16 L501.77,404.74 L501.78,405.33 L501.80,405.95 L501.81,406.58 L501.83,407.22 L501.84,407.87 L501.86,408.54 L501.87,409.21 L501.88,409.89 L501.90,410.58 L501.91,411.27 L501.93,411.97 L501.94,412.67 L501.95,413.36 L501.97,414.06 L501.98,414.75 L502.00,415.44 L502.01,416.12 L502.03,416.79 L502.04,417.46 L502.06,418.11 L502.07,418.76 L502.08,419.39 L502.10,420.00 L502.11,420.60 L502.13,421.18 L502.14,421.76 L502.16,422.32 L502.17,422.87 L502.19,423.41 L502.20,423.95 L502.21,424.48 L502.23,425.01 L502.24,425.53 L502.25,426.05 L502.26,426.57 L502.28,427.10 L502.29,427.62 L502.30,428.16 L502.32,428.69 L502.33,429.24 L502.35,429.79 L502.36,430.35 L502.37,430.92 L502.39,431.51 L502.40,432.10 L502.42,432.72 L502.43,433.35 L502.45,434.00 L502.47,434.66 L502.48,435.35 L502.50,436.06 L502.52,436.80 L502.54,437.56 L502.56,438.34 L502.58,439.16 L502.60,440.00 L502.61,440.47 L502.62,440.95 L502.64,441.45 L502.65,441.96 L502.66,442.48 L502.67,443.01 L502.68,443.55 L502.70,444.10 L502.71,444.66 L502.72,445.23 L502.74,445.81 L502.75,446.40 L502.76,446.99 L502.78,447.60 L502.79,448.21 L502.80,448.83 L502.82,449.45 L502.83,450.08 L502.84,450.72 L502.86,451.36 L502.87,452.00 L502.89,452.65 L502.90,453.30 L502.92,453.96 L502.93,454.62 L502.95,455.28 L502.96,455.94 L502.97,456.61 L502.99,457.27 L503.00,457.94 L503.02,458.61 L503.04,459.28 L503.05,459.94 L503.07,460.61 L503.08,461.27 L503.10,461.93 L503.11,462.59 L503.13,463.25 L503.14,463.90 L503.16,464.55 L503.18,465.20 L503.19,465.84 L503.21,466.48 L503.22,467.11 L503.24,467.73 L503.26,468.35 L503.27,468.97 L503.29,469.57 L503.30,470.17 L503.32,470.76 L503.34,471.34 L503.35,471.91 L503.37,472.48 L503.39,473.03 L503.40,473.58 L503.42,474.11 L503.43,474.63 L503.45,475.14 L503.47,475.64 L503.48,476.13 L503.50,476.60 L503.53,477.43 L503.56,478.23 L503.59,479.01 L503.62,479.77 L503.65,480.52 L503.68,481.24 L503.72,481.94 L503.75,482.63 L503.78,483.30 L503.81,483.95 L503.84,484.59 L503.88,485.21 L503.91,485.83 L503.94,486.42 L503.98,487.01 L504.01,487.58 L504.04,488.15 L504.08,488.71 L504.11,489.25 L504.14,489.79 L504.18,490.33 L504.21,490.85 L504.24,491.37 L504.28,491.89 L504.31,492.40 L504.34,492.91 L504.38,493.42 L504.41,493.93 L504.44,494.44 L504.47,494.95 L504.51,495.46 L504.54,495.97 L504.57,496.48 L504.60,497.00 L504.64,497.70 L504.68,498.39 L504.72,499.06 L504.76,499.72 L504.80,500.36 L504.84,501.00 L504.88,501.62 L504.92,502.23 L504.96,502.84 L505.00,503.44 L505.04,504.03 L505.07,504.61 L505.11,505.19 L505.15,505.76 L505.19,506.33 L505.23,506.90 L505.27,507.46 L505.31,508.02 L505.35,508.59 L505.39,509.15 L505.43,509.71 L505.47,510.28 L505.51,510.85 L505.56,511.42 L505.60,512.00 L505.65,512.64 L505.70,513.28 L505.75,513.94 L505.80,514.61 L505.85,515.28 L505.91,515.95 L505.96,516.62 L506.01,517.30 L506.07,517.97 L506.12,518.64 L506.18,519.30 L506.23,519.95 L506.29,520.59 L506.34,521.22 L506.40,521.84 L506.45,522.43 L506.50,523.01 L506.56,523.57 L506.61,524.11 L506.66,524.63 L506.71,525.11 L506.75,525.57 L506.80,526.00 L506.93,527.12 L507.05,528.12 L507.16,528.97 L507.27,529.69 L507.38,530.25 L507.48,530.66 L507.59,530.92 L507.70,531.00 L507.81,530.90 L507.92,530.62 L508.03,530.17 L508.14,529.56 L508.25,528.83 L508.36,527.98 L508.48,527.03 L508.60,526.00 L508.65,525.55 L508.70,525.07 L508.75,524.55 L508.80,524.00 L508.86,523.42 L508.91,522.82 L508.96,522.20 L509.02,521.56 L509.07,520.91 L509.12,520.25 L509.18,519.59 L509.24,518.92 L509.29,518.26 L509.35,517.60 L509.41,516.95 L509.46,516.32 L509.52,515.70 L509.58,515.11 L509.64,514.54 L509.70,514.00 L509.78,513.31 L509.86,512.62 L509.94,511.95 L510.03,511.29 L510.11,510.65 L510.20,510.02 L510.28,509.40 L510.37,508.79 L510.46,508.20 L510.54,507.63 L510.63,507.07 L510.72,506.53 L510.82,506.00 L510.91,505.49 L511.00,505.00 L511.16,504.23 L511.31,503.52 L511.47,502.87 L511.63,502.26 L511.79,501.68 L511.96,501.13 L512.13,500.59 L512.31,500.05 L512.50,499.50 L512.72,498.89 L512.93,498.30 L513.14,497.72 L513.37,497.15 L513.61,496.64 L513.88,496.10 L514.17,495.64 L514.50,494.97 L514.82,494.50 L515.14,494.17 L515.49,493.62 L515.85,492.97 L516.23,492.66 L516.65,492.09 L517.09,491.43 L517.58,490.96 L518.10,490.77 L518.57,490.34 L519.08,489.96 L519.62,489.98 L520.18,489.38 L520.77,489.19 L521.37,488.96 L521.97,488.33 L522.57,488.61 L523.17,488.02 L523.75,487.67 L524.30,487.68 L524.92,487.24 L525.48,486.88 L526.01,486.75 L526.53,486.53 L527.07,486.59 L527.66,486.42 L528.33,486.15 L529.10,485.90 L530.00,486.12 L530.44,485.84 L530.89,485.71 L531.35,485.12 L531.82,485.58 L532.30,484.83 L532.80,485.12 L533.31,484.91 L533.83,484.55 L534.38,484.29 L534.94,484.24 L535.52,484.10 L536.12,484.11 L536.75,483.38 L537.40,483.17 L538.08,483.38 L538.78,483.01 L539.51,483.05 L540.28,482.78 L541.07,482.37 L541.90,482.81 L542.38,482.32 L542.87,482.32 L543.37,482.59 L543.89,482.70 L544.43,482.62 L544.97,482.63 L545.53,482.09 L546.09,481.92 L546.67,482.04 L547.26,482.33 L547.85,482.17 L548.46,482.09 L549.07,482.12 L549.69,481.66 L550.32,481.89 L550.95,481.75 L551.58,482.12 L552.23,481.60 L552.87,481.74 L553.52,481.81 L554.17,481.86 L554.82,481.91 L555.48,481.86 L556.13,481.21 L556.78,481.96 L557.44,481.07 L558.09,481.66 L558.74,481.25 L559.39,480.97 L560.03,481.19 L560.68,480.91 L561.31,480.96 L561.94,481.77 L562.57,481.65 L563.19,481.12 L563.80,481.18 L564.41,481.28 L565.02,480.94 L565.62,480.67 L566.23,480.97 L566.84,481.45 L567.45,481.62 L568.06,481.19 L568.67,481.36 L569.27,480.89 L569.88,481.28 L570.49,481.33 L571.10,481.43 L571.71,480.53 L572.32,480.84 L572.92,480.27 L573.53,480.85 L574.14,480.75 L574.75,480.87 L575.36,480.79 L575.97,480.51 L576.58,480.19 L577.18,480.38 L577.79,481.01 L578.40,480.36 L579.01,481.24 L579.62,481.13 L580.23,480.30 L580.83,480.46 L581.44,480.96 L582.05,479.86 L582.66,480.83 L583.27,480.38 L583.88,480.71 L584.48,479.74 L585.09,480.57 L585.70,479.75 L586.31,479.99 L586.92,480.49 L587.52,480.55 L588.13,480.12 L588.74,479.90 L589.35,480.02 L589.96,479.91 L590.57,479.76 L591.18,479.75 L591.78,480.13 L592.39,480.56 L593.00,480.70 L593.61,479.99 L594.22,480.81 L594.82,479.88 L595.43,480.58 L596.04,480.60 L596.65,480.49 L597.26,480.73 L597.87,480.21 L598.48,480.62 L599.08,479.59 L599.69,479.88 L600.30,480.00 L600.91,479.93 L601.52,479.07 L602.12,479.31 L602.73,479.99 L603.34,479.57 L603.95,480.12 L604.56,480.22 L605.17,479.89 L605.78,479.07 L606.38,479.55 L606.99,480.48 L607.60,479.43 L608.21,478.89 L608.82,480.11 L609.42,479.47 L610.03,479.07 L610.64,479.63 L611.25,480.47 L611.86,479.86 L612.47,479.11 L613.08,478.64 L613.68,479.40 L614.29,479.16 L614.90,480.54 L615.51,480.53 L616.12,480.72 L616.72,480.62 L617.33,479.32 L617.94,479.92 L618.55,479.81 L619.16,479.77 L619.77,479.78 L620.38,479.11 L620.98,478.91 L621.59,478.68 L622.20,480.01 L622.81,479.02 L623.42,480.42 L624.03,480.10 L624.63,479.33 L625.24,480.54 L625.85,478.90 L626.46,478.98 L627.07,480.29 L627.67,479.48 L628.28,480.60 L628.89,479.78 L629.50,478.58 L630.11,480.56 L630.73,480.89 L631.35,479.69 L631.98,480.17 L632.61,480.14 L633.25,478.78 L633.89,480.16 L634.54,479.68 L635.18,480.10 L635.83,478.50 L636.48,479.29 L637.13,478.85 L637.77,480.54 L638.42,478.55 L639.07,478.32 L639.72,479.02 L640.36,480.27 L641.00,478.86 L641.64,479.91 L642.27,480.27 L642.90,479.82 L643.52,479.24 L644.14,480.07 L644.75,478.57 L645.36,478.78 L645.95,480.30 L646.54,478.79 L647.12,478.73 L647.70,478.40 L648.26,479.37 L648.81,480.48 L649.35,478.55 L649.88,479.30 L650.40,480.35 L650.91,478.34 L651.40,479.16 L652.23,478.73 L653.04,479.32 L653.85,480.40 L654.64,480.47 L655.41,478.82 L656.17,478.26 L656.90,479.01 L657.62,480.23 L658.32,478.40 L658.99,478.26 L659.64,478.52 L660.26,480.05 L660.86,478.38 L661.43,477.89 L661.97,478.39 L662.48,478.81 L662.95,477.92 L663.39,479.37 L663.80,477.84 L664.17,478.62 L664.50,478.60" fill="none" stroke="#e3a33f" stroke-width="2.0" stroke-linejoin="round"/>
<path d="M466.40,486.00 L466.46,486.36 L466.55,486.83 L466.65,487.39 L466.76,488.02 L466.88,488.69 L467.00,489.38 L467.13,490.08 L467.26,490.77 L467.38,491.41 L467.50,492.00 L467.64,492.73 L467.78,493.51 L467.92,494.30 L468.06,495.06 L468.20,495.75 L468.36,496.34 L468.52,496.76 L468.70,497.00 L469.02,496.92 L469.37,496.39 L469.74,495.60 L470.12,494.74 L470.50,494.00 L470.76,493.50 L470.97,493.01 L471.18,492.52 L471.44,492.00 L471.83,491.43 L472.40,490.80 L472.74,490.48 L473.12,490.13 L473.54,489.76 L473.99,489.38 L474.48,488.98 L474.98,488.58 L475.50,488.18 L476.03,487.77 L476.56,487.37 L477.09,486.98 L477.61,486.60 L478.11,486.24 L478.60,485.90 L479.16,485.52 L479.71,485.16 L480.27,484.82 L480.82,484.50 L481.37,484.18 L481.93,483.86 L482.48,483.55 L483.03,483.23 L483.59,482.90 L484.14,482.56 L484.70,482.20 L485.22,481.87 L485.75,481.53 L486.28,481.21 L486.82,480.87 L487.36,480.54 L487.90,480.19 L488.43,479.84 L488.96,479.47 L489.47,479.09 L489.96,478.68 L490.44,478.25 L490.90,477.80 L491.31,477.36 L491.71,476.90 L492.10,476.43 L492.49,475.94 L492.86,475.44 L493.22,474.93 L493.57,474.40 L493.91,473.86 L494.24,473.30 L494.55,472.74 L494.85,472.17 L495.13,471.59 L495.40,471.00 L495.63,470.46 L495.84,469.94 L496.04,469.43 L496.23,468.93 L496.40,468.42 L496.56,467.90 L496.71,467.36 L496.85,466.80 L496.98,466.19 L497.11,465.55 L497.24,464.86 L497.36,464.11 L497.48,463.29 L497.60,462.40 L497.66,461.94 L497.71,461.47 L497.77,460.98 L497.82,460.47 L497.87,459.95 L497.92,459.42 L497.97,458.87 L498.02,458.31 L498.06,457.74 L498.11,457.15 L498.15,456.56 L498.19,455.96 L498.23,455.34 L498.27,454.72 L498.31,454.10 L498.35,453.47 L498.39,452.83 L498.43,452.18 L498.46,451.54 L498.50,450.88 L498.53,450.23 L498.57,449.58 L498.60,448.92 L498.63,448.26 L498.67,447.61 L498.70,446.95 L498.73,446.30 L498.77,445.65 L498.80,445.00 L498.83,444.43 L498.86,443.85 L498.88,443.27 L498.91,442.68 L498.94,442.08 L498.96,441.48 L498.98,440.88 L499.01,440.27 L499.03,439.65 L499.06,439.03 L499.08,438.41 L499.10,437.79 L499.12,437.17 L499.14,436.54 L499.16,435.92 L499.18,435.29 L499.20,434.66 L499.22,434.03 L499.24,433.41 L499.26,432.78 L499.28,432.16 L499.30,431.54 L499.32,430.92 L499.34,430.31 L499.36,429.70 L499.37,429.09 L499.39,428.49 L499.41,427.89 L499.43,427.30 L499.45,426.72 L499.46,426.14 L499.48,425.56 L499.50,425.00 L499.52,424.34 L499.54,423.67 L499.56,423.00 L499.58,422.34 L499.60,421.67 L499.62,421.00 L499.64,420.33 L499.66,419.66 L499.68,419.00 L499.70,418.34 L499.72,417.68 L499.73,417.03 L499.75,416.39 L499.77,415.75 L499.79,415.12 L499.80,414.50 L499.82,413.89 L499.84,413.28 L499.85,412.69 L499.87,412.11 L499.89,411.55 L499.90,410.99 L499.92,410.45 L499.94,409.93 L499.95,409.42 L499.97,408.93 L499.98,408.46 L500.00,408.00 L500.03,407.07 L500.07,406.22 L500.10,405.42 L500.12,404.68 L500.15,404.00 L500.18,403.37 L500.21,402.79 L500.24,402.24 L500.27,401.74 L500.30,401.27 L500.33,400.82 L500.36,400.40 L500.40,400.00 L500.58,398.71 L500.78,398.07 L501.00,397.80 L501.39,397.26 L501.80,399.00 L501.83,399.35 L501.86,399.73 L501.89,400.15 L501.91,400.60 L501.94,401.07 L501.97,401.58 L502.00,402.11 L502.02,402.67 L502.05,403.25 L502.08,403.85 L502.10,404.47 L502.13,405.11 L502.16,405.76 L502.18,406.43 L502.21,407.11 L502.24,407.81 L502.26,408.51 L502.29,409.22 L502.31,409.94 L502.34,410.66 L502.37,411.39 L502.39,412.11 L502.42,412.84 L502.45,413.56 L502.47,414.29 L502.50,415.00 L502.52,415.52 L502.54,416.04 L502.56,416.56 L502.58,417.06 L502.60,417.57 L502.62,418.07 L502.63,418.57 L502.65,419.06 L502.67,419.56 L502.69,420.06 L502.71,420.57 L502.72,421.07 L502.74,421.58 L502.76,422.10 L502.78,422.62 L502.80,423.15 L502.82,423.69 L502.83,424.24 L502.85,424.80 L502.87,425.37 L502.89,425.95 L502.91,426.55 L502.93,427.16 L502.95,427.78 L502.97,428.43 L502.99,429.09 L503.01,429.77 L503.03,430.47 L503.06,431.19 L503.08,431.93 L503.10,432.69 L503.13,433.48 L503.15,434.29 L503.17,435.13 L503.20,436.00 L503.21,436.47 L503.23,436.94 L503.24,437.44 L503.26,437.94 L503.27,438.45 L503.28,438.98 L503.30,439.51 L503.31,440.06 L503.33,440.62 L503.34,441.18 L503.36,441.76 L503.37,442.34 L503.39,442.93 L503.40,443.53 L503.42,444.14 L503.44,444.76 L503.45,445.38 L503.47,446.01 L503.48,446.64 L503.50,447.28 L503.52,447.92 L503.53,448.57 L503.55,449.23 L503.56,449.89 L503.58,450.55 L503.60,451.22 L503.61,451.88 L503.63,452.56 L503.65,453.23 L503.67,453.90 L503.68,454.58 L503.70,455.26 L503.72,455.94 L503.73,456.61 L503.75,457.29 L503.77,457.97 L503.79,458.65 L503.80,459.32 L503.82,460.00 L503.84,460.67 L503.85,461.34 L503.87,462.00 L503.89,462.67 L503.91,463.33 L503.92,463.98 L503.94,464.63 L503.96,465.28 L503.98,465.92 L503.99,466.55 L504.01,467.18 L504.03,467.81 L504.05,468.42 L504.06,469.03 L504.08,469.64 L504.10,470.23 L504.11,470.81 L504.13,471.39 L504.15,471.96 L504.17,472.52 L504.18,473.07 L504.20,473.61 L504.22,474.13 L504.23,474.65 L504.25,475.16 L504.27,475.65 L504.28,476.13 L504.30,476.60 L504.33,477.47 L504.36,478.32 L504.39,479.14 L504.43,479.93 L504.46,480.70 L504.49,481.45 L504.52,482.18 L504.55,482.89 L504.58,483.57 L504.61,484.24 L504.65,484.89 L504.68,485.53 L504.71,486.15 L504.74,486.75 L504.77,487.35 L504.80,487.93 L504.83,488.49 L504.87,489.05 L504.90,489.60 L504.93,490.14 L504.96,490.68 L504.99,491.21 L505.02,491.73 L505.05,492.25 L505.09,492.77 L505.12,493.28 L505.15,493.79 L505.18,494.31 L505.21,494.82 L505.24,495.34 L505.27,495.86 L505.31,496.39 L505.34,496.92 L505.37,497.46 L505.40,498.00 L505.44,498.68 L505.48,499.35 L505.52,500.02 L505.56,500.68 L505.60,501.33 L505.64,501.97 L505.68,502.61 L505.71,503.24 L505.75,503.86 L505.79,504.48 L505.83,505.09 L505.87,505.70 L505.91,506.30 L505.95,506.90 L505.99,507.49 L506.03,508.09 L506.07,508.67 L506.11,509.26 L506.15,509.84 L506.19,510.42 L506.23,510.99 L506.26,511.57 L506.30,512.14 L506.34,512.71 L506.38,513.29 L506.42,513.86 L506.46,514.43 L506.50,515.00 L506.54,515.64 L506.59,516.30 L506.63,516.96 L506.68,517.62 L506.72,518.28 L506.77,518.95 L506.82,519.62 L506.86,520.29 L506.91,520.95 L506.95,521.61 L507.00,522.27 L507.05,522.92 L507.09,523.56 L507.14,524.18 L507.18,524.80 L507.23,525.41 L507.27,525.99 L507.31,526.57 L507.36,527.12 L507.40,527.66 L507.44,528.17 L507.48,528.67 L507.52,529.14 L507.56,529.58 L507.60,530.00 L507.71,531.20 L507.82,532.28 L507.92,533.21 L508.01,533.99 L508.11,534.59 L508.20,535.00 L508.30,535.21 L508.40,535.20 L508.47,535.07 L508.54,534.84 L508.62,534.53 L508.69,534.12 L508.76,533.63 L508.84,533.05 L508.91,532.39 L508.99,531.66 L509.07,530.85 L509.14,529.97 L509.22,529.02 L509.30,528.00 L509.33,527.56 L509.36,527.09 L509.39,526.59 L509.42,526.05 L509.45,525.49 L509.48,524.91 L509.51,524.30 L509.54,523.67 L509.57,523.03 L509.60,522.37 L509.63,521.70 L509.66,521.03 L509.69,520.34 L509.73,519.65 L509.76,518.96 L509.79,518.26 L509.82,517.57 L509.85,516.89 L509.88,516.21 L509.92,515.55 L509.95,514.89 L509.99,514.26 L510.02,513.64 L510.06,513.04 L510.10,512.46 L510.14,511.91 L510.18,511.38 L510.22,510.89 L510.26,510.43 L510.30,510.00 L510.41,508.97 L510.52,508.09 L510.63,507.34 L510.75,506.70 L510.86,506.14 L510.99,505.66 L511.13,505.22 L511.29,504.80 L511.47,504.39 L511.67,503.97 L511.90,503.50 L512.21,503.00 L512.55,502.38 L512.92,501.99 L513.31,501.50 L513.73,500.83 L514.18,500.54 L514.66,499.85 L515.16,499.69 L515.70,499.23 L516.12,498.61 L516.56,498.48 L517.01,497.98 L517.49,497.88 L517.97,497.77 L518.48,497.33 L518.99,496.46 L519.53,496.45 L520.07,496.13 L520.64,496.08 L521.21,495.35 L521.80,494.90 L522.31,494.85 L522.83,494.63 L523.35,494.79 L523.88,494.66 L524.42,494.28 L524.97,494.20 L525.54,493.80 L526.12,493.49 L526.71,493.43 L527.33,493.46 L527.96,493.06 L528.62,493.24 L529.30,492.85 L530.00,492.51 L530.50,492.58 L531.00,492.74 L531.49,492.30 L531.98,492.12 L532.48,492.15 L532.98,492.38 L533.49,492.20 L534.01,492.04 L534.55,491.59 L535.09,491.72 L535.66,491.69 L536.24,491.33 L536.85,491.37 L537.48,491.02 L538.14,491.45 L538.82,491.23 L539.54,491.11 L540.29,491.13 L541.07,491.01 L541.90,490.60 L542.38,490.72 L542.87,490.31 L543.37,490.66 L543.89,490.40 L544.43,490.45 L544.97,490.65 L545.53,490.18 L546.09,490.00 L546.67,490.44 L547.26,490.00 L547.85,490.44 L548.46,490.46 L549.07,489.74 L549.69,489.97 L550.32,490.30 L550.95,490.02 L551.58,489.93 L552.23,489.40 L552.87,489.58 L553.52,489.92 L554.17,489.11 L554.82,489.69 L555.48,489.30 L556.13,489.19 L556.78,489.70 L557.44,489.22 L558.09,489.27 L558.74,489.77 L559.39,489.03 L560.03,489.63 L560.68,488.95 L561.31,489.14 L561.94,488.52 L562.57,489.47 L563.19,488.95 L563.80,488.90 L564.41,489.40 L565.02,488.78 L565.62,488.22 L566.23,488.50 L566.84,488.12 L567.45,488.06 L568.06,489.06 L568.67,489.02 L569.27,488.91 L569.88,488.78 L570.49,488.40 L571.10,488.59 L571.71,488.23 L572.32,488.60 L572.92,488.81 L573.53,488.28 L574.14,488.05 L574.75,488.09 L575.36,487.91 L575.97,488.85 L576.58,488.80 L577.18,488.04 L577.79,487.65 L578.40,488.16 L579.01,488.56 L579.62,487.90 L580.23,488.51 L580.83,487.99 L581.44,487.65 L582.05,488.52 L582.66,488.45 L583.27,487.93 L583.88,488.35 L584.48,487.77 L585.09,488.40 L585.70,488.28 L586.31,488.12 L586.92,487.67 L587.52,488.14 L588.13,487.55 L588.74,488.66 L589.35,488.10 L589.96,488.35 L590.57,487.21 L591.18,487.18 L591.78,487.53 L592.39,487.32 L593.00,487.61 L593.61,488.01 L594.22,488.34 L594.82,487.22 L595.43,488.07 L596.04,487.20 L596.65,488.22 L597.26,488.51 L597.87,488.26 L598.48,487.59 L599.08,487.52 L599.69,488.19 L600.30,488.50 L600.91,487.17 L601.52,487.30 L602.12,488.46 L602.73,488.39 L603.34,487.33 L603.95,487.10 L604.56,486.86 L605.17,487.29 L605.78,488.43 L606.38,488.00 L606.99,487.17 L607.60,487.06 L608.20,486.93 L608.80,487.49 L609.38,487.04 L609.96,486.93 L610.53,487.82 L611.10,487.10 L611.66,486.73 L612.22,486.74 L612.77,488.28 L613.32,488.20 L613.87,486.82 L614.41,488.67 L614.96,488.66 L615.51,486.86 L616.06,488.55 L616.61,486.83 L617.17,487.12 L617.73,486.95 L618.30,487.86 L618.87,488.19 L619.45,487.26 L620.03,487.99 L620.63,488.51 L621.23,486.96 L621.84,487.04 L622.47,488.43 L623.10,486.83 L623.75,487.33 L624.42,487.33 L625.09,488.07 L625.78,486.82 L626.49,486.68 L627.22,488.07 L627.96,488.50 L628.72,486.98 L629.50,488.17 L630.00,487.33 L630.52,488.71 L631.05,488.49 L631.60,488.40 L632.16,487.46 L632.74,487.91 L633.34,489.24 L633.94,488.24 L634.56,488.54 L635.19,488.83 L635.83,487.67 L636.48,487.62 L637.14,489.32 L637.81,488.82 L638.49,487.44 L639.17,488.23 L639.86,487.78 L640.56,488.66 L641.26,488.77 L641.96,489.27 L642.67,488.57 L643.38,487.39 L644.09,488.31 L644.81,487.32 L645.52,488.19 L646.24,488.17 L646.95,488.03 L647.66,487.72 L648.37,487.47 L649.07,487.74 L649.78,488.86 L650.47,487.64 L651.16,488.39 L651.85,489.82 L652.53,490.01 L653.20,489.45 L653.86,488.74 L654.51,488.87 L655.15,488.62 L655.79,489.76 L656.41,488.62 L657.02,487.40 L657.61,489.71 L658.19,488.02 L658.76,489.88 L659.31,490.02 L659.85,488.26 L660.37,488.01 L660.87,489.81 L661.36,490.08 L661.82,488.93 L662.27,487.66 L662.70,488.75 L663.10,490.14 L663.49,488.59 L663.85,489.30 L664.19,490.13 L664.50,488.90" fill="none" stroke="#394a93" stroke-width="2.0" stroke-linejoin="round"/>
<path d="M466.20,482.20 L466.43,482.51 L466.73,482.93 L467.07,483.43 L467.45,483.99 L467.88,484.57 L468.34,485.14 L468.84,485.67 L469.36,486.13 L469.90,486.50 L470.41,486.76 L470.94,486.99 L471.50,487.18 L472.08,487.35 L472.69,487.48 L473.33,487.58 L473.98,487.66 L474.67,487.70 L475.37,487.72 L476.10,487.70 L476.64,487.67 L477.20,487.64 L477.78,487.59 L478.38,487.53 L478.99,487.46 L479.61,487.37 L480.24,487.26 L480.88,487.14 L481.52,486.99 L482.17,486.82 L482.81,486.63 L483.45,486.41 L484.08,486.17 L484.70,485.90 L485.22,485.66 L485.75,485.39 L486.30,485.11 L486.86,484.82 L487.42,484.51 L487.98,484.18 L488.55,483.84 L489.11,483.48 L489.66,483.11 L490.20,482.72 L490.73,482.32 L491.24,481.91 L491.73,481.49 L492.19,481.06 L492.63,480.62 L493.03,480.16 L493.40,479.70 L493.73,479.23 L494.04,478.75 L494.31,478.27 L494.56,477.77 L494.79,477.27 L495.00,476.75 L495.18,476.22 L495.36,475.68 L495.52,475.12 L495.66,474.55 L495.80,473.96 L495.94,473.35 L496.07,472.72 L496.20,472.07 L496.33,471.41 L496.46,470.71 L496.60,470.00 L496.70,469.50 L496.79,469.00 L496.88,468.50 L496.96,467.99 L497.05,467.47 L497.13,466.94 L497.20,466.41 L497.28,465.87 L497.35,465.32 L497.42,464.77 L497.49,464.20 L497.56,463.62 L497.62,463.04 L497.68,462.44 L497.74,461.83 L497.80,461.21 L497.86,460.58 L497.92,459.93 L497.97,459.27 L498.03,458.60 L498.08,457.91 L498.14,457.21 L498.19,456.49 L498.25,455.75 L498.30,455.00 L498.34,454.49 L498.37,453.97 L498.40,453.44 L498.44,452.90 L498.47,452.35 L498.50,451.78 L498.53,451.21 L498.56,450.63 L498.59,450.04 L498.62,449.44 L498.65,448.84 L498.68,448.23 L498.71,447.61 L498.74,446.99 L498.76,446.36 L498.79,445.73 L498.82,445.09 L498.84,444.45 L498.87,443.81 L498.89,443.17 L498.92,442.53 L498.94,441.88 L498.97,441.24 L498.99,440.60 L499.01,439.95 L499.04,439.31 L499.06,438.68 L499.08,438.04 L499.11,437.41 L499.13,436.79 L499.15,436.16 L499.17,435.55 L499.19,434.94 L499.22,434.33 L499.24,433.74 L499.26,433.15 L499.28,432.57 L499.30,432.00 L499.32,431.35 L499.35,430.69 L499.37,430.04 L499.39,429.38 L499.41,428.73 L499.43,428.07 L499.46,427.42 L499.48,426.76 L499.50,426.11 L499.51,425.46 L499.53,424.81 L499.55,424.17 L499.57,423.53 L499.59,422.89 L499.61,422.26 L499.62,421.63 L499.64,421.00 L499.66,420.38 L499.67,419.77 L499.69,419.16 L499.71,418.56 L499.72,417.96 L499.74,417.38 L499.75,416.80 L499.77,416.23 L499.79,415.66 L499.80,415.11 L499.82,414.56 L499.83,414.03 L499.85,413.51 L499.87,412.99 L499.88,412.49 L499.90,412.00 L499.93,411.21 L499.95,410.43 L499.98,409.67 L500.00,408.93 L500.02,408.21 L500.05,407.50 L500.07,406.82 L500.09,406.15 L500.12,405.51 L500.14,404.89 L500.16,404.29 L500.18,403.71 L500.21,403.16 L500.23,402.63 L500.26,402.12 L500.28,401.64 L500.31,401.19 L500.34,400.77 L500.37,400.37 L500.40,400.00 L500.64,398.40 L500.91,397.88 L501.20,397.80 L501.52,397.57 L501.87,397.77 L502.20,399.50 L502.24,399.86 L502.28,400.26 L502.31,400.68 L502.35,401.14 L502.39,401.63 L502.43,402.14 L502.46,402.68 L502.50,403.25 L502.54,403.83 L502.57,404.44 L502.61,405.07 L502.64,405.71 L502.68,406.38 L502.72,407.05 L502.75,407.74 L502.79,408.44 L502.82,409.15 L502.86,409.87 L502.89,410.60 L502.93,411.33 L502.96,412.06 L503.00,412.80 L503.03,413.53 L503.07,414.27 L503.10,415.00 L503.12,415.52 L503.15,416.03 L503.17,416.54 L503.19,417.04 L503.21,417.54 L503.24,418.04 L503.26,418.53 L503.28,419.03 L503.30,419.53 L503.32,420.03 L503.34,420.53 L503.36,421.04 L503.38,421.55 L503.40,422.06 L503.42,422.59 L503.44,423.12 L503.46,423.66 L503.48,424.21 L503.50,424.77 L503.52,425.34 L503.54,425.92 L503.56,426.52 L503.59,427.14 L503.61,427.77 L503.63,428.41 L503.65,429.07 L503.68,429.76 L503.70,430.46 L503.73,431.18 L503.76,431.92 L503.78,432.69 L503.81,433.48 L503.84,434.29 L503.87,435.13 L503.90,436.00 L503.92,436.47 L503.93,436.94 L503.95,437.43 L503.97,437.94 L503.99,438.45 L504.00,438.97 L504.02,439.50 L504.04,440.05 L504.06,440.60 L504.08,441.16 L504.10,441.74 L504.12,442.32 L504.14,442.90 L504.16,443.50 L504.18,444.10 L504.20,444.71 L504.22,445.33 L504.24,445.95 L504.26,446.58 L504.28,447.22 L504.30,447.86 L504.32,448.50 L504.34,449.15 L504.37,449.81 L504.39,450.46 L504.41,451.12 L504.43,451.79 L504.45,452.45 L504.47,453.12 L504.50,453.79 L504.52,454.47 L504.54,455.14 L504.56,455.81 L504.59,456.49 L504.61,457.16 L504.63,457.84 L504.65,458.51 L504.68,459.18 L504.70,459.85 L504.72,460.52 L504.74,461.19 L504.77,461.86 L504.79,462.52 L504.81,463.18 L504.83,463.83 L504.86,464.48 L504.88,465.13 L504.90,465.77 L504.92,466.41 L504.94,467.04 L504.97,467.67 L504.99,468.29 L505.01,468.90 L505.03,469.51 L505.05,470.11 L505.07,470.70 L505.10,471.28 L505.12,471.86 L505.14,472.43 L505.16,472.98 L505.18,473.53 L505.20,474.07 L505.22,474.60 L505.24,475.11 L505.26,475.62 L505.28,476.12 L505.30,476.60 L505.33,477.41 L505.37,478.20 L505.40,478.98 L505.43,479.74 L505.47,480.48 L505.50,481.21 L505.53,481.92 L505.56,482.62 L505.60,483.31 L505.63,483.98 L505.66,484.63 L505.69,485.28 L505.73,485.91 L505.76,486.53 L505.79,487.14 L505.82,487.74 L505.85,488.34 L505.88,488.92 L505.92,489.49 L505.95,490.06 L505.98,490.61 L506.01,491.17 L506.04,491.71 L506.07,492.25 L506.10,492.78 L506.13,493.31 L506.16,493.84 L506.19,494.36 L506.22,494.87 L506.25,495.39 L506.28,495.90 L506.31,496.41 L506.33,496.92 L506.36,497.44 L506.39,497.95 L506.42,498.46 L506.45,498.97 L506.47,499.48 L506.50,500.00 L506.54,500.71 L506.57,501.42 L506.61,502.11 L506.65,502.78 L506.68,503.45 L506.71,504.10 L506.75,504.75 L506.78,505.38 L506.81,506.01 L506.85,506.63 L506.88,507.24 L506.91,507.84 L506.94,508.43 L506.98,509.02 L507.01,509.61 L507.04,510.19 L507.07,510.77 L507.10,511.34 L507.13,511.91 L507.16,512.48 L507.19,513.04 L507.22,513.60 L507.25,514.17 L507.28,514.73 L507.31,515.30 L507.34,515.86 L507.37,516.43 L507.40,517.00 L507.43,517.65 L507.47,518.30 L507.50,518.97 L507.53,519.64 L507.57,520.32 L507.60,521.00 L507.63,521.68 L507.67,522.36 L507.70,523.04 L507.73,523.71 L507.76,524.38 L507.80,525.04 L507.83,525.69 L507.86,526.32 L507.89,526.95 L507.92,527.55 L507.95,528.14 L507.99,528.71 L508.02,529.26 L508.05,529.79 L508.08,530.29 L508.11,530.76 L508.14,531.21 L508.17,531.62 L508.20,532.00 L508.34,533.53 L508.48,534.53 L508.61,535.09 L508.75,535.29 L508.90,535.20 L509.00,535.02 L509.11,534.73 L509.21,534.32 L509.33,533.77 L509.44,533.07 L509.56,532.22 L509.68,531.20 L509.80,530.00 L509.84,529.56 L509.88,529.08 L509.92,528.56 L509.95,527.99 L509.99,527.40 L510.03,526.78 L510.07,526.13 L510.10,525.45 L510.14,524.76 L510.18,524.06 L510.22,523.35 L510.26,522.63 L510.30,521.91 L510.34,521.19 L510.38,520.47 L510.42,519.77 L510.47,519.08 L510.51,518.40 L510.56,517.75 L510.61,517.12 L510.67,516.53 L510.72,515.96 L510.78,515.43 L510.84,514.94 L510.90,514.50 L511.07,513.44 L511.24,512.58 L511.41,511.87 L511.60,511.29 L511.81,510.91 L512.04,510.46 L512.31,509.69 L512.63,508.97 L513.00,508.50 L513.38,508.29 L513.81,508.12 L514.27,507.64 L514.77,507.07 L515.29,506.86 L515.84,506.01 L516.39,507.03 L516.96,505.13 L517.53,504.97 L518.10,505.34 L518.62,505.54 L519.17,504.29 L519.73,504.47 L520.29,503.37 L520.87,502.48 L521.45,504.43 L522.04,502.32 L522.62,503.55 L523.19,501.80 L523.75,502.09 L524.30,502.48 L524.92,503.26 L525.48,502.98 L526.01,501.67 L526.53,500.77 L527.07,502.35 L527.66,502.42 L528.33,502.78 L529.10,500.86 L530.00,501.82 L530.47,501.75 L530.94,502.31 L531.43,502.25 L531.92,502.00 L532.43,502.12 L532.96,500.21 L533.50,502.18 L534.06,501.38 L534.64,501.97 L535.24,500.11 L535.87,500.79 L536.52,501.74 L537.19,501.99 L537.90,501.05 L538.63,501.63 L539.40,499.35 L540.20,499.26 L541.03,499.59 L541.90,501.24 L542.38,500.94 L542.87,500.10 L543.37,501.33 L543.89,500.31 L544.43,499.15 L544.97,501.23 L545.53,500.84 L546.09,501.50 L546.67,500.93 L547.26,500.05 L547.85,501.06 L548.46,498.90 L549.07,498.28 L549.69,498.93 L550.32,501.01 L550.95,498.60 L551.58,500.34 L552.23,499.82 L552.87,498.49 L553.52,498.55 L554.17,500.10 L554.82,499.20 L555.48,500.62 L556.13,498.11 L556.78,499.49 L557.44,500.48 L558.09,498.58 L558.74,498.47 L559.39,499.41 L560.03,498.14 L560.68,499.55 L561.31,500.58 L561.94,498.64 L562.57,497.91 L563.19,500.20 L563.80,497.59 L564.41,500.04 L565.02,498.77 L565.62,499.93 L566.23,498.54 L566.84,500.42 L567.45,499.52 L568.06,499.19 L568.67,497.27 L569.27,498.86 L569.88,497.75 L570.49,499.33 L571.10,498.03 L571.71,497.54 L572.32,497.14 L572.92,497.48 L573.53,497.01 L574.14,497.50 L574.75,498.49 L575.36,499.78 L575.97,499.58 L576.58,497.96 L577.18,499.93 L577.79,497.90 L578.40,497.96 L579.01,498.40 L579.62,498.64 L580.23,498.22 L580.83,498.83 L581.44,497.02 L582.05,496.87 L582.66,497.33 L583.27,497.76 L583.88,497.03 L584.48,498.22 L585.09,496.29 L585.70,497.51 L586.31,497.76 L586.92,498.37 L587.52,496.49 L588.13,498.42 L588.74,497.79 L589.35,499.66 L589.96,496.50 L590.57,497.28 L591.18,498.98 L591.78,499.79 L592.39,499.33 L593.00,499.61 L593.61,497.66 L594.22,496.52 L594.82,496.53 L595.43,498.18 L596.04,498.45 L596.65,497.41 L597.26,496.24 L597.87,499.18 L598.48,496.99 L599.08,496.37 L599.69,498.99 L600.30,498.99 L600.91,498.51 L601.52,499.02 L602.12,498.26 L602.73,498.18 L603.34,497.09 L603.95,495.96 L604.56,499.39 L605.17,495.85 L605.78,498.64 L606.38,496.75 L606.99,498.62 L607.60,499.53 L608.20,499.07 L608.80,495.35 L609.38,499.09 L609.96,496.35 L610.53,496.24 L611.10,499.76 L611.66,499.42 L612.22,496.02 L612.77,499.11 L613.32,496.48 L613.87,498.06 L614.41,499.17 L614.96,495.55 L615.51,495.75 L616.06,495.49 L616.61,495.55 L617.17,499.45 L617.73,495.38 L618.30,496.44 L618.87,499.30 L619.45,495.32 L620.03,497.19 L620.63,499.34 L621.23,500.01 L621.84,499.61 L622.47,495.53 L623.10,495.05 L623.75,498.73 L624.42,497.61 L625.09,497.67 L625.78,498.71 L626.49,499.50 L627.22,496.74 L627.96,500.18 L628.72,496.93 L629.50,499.76 L630.00,495.67 L630.52,495.04 L631.05,498.10 L631.60,499.24 L632.16,498.73 L632.74,495.49 L633.34,500.04 L633.94,500.46 L634.56,500.41 L635.19,499.29 L635.83,495.21 L636.48,497.29 L637.14,496.03 L637.81,496.15 L638.49,497.61 L639.17,499.94 L639.86,498.96 L640.56,500.84 L641.26,497.36 L641.96,495.48 L642.67,499.48 L643.38,500.38 L644.09,498.25 L644.81,496.41 L645.52,498.67 L646.24,496.58 L646.95,497.25 L647.66,498.48 L648.37,499.43 L649.07,499.63 L649.78,495.73 L650.47,497.19 L651.16,498.03 L651.85,496.88 L652.53,495.25 L653.20,496.29 L653.86,497.51 L654.51,498.86 L655.15,501.20 L655.79,496.54 L656.41,498.38 L657.02,496.29 L657.61,495.59 L658.19,496.48 L658.76,497.48 L659.31,500.31 L659.85,497.15 L660.37,500.96 L660.87,500.27 L661.36,497.73 L661.82,500.59 L662.27,496.93 L662.70,494.89 L663.10,497.58 L663.49,498.93 L663.85,499.50 L664.19,495.13 L664.50,498.20" fill="none" stroke="#529c50" stroke-width="2.4" stroke-linejoin="round"/>
<path d="M501.60,400.00 C501.68,403.33 501.93,413.33 502.10,420.00 C502.27,426.67 502.37,430.57 502.60,440.00 C502.83,449.43 503.17,467.10 503.50,476.60 C503.83,486.10 504.27,491.27 504.60,497.00 C504.93,502.73 505.35,508.67 505.50,511.00" fill="none" stroke="#e3a33f" stroke-width="1.8" stroke-linejoin="round" stroke-linecap="butt"/>
<path d="M466.20,463.60 L466.27,464.37 L466.36,465.39 L466.46,466.61 L466.58,467.97 L466.71,469.40 L466.86,470.86 L467.02,472.26 L467.20,473.56 L467.40,474.70 L467.71,476.20 L468.05,477.61 L468.42,478.91 L468.84,480.11 L469.33,481.21 L469.90,482.20 L470.71,483.20 L471.62,484.02 L472.63,484.70 L473.70,485.30 L474.80,485.90 L475.96,486.52 L477.19,487.13 L478.46,487.66 L479.74,488.07 L481.00,488.30 L482.24,488.37 L483.48,488.32 L484.72,488.11 L485.96,487.72 L487.20,487.10 L488.11,486.50 L489.04,485.76 L489.99,484.92 L490.92,483.99 L491.81,482.99 L492.65,481.96 L493.40,480.90 L494.08,479.87 L494.71,478.87 L495.29,477.84 L495.81,476.72 L496.29,475.46 L496.72,474.01 L497.10,472.30 L497.27,471.34 L497.42,470.30 L497.55,469.20 L497.66,468.04 L497.77,466.83 L497.86,465.58 L497.94,464.30 L498.01,462.99 L498.08,461.66 L498.14,460.32 L498.20,458.98 L498.27,457.64 L498.33,456.31 L498.40,455.00 L498.46,453.79 L498.52,452.57 L498.58,451.34 L498.63,450.11 L498.68,448.87 L498.73,447.62 L498.77,446.36 L498.81,445.10 L498.86,443.83 L498.90,442.54 L498.94,441.25 L498.98,439.96 L499.02,438.65 L499.06,437.33 L499.10,436.00 L499.14,434.81 L499.18,433.58 L499.21,432.32 L499.25,431.05 L499.29,429.76 L499.32,428.45 L499.36,427.15 L499.39,425.84 L499.43,424.54 L499.47,423.25 L499.50,421.98 L499.53,420.72 L499.57,419.50 L499.60,418.31 L499.63,417.16 L499.67,416.06 L499.70,415.00 L499.75,413.42 L499.79,411.88 L499.84,410.38 L499.88,408.94 L499.92,407.55 L499.96,406.24 L500.01,405.00 L500.05,403.85 L500.10,402.79 L500.15,401.84 L500.20,401.00 L500.51,398.50 L500.90,397.80 L502.00,398.20 L502.13,398.93 L502.25,399.78 L502.37,400.76 L502.49,401.88 L502.62,403.16 L502.75,404.59 L502.89,406.20 L503.04,408.00 L503.20,410.00 L503.27,410.94 L503.35,411.95 L503.43,413.02 L503.51,414.15 L503.60,415.34 L503.69,416.57 L503.77,417.84 L503.86,419.14 L503.96,420.46 L504.05,421.81 L504.14,423.17 L504.23,424.53 L504.32,425.90 L504.41,427.25 L504.50,428.59 L504.59,429.92 L504.68,431.21 L504.76,432.48 L504.85,433.70 L504.92,434.88 L505.00,436.00 L505.10,437.41 L505.19,438.78 L505.28,440.11 L505.37,441.41 L505.46,442.67 L505.55,443.91 L505.64,445.13 L505.72,446.34 L505.80,447.53 L505.88,448.72 L505.95,449.91 L506.03,451.10 L506.10,452.30 L506.17,453.51 L506.24,454.74 L506.30,456.00 L506.36,457.19 L506.41,458.38 L506.46,459.56 L506.50,460.75 L506.55,461.93 L506.59,463.11 L506.63,464.30 L506.66,465.49 L506.70,466.69 L506.73,467.89 L506.77,469.10 L506.81,470.32 L506.84,471.55 L506.88,472.79 L506.92,474.04 L506.96,475.31 L507.00,476.60 L507.04,477.77 L507.08,478.98 L507.12,480.21 L507.16,481.45 L507.21,482.72 L507.25,484.00 L507.29,485.29 L507.33,486.58 L507.38,487.88 L507.42,489.17 L507.47,490.46 L507.51,491.73 L507.55,492.99 L507.59,494.23 L507.64,495.44 L507.68,496.63 L507.72,497.79 L507.76,498.92 L507.80,500.00 L507.85,501.42 L507.91,502.80 L507.96,504.14 L508.01,505.44 L508.07,506.71 L508.12,507.94 L508.17,509.15 L508.22,510.33 L508.27,511.49 L508.32,512.62 L508.37,513.74 L508.41,514.84 L508.46,515.92 L508.50,517.00 L508.56,518.50 L508.61,519.98 L508.66,521.43 L508.71,522.85 L508.76,524.22 L508.80,525.53 L508.85,526.78 L508.90,527.94 L508.95,529.02 L509.00,530.00 L509.14,532.14 L509.28,533.84 L509.43,535.00 L509.60,535.50 L509.84,534.99 L510.10,533.36 L510.40,531.00 L510.51,530.03 L510.62,528.88 L510.73,527.60 L510.84,526.23 L510.96,524.84 L511.10,523.46 L511.24,522.14 L511.41,520.94 L511.60,519.90 L511.98,518.35 L512.39,517.05 L512.86,515.95 L513.39,514.96 L514.00,514.05 L514.86,512.96 L515.81,512.04 L516.89,511.36 L518.10,510.55 L519.21,509.84 L520.45,508.95 L521.76,508.21 L523.06,507.62 L524.30,506.98 L525.61,506.48 L526.79,506.05 L528.15,505.77 L530.00,505.28 L530.89,505.11 L531.82,505.02 L532.80,504.72 L533.83,504.45 L534.94,504.36 L536.12,504.06 L537.40,504.04 L538.78,503.73 L540.28,503.69 L541.90,503.44 L542.84,503.21 L543.77,503.18 L544.72,503.15 L545.67,503.01 L546.65,502.95 L547.65,502.78 L548.68,502.85 L549.75,502.55 L550.86,502.60 L552.02,502.29 L553.23,502.29 L554.51,502.06 L555.85,501.95 L557.27,502.00 L558.77,502.06 L560.35,501.79 L562.03,501.66 L563.80,501.58 L564.72,501.58 L565.67,501.44 L566.64,501.35 L567.63,501.48 L568.65,501.36 L569.68,501.19 L570.74,501.28 L571.81,501.34 L572.90,501.07 L574.02,500.76 L575.15,500.74 L576.29,500.95 L577.46,500.64 L578.64,500.50 L579.83,500.68 L581.05,500.38 L582.27,500.57 L583.51,500.29 L584.77,500.24 L586.03,500.27 L587.31,500.00 L588.60,500.19 L589.91,500.04 L591.22,500.12 L592.54,500.10 L593.87,499.70 L595.22,499.92 L596.57,499.96 L597.92,499.62 L599.29,499.67 L600.66,499.44 L602.04,499.52 L603.42,499.64 L604.81,499.44 L606.20,499.44 L607.60,499.19 L608.69,499.53 L609.82,499.48 L610.97,499.57 L612.16,499.14 L613.38,499.40 L614.63,499.07 L615.90,499.25 L617.20,499.09 L618.52,499.46 L619.86,499.07 L621.21,499.17 L622.58,499.20 L623.96,499.15 L625.36,498.92 L626.76,499.25 L628.17,499.56 L629.59,499.24 L631.01,499.51 L632.43,499.21 L633.85,499.08 L635.27,499.17 L636.68,499.56 L638.09,499.55 L639.48,499.45 L640.87,498.99 L642.24,499.16 L643.60,498.89 L644.94,498.85 L646.26,499.07 L647.56,499.05 L648.84,498.93 L650.10,499.22 L651.32,499.52 L652.52,499.73 L653.68,499.79 L654.81,499.43 L655.91,499.13 L656.97,499.67 L657.99,499.40 L658.97,499.26 L659.91,499.61 L660.80,499.51 L661.64,499.80 L662.43,499.68 L663.18,499.85 L663.87,499.25 L664.50,499.40" fill="none" stroke="#51458f" stroke-width="2.0" stroke-linejoin="round"/>
<path d="M464.9,42.5 L464.9,197.0 L666,197.0" fill="none" stroke="#000" stroke-width="2"/>
<line x1="465" y1="197.00" x2="468.5" y2="197.00" stroke="#000" stroke-width="1.6"/>
<line x1="465" y1="167.80" x2="468.5" y2="167.80" stroke="#000" stroke-width="1.6"/>
<line x1="465" y1="138.60" x2="468.5" y2="138.60" stroke="#000" stroke-width="1.6"/>
<line x1="465" y1="109.40" x2="468.5" y2="109.40" stroke="#000" stroke-width="1.6"/>
<line x1="465" y1="80.20" x2="468.5" y2="80.20" stroke="#000" stroke-width="1.6"/>
<line x1="465" y1="51.00" x2="468.5" y2="51.00" stroke="#000" stroke-width="1.6"/>
<line x1="509.97" y1="197.0" x2="509.97" y2="193.5" stroke="#000" stroke-width="1.6"/>
<line x1="554.64" y1="197.0" x2="554.64" y2="193.5" stroke="#000" stroke-width="1.6"/>
<line x1="599.31" y1="197.0" x2="599.31" y2="193.5" stroke="#000" stroke-width="1.6"/>
<line x1="643.98" y1="197.0" x2="643.98" y2="193.5" stroke="#000" stroke-width="1.6"/>
<text x="444.46" y="201.00" font-size="11.8" textLength="17.38" lengthAdjust="spacingAndGlyphs" font-family="'Liberation Sans', Arial, sans-serif" fill="#222" stroke="#222" stroke-width="0.22">0.0</text>
<text x="444.46" y="171.80" font-size="11.8" textLength="17.53" lengthAdjust="spacingAndGlyphs" font-family="'Liberation Sans', Arial, sans-serif" fill="#222" stroke="#222" stroke-width="0.22">0.2</text>
<text x="444.47" y="142.60" font-size="11.8" textLength="17.25" lengthAdjust="spacingAndGlyphs" font-family="'Liberation Sans', Arial, sans-serif" fill="#222" stroke="#222" stroke-width="0.22">0.4</text>
<text x="444.46" y="113.40" font-size="11.8" textLength="17.44" lengthAdjust="spacingAndGlyphs" font-family="'Liberation Sans', Arial, sans-serif" fill="#222" stroke="#222" stroke-width="0.22">0.6</text>
<text x="444.46" y="84.20" font-size="11.8" textLength="17.43" lengthAdjust="spacingAndGlyphs" font-family="'Liberation Sans', Arial, sans-serif" fill="#222" stroke="#222" stroke-width="0.22">0.8</text>
<text x="443.97" y="55.00" font-size="11.8" textLength="17.88" lengthAdjust="spacingAndGlyphs" font-family="'Liberation Sans', Arial, sans-serif" fill="#222" stroke="#222" stroke-width="0.22">1.0</text>
<text x="462.10" y="210.80" font-size="11.8" textLength="6.40" lengthAdjust="spacingAndGlyphs" font-family="'Liberation Sans', Arial, sans-serif" fill="#222" stroke="#222" stroke-width="0.22">0</text>
<text x="495.04" y="210.80" font-size="11.8" textLength="28.58" lengthAdjust="spacingAndGlyphs" font-family="'Liberation Sans', Arial, sans-serif" fill="#222" stroke="#222" stroke-width="0.22">1000</text>
<text x="540.05" y="210.80" font-size="11.8" textLength="28.23" lengthAdjust="spacingAndGlyphs" font-family="'Liberation Sans', Arial, sans-serif" fill="#222" stroke="#222" stroke-width="0.22">2000</text>
<text x="584.88" y="210.80" font-size="11.8" textLength="28.07" lengthAdjust="spacingAndGlyphs" font-family="'Liberation Sans', Arial, sans-serif" fill="#222" stroke="#222" stroke-width="0.22">3000</text>
<text x="629.74" y="210.80" font-size="11.8" textLength="27.88" lengthAdjust="spacingAndGlyphs" font-family="'Liberation Sans', Arial, sans-serif" fill="#222" stroke="#222" stroke-width="0.22">4000</text>
<text x="518.80" y="232.90" font-size="12.2" textLength="95.65" lengthAdjust="spacingAndGlyphs" font-family="'Liberation Sans', Arial, sans-serif" fill="#222" stroke="#222" stroke-width="0.22">Wavenumber (cm</text>
<text x="615.02" y="225.90" font-size="8.2" textLength="4.58" lengthAdjust="spacingAndGlyphs" font-family="'Liberation Sans', Arial, sans-serif" fill="#222" stroke="#222" stroke-width="0.12">-1</text>
<text x="623.69" y="232.90" font-size="12.2" textLength="3.39" lengthAdjust="spacingAndGlyphs" font-family="'Liberation Sans', Arial, sans-serif" fill="#222" stroke="#222" stroke-width="0.22">)</text>
<path d="M464.9,386.0 L464.9,536.6 L666,536.6" fill="none" stroke="#000" stroke-width="2"/>
<line x1="465" y1="536.60" x2="468.5" y2="536.60" stroke="#000" stroke-width="1.6"/>
<line x1="465" y1="508.28" x2="468.5" y2="508.28" stroke="#000" stroke-width="1.6"/>
<line x1="465" y1="479.96" x2="468.5" y2="479.96" stroke="#000" stroke-width="1.6"/>
<line x1="465" y1="451.64" x2="468.5" y2="451.64" stroke="#000" stroke-width="1.6"/>
<line x1="465" y1="423.32" x2="468.5" y2="423.32" stroke="#000" stroke-width="1.6"/>
<line x1="465" y1="395.00" x2="468.5" y2="395.00" stroke="#000" stroke-width="1.6"/>
<line x1="509.97" y1="536.6" x2="509.97" y2="533.1" stroke="#000" stroke-width="1.6"/>
<line x1="554.64" y1="536.6" x2="554.64" y2="533.1" stroke="#000" stroke-width="1.6"/>
<line x1="599.31" y1="536.6" x2="599.31" y2="533.1" stroke="#000" stroke-width="1.6"/>
<line x1="643.98" y1="536.6" x2="643.98" y2="533.1" stroke="#000" stroke-width="1.6"/>
<text x="444.46" y="540.60" font-size="11.8" textLength="17.38" lengthAdjust="spacingAndGlyphs" font-family="'Liberation Sans', Arial, sans-serif" fill="#222" stroke="#222" stroke-width="0.22">0.0</text>
<text x="444.46" y="512.28" font-size="11.8" textLength="17.53" lengthAdjust="spacingAndGlyphs" font-family="'Liberation Sans', Arial, sans-serif" fill="#222" stroke="#222" stroke-width="0.22">0.2</text>
<text x="444.47" y="483.96" font-size="11.8" textLength="17.25" lengthAdjust="spacingAndGlyphs" font-family="'Liberation Sans', Arial, sans-serif" fill="#222" stroke="#222" stroke-width="0.22">0.4</text>
<text x="444.46" y="455.64" font-size="11.8" textLength="17.44" lengthAdjust="spacingAndGlyphs" font-family="'Liberation Sans', Arial, sans-serif" fill="#222" stroke="#222" stroke-width="0.22">0.6</text>
<text x="444.46" y="427.32" font-size="11.8" textLength="17.43" lengthAdjust="spacingAndGlyphs" font-family="'Liberation Sans', Arial, sans-serif" fill="#222" stroke="#222" stroke-width="0.22">0.8</text>
<text x="443.97" y="399.00" font-size="11.8" textLength="17.88" lengthAdjust="spacingAndGlyphs" font-family="'Liberation Sans', Arial, sans-serif" fill="#222" stroke="#222" stroke-width="0.22">1.0</text>
<text x="462.10" y="550.40" font-size="11.8" textLength="6.40" lengthAdjust="spacingAndGlyphs" font-family="'Liberation Sans', Arial, sans-serif" fill="#222" stroke="#222" stroke-width="0.22">0</text>
<text x="495.04" y="550.40" font-size="11.8" textLength="28.58" lengthAdjust="spacingAndGlyphs" font-family="'Liberation Sans', Arial, sans-serif" fill="#222" stroke="#222" stroke-width="0.22">1000</text>
<text x="540.05" y="550.40" font-size="11.8" textLength="28.23" lengthAdjust="spacingAndGlyphs" font-family="'Liberation Sans', Arial, sans-serif" fill="#222" stroke="#222" stroke-width="0.22">2000</text>
<text x="584.88" y="550.40" font-size="11.8" textLength="28.07" lengthAdjust="spacingAndGlyphs" font-family="'Liberation Sans', Arial, sans-serif" fill="#222" stroke="#222" stroke-width="0.22">3000</text>
<text x="629.74" y="550.40" font-size="11.8" textLength="27.88" lengthAdjust="spacingAndGlyphs" font-family="'Liberation Sans', Arial, sans-serif" fill="#222" stroke="#222" stroke-width="0.22">4000</text>
<text x="518.80" y="572.50" font-size="12.2" textLength="95.65" lengthAdjust="spacingAndGlyphs" font-family="'Liberation Sans', Arial, sans-serif" fill="#222" stroke="#222" stroke-width="0.22">Wavenumber (cm</text>
<text x="615.02" y="565.50" font-size="8.2" textLength="4.58" lengthAdjust="spacingAndGlyphs" font-family="'Liberation Sans', Arial, sans-serif" fill="#222" stroke="#222" stroke-width="0.12">-1</text>
<text x="623.69" y="572.50" font-size="12.2" textLength="3.39" lengthAdjust="spacingAndGlyphs" font-family="'Liberation Sans', Arial, sans-serif" fill="#222" stroke="#222" stroke-width="0.22">)</text>
<rect x="55.8" y="42.5" width="610.2" height="678.3" fill="none" stroke="#000" stroke-width="2.2"/>
<line x1="55.8" y1="386.0" x2="666.0" y2="386.0" stroke="#000" stroke-width="2.2"/>
<line x1="55.8" y1="386.00" x2="63.099999999999994" y2="386.00" stroke="#000" stroke-width="1.8"/>
<line x1="666.0" y1="386.00" x2="658.7" y2="386.00" stroke="#000" stroke-width="1.8"/>
<line x1="55.8" y1="720.80" x2="60.3" y2="720.80" stroke="#000" stroke-width="1.8"/>
<line x1="666.0" y1="720.80" x2="661.5" y2="720.80" stroke="#000" stroke-width="1.8"/>
<line x1="55.8" y1="320.58" x2="63.099999999999994" y2="320.58" stroke="#000" stroke-width="1.8"/>
<line x1="666.0" y1="320.58" x2="658.7" y2="320.58" stroke="#000" stroke-width="1.8"/>
<line x1="55.8" y1="657.10" x2="60.3" y2="657.10" stroke="#000" stroke-width="1.8"/>
<line x1="666.0" y1="657.10" x2="661.5" y2="657.10" stroke="#000" stroke-width="1.8"/>
<line x1="55.8" y1="255.16" x2="63.099999999999994" y2="255.16" stroke="#000" stroke-width="1.8"/>
<line x1="666.0" y1="255.16" x2="658.7" y2="255.16" stroke="#000" stroke-width="1.8"/>
<line x1="55.8" y1="593.40" x2="60.3" y2="593.40" stroke="#000" stroke-width="1.8"/>
<line x1="666.0" y1="593.40" x2="661.5" y2="593.40" stroke="#000" stroke-width="1.8"/>
<line x1="55.8" y1="189.74" x2="63.099999999999994" y2="189.74" stroke="#000" stroke-width="1.8"/>
<line x1="666.0" y1="189.74" x2="658.7" y2="189.74" stroke="#000" stroke-width="1.8"/>
<line x1="55.8" y1="529.70" x2="60.3" y2="529.70" stroke="#000" stroke-width="1.8"/>
<line x1="666.0" y1="529.70" x2="661.5" y2="529.70" stroke="#000" stroke-width="1.8"/>
<line x1="55.8" y1="124.32" x2="63.099999999999994" y2="124.32" stroke="#000" stroke-width="1.8"/>
<line x1="666.0" y1="124.32" x2="658.7" y2="124.32" stroke="#000" stroke-width="1.8"/>
<line x1="55.8" y1="466.00" x2="60.3" y2="466.00" stroke="#000" stroke-width="1.8"/>
<line x1="666.0" y1="466.00" x2="661.5" y2="466.00" stroke="#000" stroke-width="1.8"/>
<line x1="55.8" y1="58.90" x2="63.099999999999994" y2="58.90" stroke="#000" stroke-width="1.8"/>
<line x1="666.0" y1="58.90" x2="658.7" y2="58.90" stroke="#000" stroke-width="1.8"/>
<line x1="55.8" y1="402.30" x2="60.3" y2="402.30" stroke="#000" stroke-width="1.8"/>
<line x1="666.0" y1="402.30" x2="661.5" y2="402.30" stroke="#000" stroke-width="1.8"/>
<line x1="55.40" y1="720.8" x2="55.40" y2="716.1999999999999" stroke="#000" stroke-width="1.8"/>
<line x1="131.69" y1="720.8" x2="131.69" y2="716.1999999999999" stroke="#000" stroke-width="1.8"/>
<line x1="207.98" y1="720.8" x2="207.98" y2="716.1999999999999" stroke="#000" stroke-width="1.8"/>
<line x1="284.26" y1="720.8" x2="284.26" y2="716.1999999999999" stroke="#000" stroke-width="1.8"/>
<line x1="360.55" y1="720.8" x2="360.55" y2="716.1999999999999" stroke="#000" stroke-width="1.8"/>
<line x1="436.84" y1="720.8" x2="436.84" y2="716.1999999999999" stroke="#000" stroke-width="1.8"/>
<line x1="513.13" y1="720.8" x2="513.13" y2="716.1999999999999" stroke="#000" stroke-width="1.8"/>
<line x1="589.42" y1="720.8" x2="589.42" y2="716.1999999999999" stroke="#000" stroke-width="1.8"/>
<line x1="665.70" y1="720.8" x2="665.70" y2="716.1999999999999" stroke="#000" stroke-width="1.8"/>
<line x1="55.40" y1="42.5" x2="55.40" y2="47.1" stroke="#000" stroke-width="1.8"/>
<line x1="182.63" y1="42.5" x2="182.63" y2="47.1" stroke="#000" stroke-width="1.8"/>
<line x1="309.86" y1="42.5" x2="309.86" y2="47.1" stroke="#000" stroke-width="1.8"/>
<line x1="437.09" y1="42.5" x2="437.09" y2="47.1" stroke="#000" stroke-width="1.8"/>
<line x1="564.32" y1="42.5" x2="564.32" y2="47.1" stroke="#000" stroke-width="1.8"/>
<text x="32.20" y="385.40" font-size="13.5" textLength="19.60" lengthAdjust="spacingAndGlyphs" font-family="'Liberation Sans', Arial, sans-serif" fill="#1a1a1a" stroke="#1a1a1a" stroke-width="0.22">0.0</text>
<text x="32.20" y="721.30" font-size="13.5" textLength="19.60" lengthAdjust="spacingAndGlyphs" font-family="'Liberation Sans', Arial, sans-serif" fill="#1a1a1a" stroke="#1a1a1a" stroke-width="0.22">0.0</text>
<text x="32.19" y="324.98" font-size="13.5" textLength="19.77" lengthAdjust="spacingAndGlyphs" font-family="'Liberation Sans', Arial, sans-serif" fill="#1a1a1a" stroke="#1a1a1a" stroke-width="0.22">0.2</text>
<text x="32.19" y="661.50" font-size="13.5" textLength="19.77" lengthAdjust="spacingAndGlyphs" font-family="'Liberation Sans', Arial, sans-serif" fill="#1a1a1a" stroke="#1a1a1a" stroke-width="0.22">0.2</text>
<text x="32.20" y="259.56" font-size="13.5" textLength="19.46" lengthAdjust="spacingAndGlyphs" font-family="'Liberation Sans', Arial, sans-serif" fill="#1a1a1a" stroke="#1a1a1a" stroke-width="0.22">0.4</text>
<text x="32.20" y="597.80" font-size="13.5" textLength="19.46" lengthAdjust="spacingAndGlyphs" font-family="'Liberation Sans', Arial, sans-serif" fill="#1a1a1a" stroke="#1a1a1a" stroke-width="0.22">0.4</text>
<text x="32.20" y="194.14" font-size="13.5" textLength="19.67" lengthAdjust="spacingAndGlyphs" font-family="'Liberation Sans', Arial, sans-serif" fill="#1a1a1a" stroke="#1a1a1a" stroke-width="0.22">0.6</text>
<text x="32.20" y="534.10" font-size="13.5" textLength="19.67" lengthAdjust="spacingAndGlyphs" font-family="'Liberation Sans', Arial, sans-serif" fill="#1a1a1a" stroke="#1a1a1a" stroke-width="0.22">0.6</text>
<text x="32.20" y="128.72" font-size="13.5" textLength="19.67" lengthAdjust="spacingAndGlyphs" font-family="'Liberation Sans', Arial, sans-serif" fill="#1a1a1a" stroke="#1a1a1a" stroke-width="0.22">0.8</text>
<text x="32.20" y="470.40" font-size="13.5" textLength="19.67" lengthAdjust="spacingAndGlyphs" font-family="'Liberation Sans', Arial, sans-serif" fill="#1a1a1a" stroke="#1a1a1a" stroke-width="0.22">0.8</text>
<text x="32.92" y="63.30" font-size="13.5" textLength="18.86" lengthAdjust="spacingAndGlyphs" font-family="'Liberation Sans', Arial, sans-serif" fill="#1a1a1a" stroke="#1a1a1a" stroke-width="0.22">1.0</text>
<text x="32.92" y="405.70" font-size="13.5" textLength="18.86" lengthAdjust="spacingAndGlyphs" font-family="'Liberation Sans', Arial, sans-serif" fill="#1a1a1a" stroke="#1a1a1a" stroke-width="0.22">1.0</text>
<text x="51.47" y="737.30" font-size="13.8" textLength="8.26" lengthAdjust="spacingAndGlyphs" font-family="'Liberation Sans', Arial, sans-serif" fill="#1a1a1a" stroke="#1a1a1a" stroke-width="0.22">0</text>
<text x="118.49" y="737.30" font-size="13.8" textLength="26.63" lengthAdjust="spacingAndGlyphs" font-family="'Liberation Sans', Arial, sans-serif" fill="#1a1a1a" stroke="#1a1a1a" stroke-width="0.22">200</text>
<text x="195.22" y="737.30" font-size="13.8" textLength="26.17" lengthAdjust="spacingAndGlyphs" font-family="'Liberation Sans', Arial, sans-serif" fill="#1a1a1a" stroke="#1a1a1a" stroke-width="0.22">400</text>
<text x="271.05" y="737.30" font-size="13.8" textLength="26.63" lengthAdjust="spacingAndGlyphs" font-family="'Liberation Sans', Arial, sans-serif" fill="#1a1a1a" stroke="#1a1a1a" stroke-width="0.22">600</text>
<text x="347.46" y="737.30" font-size="13.8" textLength="26.51" lengthAdjust="spacingAndGlyphs" font-family="'Liberation Sans', Arial, sans-serif" fill="#1a1a1a" stroke="#1a1a1a" stroke-width="0.22">800</text>
<text x="419.72" y="737.30" font-size="13.8" textLength="34.06" lengthAdjust="spacingAndGlyphs" font-family="'Liberation Sans', Arial, sans-serif" fill="#1a1a1a" stroke="#1a1a1a" stroke-width="0.22">1000</text>
<text x="496.01" y="737.30" font-size="13.8" textLength="34.06" lengthAdjust="spacingAndGlyphs" font-family="'Liberation Sans', Arial, sans-serif" fill="#1a1a1a" stroke="#1a1a1a" stroke-width="0.22">1200</text>
<text x="572.30" y="737.30" font-size="13.8" textLength="34.06" lengthAdjust="spacingAndGlyphs" font-family="'Liberation Sans', Arial, sans-serif" fill="#1a1a1a" stroke="#1a1a1a" stroke-width="0.22">1400</text>
<text x="649.07" y="737.30" font-size="13.8" textLength="33.12" lengthAdjust="spacingAndGlyphs" font-family="'Liberation Sans', Arial, sans-serif" fill="#1a1a1a" stroke="#1a1a1a" stroke-width="0.22">1600</text>
<text x="51.70" y="35.30" font-size="14.3" textLength="8.61" lengthAdjust="spacingAndGlyphs" font-family="'Liberation Sans', Arial, sans-serif" fill="#1a1a1a" stroke="#1a1a1a" stroke-width="0.22">0</text>
<text x="173.89" y="35.30" font-size="14.3" textLength="18.07" lengthAdjust="spacingAndGlyphs" font-family="'Liberation Sans', Arial, sans-serif" fill="#1a1a1a" stroke="#1a1a1a" stroke-width="0.22">10</text>
<text x="301.56" y="35.30" font-size="14.3" textLength="17.62" lengthAdjust="spacingAndGlyphs" font-family="'Liberation Sans', Arial, sans-serif" fill="#1a1a1a" stroke="#1a1a1a" stroke-width="0.22">20</text>
<text x="428.99" y="35.30" font-size="14.3" textLength="17.41" lengthAdjust="spacingAndGlyphs" font-family="'Liberation Sans', Arial, sans-serif" fill="#1a1a1a" stroke="#1a1a1a" stroke-width="0.22">30</text>
<text x="556.47" y="35.30" font-size="14.3" textLength="17.16" lengthAdjust="spacingAndGlyphs" font-family="'Liberation Sans', Arial, sans-serif" fill="#1a1a1a" stroke="#1a1a1a" stroke-width="0.22">40</text>
<text x="304.73" y="11.10" font-size="14.0" textLength="111.85" lengthAdjust="spacingAndGlyphs" font-family="'Liberation Sans', Arial, sans-serif" fill="#1a1a1a" stroke="#1a1a1a" stroke-width="0.22">Frequency (THz)</text>
<text x="295.79" y="764.90" font-size="14.0" textLength="114.12" lengthAdjust="spacingAndGlyphs" font-family="'Liberation Sans', Arial, sans-serif" fill="#1a1a1a" stroke="#1a1a1a" stroke-width="0.22">Wavenumber (cm</text>
<text x="411.46" y="756.00" font-size="9.6" textLength="7.82" lengthAdjust="spacingAndGlyphs" font-family="'Liberation Sans', Arial, sans-serif" fill="#1a1a1a" stroke="#1a1a1a" stroke-width="0.12">-1</text>
<text x="421.26" y="764.90" font-size="14.0" textLength="5.15" lengthAdjust="spacingAndGlyphs" font-family="'Liberation Sans', Arial, sans-serif" fill="#1a1a1a" stroke="#1a1a1a" stroke-width="0.22">)</text>
<text transform="translate(10.00,0) rotate(-90)" x="-217.09" y="0" font-size="14.2" textLength="7.42" lengthAdjust="spacingAndGlyphs" font-family="'Liberation Sans', Arial, sans-serif" fill="#1a1a1a" stroke="#1a1a1a" stroke-width="0.3">R</text>
<text transform="translate(11.90,0) rotate(-90)" x="-556.17" y="0" font-size="14.2" textLength="7.18" lengthAdjust="spacingAndGlyphs" font-family="'Liberation Sans', Arial, sans-serif" fill="#1a1a1a" stroke="#1a1a1a" stroke-width="0.3">R</text>
<text x="627.39" y="62.30" font-size="20.6" textLength="28.83" lengthAdjust="spacingAndGlyphs" font-family="'Liberation Sans', Arial, sans-serif" fill="#1a1a1a">(a)</text>
<text x="626.91" y="405.40" font-size="20.6" textLength="30.27" lengthAdjust="spacingAndGlyphs" font-family="'Liberation Sans', Arial, sans-serif" fill="#1a1a1a">(b)</text>
<line x1="78.1" y1="59.6" x2="99.7" y2="59.6" stroke="#000" stroke-width="2.2" stroke-dasharray="8.8 9"/>
<text x="105.93" y="62.80" font-size="10.6" textLength="14.77" lengthAdjust="spacingAndGlyphs" font-family="'Liberation Sans', Arial, sans-serif" fill="#1a1a1a" stroke="#1a1a1a" stroke-width="0.12">SiC</text>
<line x1="78.1" y1="73.4" x2="99.7" y2="73.4" stroke="#000" stroke-width="1.8"/>
<text x="106.31" y="76.60" font-size="10.6" textLength="11.03" lengthAdjust="spacingAndGlyphs" font-family="'Liberation Sans', Arial, sans-serif" fill="#1a1a1a" stroke="#1a1a1a" stroke-width="0.12">#1</text>
<line x1="78.1" y1="87.1" x2="99.7" y2="87.1" stroke="#b4393c" stroke-width="1.8"/>
<text x="106.30" y="90.30" font-size="10.6" textLength="12.30" lengthAdjust="spacingAndGlyphs" font-family="'Liberation Sans', Arial, sans-serif" fill="#1a1a1a" stroke="#1a1a1a" stroke-width="0.12">#2</text>
<line x1="78.1" y1="100.8" x2="99.7" y2="100.8" stroke="#7fa5d3" stroke-width="1.8"/>
<text x="106.30" y="104.30" font-size="10.6" textLength="12.23" lengthAdjust="spacingAndGlyphs" font-family="'Liberation Sans', Arial, sans-serif" fill="#1a1a1a" stroke="#1a1a1a" stroke-width="0.12">#3</text>
<line x1="73.4" y1="403.1" x2="99.7" y2="403.1" stroke="#000" stroke-width="2.2" stroke-dasharray="8.8 9"/>
<text x="106.74" y="407.30" font-size="12.8" textLength="18.14" lengthAdjust="spacingAndGlyphs" font-family="'Liberation Sans', Arial, sans-serif" fill="#1a1a1a" stroke="#1a1a1a" stroke-width="0.22">SiC</text>
<line x1="73.4" y1="419.7" x2="99.7" y2="419.7" stroke="#51458f" stroke-width="1.8"/>
<text x="107.19" y="423.70" font-size="12.8" textLength="15.47" lengthAdjust="spacingAndGlyphs" font-family="'Liberation Sans', Arial, sans-serif" fill="#1a1a1a" stroke="#1a1a1a" stroke-width="0.22">#4</text>
<line x1="73.4" y1="436.1" x2="99.7" y2="436.1" stroke="#529c50" stroke-width="1.8"/>
<text x="107.19" y="440.60" font-size="12.8" textLength="15.44" lengthAdjust="spacingAndGlyphs" font-family="'Liberation Sans', Arial, sans-serif" fill="#1a1a1a" stroke="#1a1a1a" stroke-width="0.22">#5</text>
<line x1="73.4" y1="452.7" x2="99.7" y2="452.7" stroke="#394a93" stroke-width="1.8"/>
<text x="107.19" y="456.80" font-size="12.8" textLength="15.68" lengthAdjust="spacingAndGlyphs" font-family="'Liberation Sans', Arial, sans-serif" fill="#1a1a1a" stroke="#1a1a1a" stroke-width="0.22">#6</text>
<line x1="73.4" y1="469.3" x2="99.7" y2="469.3" stroke="#d27c57" stroke-width="1.8"/>
<text x="107.19" y="473.50" font-size="12.8" textLength="15.57" lengthAdjust="spacingAndGlyphs" font-family="'Liberation Sans', Arial, sans-serif" fill="#1a1a1a" stroke="#1a1a1a" stroke-width="0.22">#7</text>
</svg>
</body></html>
